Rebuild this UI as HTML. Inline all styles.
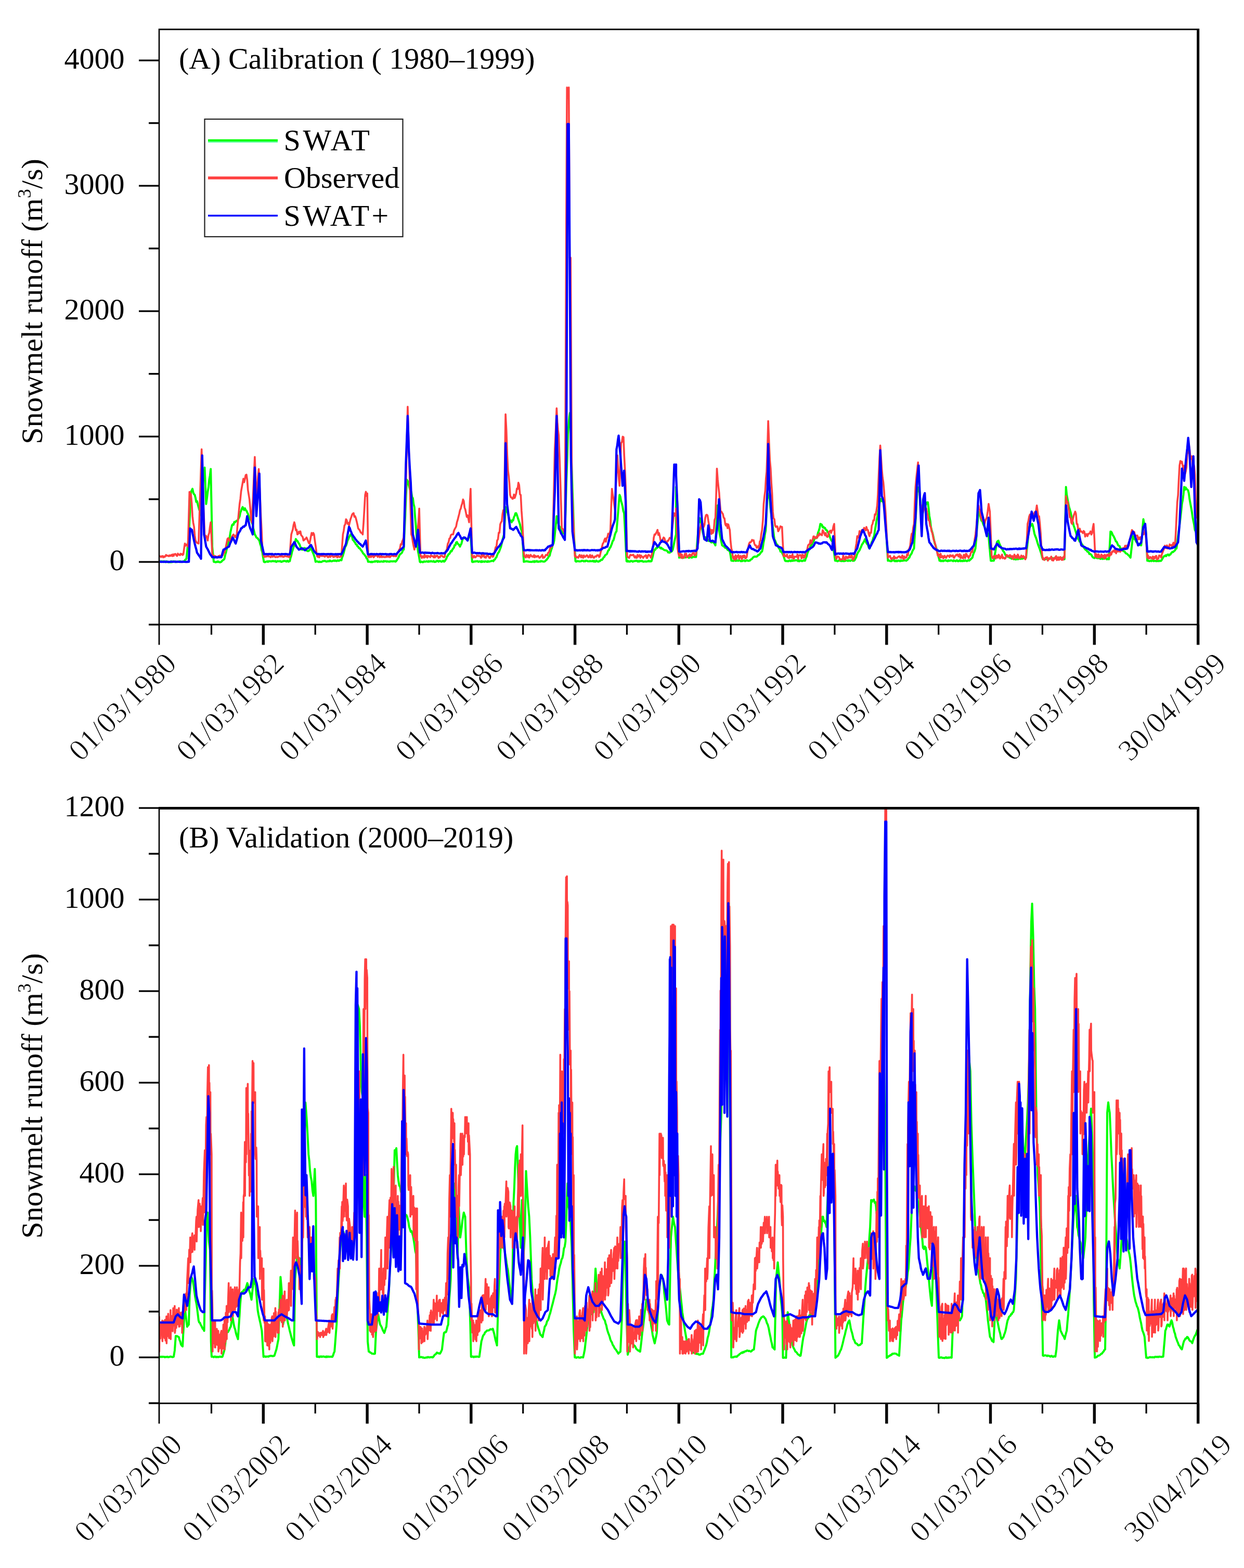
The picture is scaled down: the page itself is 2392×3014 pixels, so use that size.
<!DOCTYPE html><html><head><meta charset="utf-8"><style>html,body{margin:0;padding:0;background:#fff;overflow:hidden;}svg{display:block;}</style></head><body><svg width="2392" height="3014" viewBox="0 0 2392 3014">
<rect width="2392" height="3014" fill="#fff"/>
<clipPath id="clipA"><rect x="306.0" y="56.5" width="1997.5" height="1144.0"/></clipPath>
<g clip-path="url(#clipA)">
<polyline points="300.0,1079.9 301.3,1079.5 302.6,1079.2 303.9,1080.2 305.3,1079.0 306.6,1080.0 307.9,1079.6 309.2,1079.0 310.5,1079.9 311.8,1079.0 313.2,1079.8 314.5,1079.0 315.8,1079.1 317.1,1079.7 318.4,1080.5 319.7,1079.1 321.0,1079.3 322.4,1080.1 323.7,1080.8 325.0,1080.0 326.3,1079.7 327.6,1080.8 328.9,1079.0 330.2,1080.6 331.6,1079.5 332.9,1079.2 334.2,1079.1 335.5,1079.5 336.8,1080.5 338.1,1079.3 339.5,1080.1 340.8,1080.2 342.1,1079.6 343.4,1080.0 344.7,1079.0 346.0,1079.0 347.3,1079.3 348.7,1080.3 350.0,1079.7 351.3,1079.5 352.6,1079.9 354.1,1078.6 355.5,1076.9 357.0,1075.1 358.4,1074.1 360.0,1059.3 361.6,1043.6 363.1,1027.3 364.5,998.7 365.8,973.2 367.2,945.5 368.7,942.7 370.1,939.6 371.6,946.8 373.1,950.1 374.5,951.3 376.0,957.2 377.4,964.8 378.9,963.4 380.4,969.8 381.8,974.7 383.3,980.6 384.7,981.4 386.2,987.8 387.7,992.2 389.1,954.0 390.6,922.1 392.1,911.9 393.5,898.7 395.0,935.9 396.4,968.8 397.9,957.7 399.4,945.5 400.8,937.4 402.3,922.0 403.7,914.3 405.2,901.6 406.7,976.7 408.1,1050.7 409.6,1065.5 411.0,1079.9 412.4,1079.8 413.7,1080.6 415.0,1080.8 416.4,1079.8 417.7,1080.2 419.0,1079.0 420.3,1080.3 421.7,1080.2 423.0,1080.9 424.3,1080.5 425.7,1079.9 427.1,1078.0 428.6,1076.7 430.0,1075.9 431.5,1074.1 433.0,1067.0 434.4,1062.3 435.9,1055.5 437.3,1049.5 438.8,1043.3 440.3,1039.0 441.7,1032.7 443.2,1022.8 444.7,1015.9 446.1,1009.8 447.6,1007.8 449.0,1008.7 450.5,1003.3 452.0,1003.9 453.4,1002.2 454.9,1001.2 456.3,1001.5 457.8,998.1 459.3,995.9 460.7,992.3 462.2,985.1 463.6,982.0 465.1,977.7 466.6,974.7 468.0,978.5 469.5,980.4 471.0,977.0 472.4,980.5 473.9,981.6 475.3,984.8 476.8,987.8 478.3,992.2 479.7,995.1 481.2,998.5 482.6,999.8 484.1,1003.9 485.6,1007.4 487.0,1015.2 488.5,1020.9 489.9,1027.3 491.4,1029.5 492.9,1033.0 494.3,1033.9 495.8,1035.1 497.3,1037.5 498.7,1039.0 500.2,1045.4 501.6,1049.3 503.1,1057.7 504.6,1062.4 506.0,1071.8 507.5,1079.9 508.8,1080.6 510.1,1080.4 511.4,1079.6 512.7,1079.6 514.0,1078.9 515.3,1080.0 516.6,1078.8 517.9,1078.8 519.2,1079.0 520.6,1078.9 521.9,1079.2 523.2,1078.6 524.5,1078.5 525.8,1078.8 527.1,1078.6 528.4,1079.1 529.7,1078.4 531.0,1080.1 532.3,1079.5 533.6,1078.6 534.9,1078.8 536.2,1078.9 537.5,1078.9 538.9,1078.4 540.2,1079.8 541.5,1080.1 542.8,1079.0 544.1,1079.0 545.4,1078.2 546.7,1078.2 548.0,1078.6 549.3,1078.4 550.6,1079.5 551.9,1078.2 553.2,1077.9 554.5,1079.7 555.9,1078.8 557.2,1078.7 558.6,1072.4 560.1,1067.7 561.5,1060.8 563.0,1056.5 564.5,1051.5 565.9,1047.9 567.4,1042.5 568.8,1036.1 570.3,1039.0 571.8,1039.6 573.2,1042.2 574.7,1044.8 576.2,1046.7 577.6,1051.5 579.1,1053.7 580.5,1056.5 582.0,1056.6 583.5,1054.5 584.9,1053.5 586.4,1053.6 587.8,1056.0 589.3,1057.9 590.8,1059.0 592.2,1059.4 593.7,1058.9 595.1,1057.4 596.6,1055.8 598.1,1053.6 599.5,1056.5 601.0,1060.9 602.5,1064.2 603.9,1068.2 605.4,1073.0 606.8,1079.9 608.1,1078.9 609.5,1079.3 610.8,1079.2 612.1,1080.0 613.4,1080.4 614.7,1079.3 616.0,1080.2 617.3,1080.3 618.6,1080.1 619.9,1078.9 621.2,1078.5 622.5,1078.4 623.8,1078.3 625.1,1078.2 626.4,1079.0 627.8,1079.5 629.1,1079.3 630.4,1078.5 631.7,1078.7 633.0,1079.0 634.3,1077.4 635.6,1078.5 636.9,1079.0 638.2,1078.6 639.5,1078.5 640.8,1077.9 642.1,1077.2 643.4,1078.3 644.8,1077.3 646.1,1078.2 647.4,1078.5 648.7,1077.2 650.0,1077.2 651.3,1078.2 652.6,1077.7 653.9,1076.4 655.2,1076.3 656.5,1077.0 658.0,1071.1 659.4,1067.8 660.9,1062.5 662.4,1056.5 663.8,1051.0 665.3,1048.8 666.7,1045.0 668.2,1039.0 669.7,1036.6 671.1,1032.6 672.6,1030.4 674.1,1027.3 675.5,1028.8 677.0,1031.3 678.4,1037.8 679.9,1039.0 681.4,1041.5 682.8,1043.0 684.3,1046.3 685.7,1046.6 687.2,1049.9 688.7,1050.7 690.1,1053.6 691.6,1053.7 693.0,1055.8 694.5,1057.9 696.0,1059.7 697.4,1062.4 698.9,1064.5 700.4,1065.6 701.8,1068.0 703.3,1069.3 704.7,1073.0 706.2,1074.1 707.9,1079.9 709.3,1079.6 710.6,1079.8 711.9,1080.0 713.2,1080.6 714.5,1079.6 715.8,1080.6 717.1,1079.7 718.4,1079.7 719.8,1079.7 721.1,1078.6 722.4,1079.5 723.7,1078.9 725.0,1078.5 726.3,1080.1 727.6,1078.8 728.9,1079.4 730.2,1079.9 731.6,1079.5 732.9,1079.0 734.2,1079.4 735.5,1079.4 736.8,1079.8 738.1,1078.4 739.4,1079.3 740.7,1078.7 742.0,1078.7 743.4,1079.7 744.7,1079.1 746.0,1079.2 747.3,1079.6 748.6,1079.8 749.9,1078.9 751.2,1079.2 752.5,1078.9 753.8,1078.9 755.2,1079.3 756.5,1078.7 757.8,1078.9 759.1,1078.7 760.4,1079.7 761.7,1078.7 763.2,1076.5 764.6,1074.3 766.1,1071.9 767.6,1068.2 769.0,1065.6 770.5,1064.5 771.9,1063.6 773.4,1061.4 774.9,1057.4 776.3,1056.5 777.8,1021.3 779.3,989.0 780.7,952.7 782.2,922.1 783.5,923.9 784.9,926.5 786.3,933.8 787.8,939.0 789.4,943.7 790.9,945.5 792.4,955.6 793.9,957.7 795.3,968.8 796.8,974.7 798.2,994.6 799.7,1011.0 801.2,1033.2 802.6,1050.7 804.2,1061.7 805.7,1069.5 807.3,1079.9 808.6,1080.8 810.0,1079.6 811.3,1079.8 812.6,1080.7 814.0,1080.4 815.3,1079.0 816.6,1079.5 818.0,1079.7 819.3,1079.3 820.6,1079.0 821.9,1079.2 823.3,1079.9 824.6,1078.5 825.9,1079.5 827.3,1079.3 828.6,1078.4 829.9,1079.0 831.3,1079.6 832.6,1079.3 833.9,1078.4 835.3,1080.2 836.6,1079.8 837.9,1080.1 839.3,1078.3 840.6,1078.6 841.9,1078.1 843.2,1079.6 844.6,1078.5 845.9,1078.2 847.2,1078.8 848.6,1079.7 849.9,1079.5 851.2,1078.3 852.6,1078.1 853.9,1079.6 855.2,1078.7 856.7,1076.2 858.2,1073.9 859.6,1069.9 861.1,1068.2 862.5,1065.1 864.0,1064.8 865.5,1062.2 866.9,1059.2 868.4,1059.7 869.8,1056.5 871.3,1054.5 872.8,1052.6 874.2,1047.9 875.7,1048.0 877.1,1042.9 878.6,1041.9 880.1,1045.3 881.5,1046.1 883.0,1048.0 884.5,1050.7 885.9,1047.3 887.3,1045.1 888.7,1039.3 890.1,1035.3 891.5,1033.1 893.0,1034.4 894.5,1034.5 896.0,1035.2 897.5,1036.6 899.1,1039.0 900.5,1034.4 902.0,1032.0 903.4,1029.5 904.9,1027.3 906.4,1053.0 907.8,1079.9 909.2,1080.4 910.5,1079.4 911.8,1079.8 913.1,1079.1 914.4,1079.4 915.8,1078.7 917.1,1079.1 918.4,1078.6 919.7,1080.0 921.0,1079.6 922.3,1078.9 923.7,1079.4 925.0,1080.3 926.3,1078.6 927.6,1080.0 928.9,1079.2 930.3,1079.2 931.6,1079.9 932.9,1079.0 934.2,1079.2 935.5,1079.5 936.9,1080.0 938.2,1078.7 939.5,1079.7 940.8,1079.4 942.1,1079.2 943.5,1078.7 944.8,1078.5 946.1,1077.9 947.4,1078.0 948.7,1078.7 950.2,1075.9 951.7,1075.5 953.1,1072.5 954.6,1071.1 956.0,1066.9 957.5,1063.2 959.0,1061.8 960.4,1058.6 961.9,1054.6 963.4,1050.7 964.8,1044.1 966.3,1038.0 967.7,1032.3 969.2,1027.3 970.7,1000.8 972.1,974.7 973.6,977.0 975.0,983.1 976.5,986.5 978.0,992.2 979.4,997.6 980.9,1000.6 982.3,1001.2 983.8,1003.9 985.3,999.7 986.7,1000.5 988.2,994.1 989.7,991.4 991.1,986.5 992.6,986.4 994.0,990.1 995.5,995.0 997.0,999.5 998.4,1003.9 999.9,1008.3 1001.3,1015.6 1002.8,1019.3 1004.3,1027.3 1005.7,1052.9 1007.2,1079.9 1008.5,1079.0 1009.8,1079.6 1011.1,1078.9 1012.5,1078.8 1013.8,1079.3 1015.1,1079.1 1016.4,1079.8 1017.7,1079.7 1019.1,1080.1 1020.4,1079.8 1021.7,1079.9 1023.0,1080.2 1024.3,1079.2 1025.7,1079.0 1027.0,1080.3 1028.3,1078.6 1029.6,1079.7 1030.9,1079.5 1032.3,1078.3 1033.6,1079.8 1034.9,1079.9 1036.2,1079.3 1037.5,1079.5 1038.9,1079.6 1040.2,1078.2 1041.5,1079.0 1042.8,1078.9 1044.1,1079.5 1045.5,1079.4 1046.8,1079.4 1048.1,1078.7 1049.6,1077.1 1051.0,1076.1 1052.5,1073.9 1053.9,1072.2 1055.4,1069.3 1056.9,1068.2 1058.3,1062.1 1059.8,1057.4 1061.3,1053.2 1062.7,1047.4 1064.2,1045.0 1065.6,1039.0 1067.2,1023.6 1068.8,1008.4 1070.3,992.2 1071.7,998.7 1073.0,1004.8 1074.4,1009.8 1075.9,1012.6 1077.3,1013.3 1078.8,1019.8 1080.2,1021.4 1081.7,1024.0 1083.2,1024.4 1084.6,1026.0 1086.1,1027.3 1087.6,980.0 1089.0,927.4 1090.5,885.0 1091.9,834.4 1093.3,817.7 1094.7,801.7 1096.0,793.5 1097.8,846.4 1099.5,904.6 1100.9,947.2 1102.3,984.7 1103.6,1027.3 1105.1,1053.7 1106.5,1078.7 1107.9,1079.7 1109.2,1078.7 1110.6,1078.5 1111.9,1078.7 1113.2,1079.1 1114.6,1079.3 1115.9,1079.0 1117.2,1079.0 1118.6,1077.9 1119.9,1078.0 1121.2,1078.2 1122.6,1079.2 1123.9,1078.3 1125.2,1078.9 1126.6,1077.7 1127.9,1077.8 1129.3,1078.3 1130.6,1079.1 1131.9,1079.1 1133.3,1079.1 1134.6,1078.3 1135.9,1078.8 1137.3,1078.7 1138.6,1078.7 1139.9,1078.0 1141.3,1079.5 1142.6,1078.1 1144.0,1079.7 1145.3,1079.6 1146.6,1077.7 1148.0,1078.6 1149.3,1079.4 1150.6,1079.7 1152.0,1078.6 1153.3,1078.7 1154.8,1077.1 1156.2,1075.8 1157.7,1076.2 1159.1,1074.1 1160.6,1071.4 1162.1,1070.3 1163.5,1067.3 1165.0,1066.3 1166.5,1065.5 1167.9,1062.4 1169.4,1058.4 1170.8,1057.5 1172.3,1053.6 1173.8,1051.9 1175.2,1048.4 1176.7,1044.8 1178.1,1040.0 1179.6,1038.5 1181.1,1033.1 1182.5,1027.3 1184.0,1023.3 1185.4,1021.4 1186.9,1003.9 1188.4,986.1 1189.8,967.6 1191.3,951.3 1192.8,954.7 1194.2,963.0 1195.7,967.8 1197.1,973.6 1198.6,982.6 1200.1,986.4 1201.6,1014.9 1203.2,1048.8 1204.7,1078.7 1206.1,1079.4 1207.4,1078.0 1208.7,1079.6 1210.1,1079.2 1211.4,1079.5 1212.7,1078.3 1214.1,1078.5 1215.4,1078.5 1216.7,1079.7 1218.0,1078.9 1219.4,1078.4 1220.7,1078.6 1222.0,1078.3 1223.4,1077.8 1224.7,1077.9 1226.0,1079.4 1227.4,1078.3 1228.7,1079.6 1230.0,1078.2 1231.4,1078.3 1232.7,1078.7 1234.0,1078.1 1235.4,1078.5 1236.7,1079.7 1238.0,1079.5 1239.3,1079.4 1240.7,1079.0 1242.0,1079.6 1243.3,1079.6 1244.7,1078.8 1246.0,1079.2 1247.3,1077.8 1248.7,1079.2 1250.0,1078.6 1251.3,1079.2 1252.7,1078.7 1254.1,1073.5 1255.6,1067.1 1257.0,1060.9 1258.5,1056.5 1260.0,1056.8 1261.4,1053.5 1262.9,1053.5 1264.3,1052.1 1265.8,1051.0 1267.3,1050.7 1268.7,1052.4 1270.2,1054.1 1271.7,1052.9 1273.1,1055.0 1274.6,1055.0 1276.0,1056.5 1277.5,1057.4 1279.0,1057.7 1280.4,1057.8 1281.9,1058.5 1283.3,1059.4 1284.8,1062.0 1286.3,1061.6 1287.7,1062.4 1289.2,1060.1 1290.6,1060.6 1292.1,1059.4 1293.6,1056.5 1295.2,1049.1 1296.8,1040.6 1298.4,1033.4 1300.0,1027.3 1300.0,936.1 1301.5,954.0 1303.0,977.4 1304.4,1024.0 1305.9,1071.9 1307.3,1070.9 1308.6,1071.2 1310.0,1071.2 1311.3,1071.9 1312.7,1072.6 1314.0,1072.2 1315.4,1071.4 1316.7,1071.3 1318.1,1071.5 1319.4,1071.1 1320.8,1071.0 1322.1,1070.3 1323.5,1070.7 1324.8,1072.3 1326.2,1070.3 1327.5,1071.1 1328.9,1071.4 1330.3,1071.9 1331.6,1070.3 1333.0,1070.4 1334.3,1070.3 1335.7,1070.6 1337.0,1070.6 1338.4,1070.7 1339.8,1053.2 1341.3,1034.3 1342.8,1015.8 1344.3,995.2 1345.7,996.6 1347.0,1000.7 1348.4,1007.0 1350.0,1015.8 1351.6,1024.4 1353.1,1030.6 1354.6,1032.0 1356.1,1033.9 1357.6,1033.1 1359.0,1036.5 1360.5,1036.8 1362.0,1039.5 1363.5,1039.9 1364.9,1039.4 1366.4,1041.4 1367.9,1042.6 1369.4,1040.8 1370.8,1042.4 1372.4,1043.0 1374.0,1045.2 1375.6,1048.3 1376.9,1022.8 1378.3,998.1 1379.7,971.5 1381.2,997.5 1382.6,1018.8 1384.1,1027.1 1385.6,1034.1 1387.1,1041.8 1388.5,1048.3 1390.0,1049.1 1391.5,1050.4 1393.0,1049.8 1394.5,1053.1 1395.9,1052.4 1397.4,1054.2 1398.9,1056.9 1400.4,1057.6 1401.8,1058.1 1403.3,1060.1 1404.8,1068.0 1406.3,1077.8 1407.6,1077.3 1408.9,1078.1 1410.2,1078.2 1411.5,1077.0 1412.8,1076.9 1414.1,1077.9 1415.4,1078.0 1416.8,1077.6 1418.1,1077.2 1419.4,1078.0 1420.7,1076.8 1422.0,1077.4 1423.3,1077.7 1424.6,1078.8 1425.9,1078.1 1427.2,1078.6 1428.6,1077.8 1429.9,1077.3 1431.2,1077.3 1432.5,1078.8 1433.8,1078.2 1435.1,1077.4 1436.4,1076.8 1437.7,1077.8 1439.1,1078.2 1440.4,1077.6 1441.7,1077.8 1443.2,1075.8 1444.6,1075.2 1446.1,1074.3 1447.6,1071.9 1449.1,1070.8 1450.5,1069.8 1452.0,1070.0 1453.5,1069.7 1455.0,1069.9 1456.4,1068.9 1457.9,1066.7 1459.4,1066.8 1460.9,1065.1 1462.3,1063.1 1463.8,1060.8 1465.3,1060.1 1466.7,1053.3 1468.1,1042.9 1469.5,1036.5 1471.0,1025.9 1472.4,1018.8 1474.1,981.7 1475.9,947.9 1477.3,953.7 1478.7,954.4 1480.0,959.7 1481.4,976.3 1482.8,987.3 1484.2,1001.1 1485.8,1011.4 1487.3,1023.5 1488.9,1036.5 1490.4,1039.1 1491.9,1043.0 1493.3,1046.8 1494.8,1047.1 1496.3,1050.9 1497.8,1054.2 1499.3,1055.7 1500.8,1060.3 1502.4,1060.3 1503.9,1062.5 1505.4,1066.0 1506.8,1068.9 1508.2,1073.6 1509.6,1077.8 1510.9,1078.6 1512.2,1078.6 1513.5,1078.3 1514.9,1078.8 1516.2,1078.7 1517.5,1077.5 1518.8,1077.2 1520.1,1078.7 1521.5,1078.3 1522.8,1076.8 1524.1,1078.1 1525.4,1077.6 1526.8,1077.5 1528.1,1077.5 1529.4,1077.1 1530.7,1076.8 1532.1,1077.3 1533.4,1077.5 1534.7,1078.7 1536.0,1077.0 1537.3,1078.8 1538.7,1077.2 1540.0,1077.5 1541.3,1078.5 1542.6,1078.5 1544.0,1077.7 1545.3,1076.9 1546.6,1077.7 1547.9,1077.8 1549.4,1073.1 1550.9,1070.0 1552.4,1063.7 1553.8,1060.1 1555.3,1056.7 1556.8,1055.4 1558.3,1049.8 1559.7,1048.0 1561.2,1046.4 1562.7,1042.4 1564.2,1041.4 1565.6,1036.8 1567.1,1034.8 1568.6,1032.9 1570.1,1034.2 1571.5,1030.6 1573.0,1023.7 1574.5,1019.9 1576.0,1014.7 1577.4,1007.0 1578.9,1007.7 1580.4,1008.8 1581.9,1013.6 1583.4,1012.9 1584.8,1014.9 1586.3,1014.7 1587.8,1018.3 1589.3,1018.8 1590.7,1020.9 1592.2,1023.7 1593.7,1025.6 1595.2,1030.6 1596.6,1034.5 1598.1,1038.0 1599.6,1039.9 1601.1,1042.4 1602.6,1055.5 1604.2,1064.8 1605.8,1077.8 1607.1,1077.3 1608.4,1077.8 1609.7,1078.7 1611.0,1078.7 1612.3,1077.6 1613.6,1077.3 1614.9,1077.7 1616.2,1077.8 1617.5,1078.7 1618.9,1077.1 1620.2,1078.4 1621.5,1078.3 1622.8,1078.5 1624.1,1078.4 1625.4,1078.0 1626.7,1077.4 1628.0,1077.4 1629.3,1077.5 1630.6,1078.4 1631.9,1076.9 1633.2,1077.2 1634.5,1078.3 1635.8,1077.3 1637.2,1076.9 1638.5,1076.8 1639.8,1077.9 1641.1,1077.4 1642.4,1077.8 1643.7,1076.2 1645.0,1073.4 1646.3,1071.1 1647.6,1066.7 1648.9,1063.6 1650.3,1061.0 1651.6,1059.4 1652.9,1057.4 1654.2,1054.2 1655.7,1051.1 1657.1,1047.4 1658.6,1045.1 1660.1,1042.8 1661.6,1040.1 1663.0,1036.5 1664.5,1040.3 1666.0,1043.6 1667.5,1045.9 1668.9,1047.1 1670.4,1052.3 1671.9,1054.2 1673.4,1049.6 1674.9,1046.5 1676.3,1041.9 1677.8,1039.3 1679.3,1033.4 1680.8,1030.6 1682.2,1020.6 1683.7,1011.7 1685.2,1002.3 1686.7,995.2 1688.1,988.5 1689.6,977.9 1691.1,967.5 1692.6,959.7 1693.9,959.0 1695.3,963.1 1696.7,959.7 1698.3,965.7 1699.8,969.8 1701.4,977.4 1702.9,1004.1 1704.4,1028.3 1705.8,1054.2 1707.3,1077.8 1708.6,1077.0 1709.9,1077.8 1711.3,1078.5 1712.6,1078.5 1713.9,1078.7 1715.2,1076.9 1716.5,1077.4 1717.8,1077.0 1719.1,1077.2 1720.4,1078.8 1721.7,1078.0 1723.1,1078.7 1724.4,1077.5 1725.7,1078.6 1727.0,1077.7 1728.3,1077.3 1729.6,1078.4 1730.9,1078.7 1732.2,1077.0 1733.6,1078.0 1734.9,1078.1 1736.2,1077.2 1737.5,1077.5 1738.8,1077.1 1740.1,1077.2 1741.4,1077.3 1742.7,1077.8 1744.2,1076.5 1745.7,1075.2 1747.2,1072.7 1748.6,1071.9 1750.1,1067.8 1751.6,1065.6 1753.1,1063.5 1754.5,1059.2 1756.0,1056.6 1757.5,1054.2 1759.0,1026.4 1760.4,1002.6 1761.9,974.8 1763.4,947.9 1764.8,940.8 1766.2,937.0 1767.5,936.1 1769.1,955.1 1770.7,975.8 1772.3,995.2 1773.7,990.0 1775.2,981.0 1776.7,975.4 1778.2,971.5 1779.6,971.3 1781.1,968.0 1782.6,965.7 1784.1,965.6 1785.5,976.3 1787.0,991.8 1788.5,1000.1 1790.0,1012.9 1791.4,1019.1 1792.9,1024.1 1794.4,1030.2 1795.9,1037.8 1797.3,1044.1 1798.8,1048.3 1800.4,1053.8 1801.9,1059.3 1803.4,1066.6 1805.0,1071.2 1806.5,1077.8 1807.8,1076.8 1809.1,1078.6 1810.4,1077.6 1811.7,1078.5 1813.0,1077.6 1814.3,1078.6 1815.6,1077.7 1816.9,1077.1 1818.2,1076.8 1819.5,1077.9 1820.8,1078.1 1822.1,1078.7 1823.4,1077.0 1824.7,1078.1 1826.0,1077.5 1827.3,1077.8 1828.6,1077.1 1829.9,1077.4 1831.2,1077.8 1832.5,1078.7 1833.8,1077.0 1835.1,1077.8 1836.4,1078.4 1837.7,1078.8 1839.0,1077.2 1840.3,1077.0 1841.6,1078.7 1842.9,1078.8 1844.2,1077.8 1845.5,1076.9 1846.8,1078.7 1848.1,1077.6 1849.4,1078.6 1850.7,1078.1 1852.0,1078.5 1853.3,1077.1 1854.6,1078.4 1855.9,1077.2 1857.2,1077.6 1858.5,1078.5 1859.9,1078.5 1861.2,1077.1 1862.5,1077.2 1863.8,1077.8 1865.2,1076.1 1866.7,1074.9 1868.2,1073.1 1869.7,1071.9 1871.1,1066.5 1872.6,1062.4 1874.1,1059.3 1875.6,1054.2 1877.0,1038.0 1878.5,1016.7 1880.0,1001.4 1881.5,983.4 1882.8,988.8 1884.2,988.7 1885.6,995.2 1887.2,1000.9 1888.7,1001.1 1890.3,1007.0 1891.8,1010.4 1893.3,1013.1 1894.7,1016.4 1896.2,1018.8 1897.8,1021.9 1899.4,1026.3 1900.9,1030.6 1902.3,1046.6 1903.7,1061.9 1905.1,1077.8 1906.6,1078.1 1908.0,1077.7 1909.5,1077.7 1911.0,1077.8 1912.5,1067.8 1913.9,1060.4 1915.4,1051.2 1916.9,1042.4 1918.4,1040.0 1919.8,1039.4 1921.3,1044.0 1922.8,1047.7 1924.3,1050.4 1925.7,1054.2 1927.2,1055.7 1928.7,1059.0 1930.2,1060.5 1931.6,1063.1 1933.1,1066.3 1934.6,1068.9 1935.9,1068.5 1937.3,1069.9 1938.6,1070.6 1940.0,1070.0 1941.3,1071.9 1942.6,1071.2 1944.0,1073.2 1945.3,1073.9 1946.7,1073.8 1948.0,1073.3 1949.4,1074.9 1950.7,1074.7 1952.0,1074.3 1953.3,1075.4 1954.6,1073.4 1955.9,1074.8 1957.2,1075.0 1958.5,1074.2 1959.8,1074.2 1961.2,1072.7 1962.5,1074.3 1963.8,1073.0 1965.1,1073.9 1966.4,1073.7 1967.7,1071.8 1969.0,1073.1 1970.3,1073.2 1971.7,1071.1 1973.0,1071.9 1974.4,1056.7 1975.9,1043.3 1977.4,1026.2 1978.9,1012.9 1980.3,1013.3 1981.8,1008.8 1983.3,1010.0 1984.8,1007.0 1986.2,1011.2 1987.7,1018.8 1989.2,1026.4 1990.7,1030.6 1992.1,1033.9 1993.6,1038.6 1995.1,1043.9 1996.6,1048.3 1998.1,1052.2 1999.5,1055.8 2001.0,1060.7 2002.5,1065.1 2004.0,1071.5 2005.4,1074.9 2006.8,1075.1 2008.1,1075.5 2009.5,1073.8 2010.8,1075.0 2012.2,1073.4 2013.5,1074.2 2014.9,1074.3 2016.3,1073.6 2017.6,1074.6 2019.0,1073.7 2020.3,1073.7 2021.7,1074.2 2023.0,1072.4 2024.4,1074.2 2025.7,1073.3 2027.1,1072.6 2028.4,1073.4 2029.8,1072.1 2031.1,1073.6 2032.5,1072.6 2033.8,1071.9 2035.2,1072.8 2036.5,1071.9 2037.9,1071.9 2039.4,1071.7 2040.9,1073.4 2042.3,1072.4 2043.8,1074.6 2045.3,1073.8 2046.8,1074.9 2048.2,1006.2 2049.7,936.1 2051.2,951.4 2052.7,959.7 2054.1,967.2 2055.6,974.5 2057.1,979.3 2058.6,984.5 2060.0,991.7 2061.5,1001.1 2063.0,1003.8 2064.5,1010.5 2065.9,1014.0 2067.4,1018.8 2068.9,1023.3 2070.4,1029.2 2071.8,1030.6 2073.3,1036.5 2074.6,1037.5 2075.9,1041.0 2077.3,1040.7 2078.6,1042.7 2079.9,1045.8 2081.2,1047.0 2082.5,1049.8 2083.8,1051.4 2085.1,1054.2 2086.5,1055.8 2087.8,1057.2 2089.2,1057.4 2090.6,1060.0 2091.9,1060.9 2093.3,1061.4 2094.7,1064.9 2096.0,1064.4 2097.4,1065.6 2098.7,1066.8 2100.1,1069.5 2101.5,1071.4 2102.8,1071.9 2104.2,1072.7 2105.5,1071.9 2106.9,1071.8 2108.2,1071.3 2109.5,1072.9 2110.9,1072.8 2112.2,1072.5 2113.6,1073.3 2114.9,1073.0 2116.2,1074.2 2117.6,1073.9 2118.9,1072.9 2120.3,1074.5 2121.6,1072.8 2123.0,1074.0 2124.3,1073.8 2125.6,1073.6 2127.0,1073.3 2128.3,1075.1 2129.7,1073.5 2131.0,1074.8 2132.3,1074.9 2133.8,1049.7 2135.3,1021.7 2136.8,1022.4 2138.3,1024.9 2139.7,1028.8 2141.2,1030.6 2142.7,1033.6 2144.2,1037.0 2145.6,1040.6 2147.1,1041.3 2148.6,1044.7 2150.1,1048.3 2151.4,1049.0 2152.7,1049.5 2154.0,1053.4 2155.3,1054.4 2156.6,1055.5 2157.9,1054.7 2159.2,1058.5 2160.6,1059.5 2161.9,1060.1 2163.2,1061.3 2164.5,1063.4 2165.8,1063.9 2167.1,1064.6 2168.4,1065.7 2169.7,1067.3 2171.0,1068.2 2172.4,1070.2 2173.7,1071.9 2175.2,1058.8 2176.8,1045.0 2178.4,1030.6 2179.8,1034.3 2181.2,1036.1 2182.6,1036.8 2184.1,1040.2 2185.5,1042.4 2187.0,1043.1 2188.4,1045.3 2189.9,1045.4 2191.4,1045.5 2192.9,1047.8 2194.3,1048.3 2195.7,1033.4 2197.1,1013.5 2198.5,998.1 2200.0,1006.9 2201.6,1009.6 2203.2,1018.8 2204.7,1047.5 2206.1,1077.8 2207.5,1077.3 2208.8,1078.3 2210.1,1078.7 2211.5,1078.3 2212.8,1077.4 2214.1,1078.6 2215.4,1077.4 2216.8,1077.3 2218.1,1078.6 2219.4,1078.1 2220.7,1078.2 2222.1,1078.1 2223.4,1078.8 2224.7,1077.7 2226.1,1078.5 2227.4,1078.2 2228.7,1078.5 2230.0,1077.7 2231.4,1078.3 2232.7,1077.8 2234.2,1075.7 2235.7,1072.9 2237.1,1070.5 2238.6,1068.9 2239.9,1068.9 2241.2,1067.3 2242.5,1069.0 2243.9,1066.8 2245.2,1066.1 2246.5,1066.0 2247.8,1067.7 2249.1,1065.9 2250.4,1066.0 2251.7,1063.8 2253.0,1062.1 2254.3,1060.8 2255.7,1061.3 2257.0,1059.8 2258.3,1058.7 2259.6,1057.5 2260.9,1054.2 2262.2,1054.2 2263.7,1042.7 2265.2,1030.0 2266.6,1020.2 2268.1,1008.5 2269.6,997.3 2271.1,983.4 2272.6,968.8 2274.0,962.2 2275.5,950.9 2277.0,936.1 2278.5,941.5 2279.9,937.1 2281.4,939.8 2282.9,941.1 2284.4,942.5 2285.8,947.9 2287.3,959.2 2288.8,967.7 2290.3,975.3 2291.7,983.4 2293.2,994.0 2294.7,1001.7 2296.2,1008.9 2297.6,1018.8 2299.1,1021.5 2300.6,1026.0 2302.1,1033.1 2303.5,1036.5" fill="none" stroke="#00ff00" stroke-width="4.0" stroke-linejoin="round"/>
<polyline points="300.0,1071.1 301.4,1069.7 302.8,1070.0 304.1,1070.3 305.5,1068.5 306.9,1069.3 308.3,1069.2 309.6,1070.8 311.0,1069.2 312.4,1068.8 313.8,1071.4 315.1,1069.3 316.5,1070.6 317.9,1069.4 319.3,1066.7 320.6,1068.2 322.0,1068.1 323.4,1068.2 324.7,1069.2 326.0,1067.3 327.4,1068.7 328.7,1067.8 330.0,1066.3 331.3,1069.0 332.7,1065.5 334.0,1068.5 335.3,1065.6 336.7,1064.7 338.0,1065.4 339.3,1067.8 340.6,1068.6 342.0,1064.2 343.3,1066.2 344.6,1066.0 346.0,1067.3 347.3,1064.4 348.6,1065.7 349.9,1064.9 351.3,1066.9 352.6,1065.3 354.1,1053.8 355.5,1044.8 357.0,1048.8 358.4,1046.6 359.9,1047.7 361.4,1050.7 362.8,999.8 364.3,945.5 365.8,948.4 367.2,951.3 368.7,967.8 370.1,992.2 371.6,1005.0 373.1,1012.5 374.5,1029.2 376.0,1039.0 377.4,1041.6 378.9,1043.6 380.4,1044.1 381.8,1044.8 383.3,998.3 384.7,953.1 386.2,907.5 387.7,863.6 389.1,918.6 390.6,963.0 392.1,991.6 393.5,1027.3 395.0,1032.8 396.4,1030.1 397.9,1034.2 399.4,1039.0 400.8,1028.7 402.3,1024.3 403.7,1012.7 405.2,1003.9 406.7,1033.8 408.1,1065.3 409.6,1069.0 411.0,1069.4 412.4,1068.3 413.7,1069.2 415.0,1069.5 416.4,1070.4 417.7,1070.4 419.0,1070.0 420.3,1068.7 421.7,1068.6 423.0,1067.9 424.3,1070.8 425.7,1069.4 427.1,1068.3 428.6,1066.9 430.0,1062.6 431.5,1062.4 433.0,1055.5 434.4,1050.7 435.9,1043.1 437.3,1036.1 438.8,1034.5 440.3,1037.3 441.7,1040.6 443.2,1039.0 444.7,1034.4 446.1,1031.2 447.6,1028.9 449.0,1027.3 450.5,1030.1 452.0,1032.5 453.4,1029.4 454.9,1033.1 456.3,1014.5 457.8,998.9 459.3,983.3 460.7,968.8 462.2,958.9 463.6,944.5 465.1,936.1 466.6,927.9 468.0,920.3 469.5,926.9 471.0,920.0 472.4,913.3 473.9,912.4 475.3,922.1 476.8,942.3 478.3,951.3 479.7,960.3 481.2,976.5 482.6,995.1 484.1,1003.9 485.6,975.5 487.0,943.9 488.5,908.8 489.9,878.3 491.4,916.6 492.9,963.0 494.4,944.2 496.0,917.0 497.5,901.6 498.9,928.2 500.3,960.8 501.6,992.2 503.1,1021.2 504.6,1056.5 506.0,1062.5 507.5,1069.4 508.8,1070.6 510.1,1070.2 511.4,1069.4 512.7,1069.9 514.0,1069.2 515.3,1067.9 516.6,1069.8 517.9,1069.0 519.2,1070.4 520.6,1071.1 521.9,1069.1 523.2,1069.7 524.5,1070.4 525.8,1069.0 527.1,1068.2 528.4,1070.3 529.7,1071.0 531.0,1070.5 532.3,1070.2 533.6,1070.9 534.9,1070.1 536.2,1070.0 537.5,1069.2 538.9,1068.6 540.2,1069.9 541.5,1067.7 542.8,1069.0 544.1,1070.6 545.4,1070.3 546.7,1069.9 548.0,1068.3 549.3,1069.1 550.6,1069.2 551.9,1069.9 553.2,1069.0 554.5,1070.1 555.9,1071.2 557.2,1069.4 558.6,1046.6 560.1,1027.3 561.5,1022.5 563.0,1017.7 564.5,1008.9 565.9,1003.9 567.4,1009.7 568.8,1019.1 570.3,1018.2 571.8,1027.3 573.2,1026.1 574.7,1022.0 576.2,1024.9 577.6,1021.4 579.1,1028.8 580.5,1030.3 582.0,1032.1 583.5,1039.0 584.9,1038.0 586.4,1036.3 587.8,1036.0 589.3,1033.1 590.8,1036.1 592.2,1039.8 593.7,1043.8 595.1,1044.8 596.5,1038.1 597.9,1030.6 599.2,1024.4 600.8,1028.4 602.4,1024.4 603.9,1027.3 605.5,1040.1 607.0,1050.1 608.6,1062.4 609.8,1069.4 611.1,1070.5 612.4,1067.8 613.8,1071.4 615.1,1068.8 616.4,1067.5 617.8,1068.4 619.1,1069.0 620.4,1067.3 621.8,1069.0 623.1,1069.0 624.5,1070.2 625.8,1068.8 627.1,1068.4 628.5,1068.2 629.8,1070.4 631.1,1071.2 632.5,1069.5 633.8,1068.2 635.1,1070.6 636.5,1068.9 637.8,1068.2 639.2,1067.8 640.5,1070.5 641.8,1070.7 643.2,1069.9 644.5,1069.2 645.8,1069.6 647.2,1068.2 648.5,1071.3 649.8,1068.8 651.2,1070.0 652.5,1070.7 653.8,1070.7 655.2,1069.2 656.5,1069.4 658.0,1047.2 659.4,1027.3 660.9,1020.3 662.4,1009.8 663.8,1008.1 665.3,998.1 666.7,999.8 668.2,1006.8 669.7,1005.0 671.1,1009.8 672.6,1003.6 674.1,997.5 675.5,993.8 677.0,989.3 678.4,987.2 679.9,986.3 681.4,993.5 682.8,992.2 684.3,996.2 685.7,1001.8 687.2,1008.2 688.7,1015.6 690.1,1017.4 691.6,1019.0 693.0,1022.4 694.5,1024.5 696.0,1024.4 697.4,1027.3 699.0,1005.5 700.5,980.1 702.1,951.3 703.5,945.3 704.8,953.1 706.2,948.4 707.9,1069.4 709.3,1071.1 710.6,1070.6 711.9,1067.9 713.2,1070.8 714.5,1069.9 715.8,1067.3 717.1,1067.3 718.4,1071.3 719.8,1070.0 721.1,1068.3 722.4,1067.7 723.7,1067.9 725.0,1068.3 726.3,1070.5 727.6,1068.7 728.9,1067.9 730.2,1071.1 731.6,1070.6 732.9,1068.0 734.2,1071.0 735.5,1069.8 736.8,1070.6 738.1,1070.1 739.4,1071.0 740.7,1070.6 742.0,1070.8 743.4,1068.1 744.7,1070.2 746.0,1069.5 747.3,1070.4 748.6,1069.1 749.9,1071.0 751.2,1069.6 752.5,1068.4 753.8,1068.3 755.2,1067.9 756.5,1069.3 757.8,1067.5 759.1,1069.2 760.4,1067.9 761.7,1069.4 763.2,1066.1 764.6,1062.9 766.1,1059.9 767.6,1056.5 769.0,1054.5 770.5,1046.0 771.9,1046.8 773.4,1040.7 774.9,1037.4 776.3,1033.1 777.7,1001.4 779.1,970.4 780.4,933.8 782.2,855.7 783.9,781.8 786.3,869.5 787.8,921.0 789.4,979.2 790.9,1027.3 792.4,1031.9 793.9,1042.7 795.3,1049.9 796.8,1056.5 798.3,1048.2 799.9,1045.5 801.5,1039.0 803.0,1020.3 804.6,1002.8 806.1,977.6 808.5,1069.4 809.8,1068.3 811.1,1072.6 812.5,1069.4 813.8,1069.3 815.2,1072.0 816.5,1066.3 817.8,1070.8 819.2,1070.2 820.5,1068.3 821.8,1071.8 823.2,1068.5 824.5,1069.2 825.8,1069.5 827.2,1071.2 828.5,1067.5 829.8,1068.9 831.2,1068.9 832.5,1069.7 833.9,1071.5 835.2,1068.0 836.5,1071.5 837.9,1068.7 839.2,1069.4 840.5,1067.9 841.9,1069.4 843.2,1072.5 844.5,1070.4 845.9,1071.3 847.2,1068.3 848.6,1068.2 849.9,1068.0 851.2,1069.9 852.6,1070.3 853.9,1071.3 855.2,1069.4 856.7,1060.0 858.2,1058.7 859.6,1053.9 861.1,1044.8 862.5,1042.3 864.0,1035.2 865.5,1034.3 866.9,1028.8 868.4,1027.4 869.8,1027.3 871.3,1027.3 872.8,1020.5 874.2,1017.2 875.7,1014.6 877.1,1012.0 878.6,1003.9 880.1,999.3 881.5,993.5 883.0,987.9 884.5,980.5 885.9,977.8 887.4,971.5 888.8,967.5 890.3,960.1 891.8,963.0 893.2,975.3 894.7,979.3 896.1,986.4 897.6,993.7 899.1,990.7 900.5,996.1 902.0,1003.9 903.4,966.0 904.9,939.6 906.4,1007.4 907.8,1069.4 909.2,1072.1 910.5,1070.4 911.8,1068.5 913.1,1071.5 914.4,1071.3 915.8,1069.8 917.1,1067.8 918.4,1068.1 919.7,1068.9 921.0,1068.2 922.3,1068.9 923.7,1070.3 925.0,1072.2 926.3,1066.4 927.6,1069.8 928.9,1066.3 930.3,1066.9 931.6,1071.4 932.9,1069.9 934.2,1072.1 935.5,1069.0 936.9,1066.2 938.2,1068.6 939.5,1070.0 940.8,1072.3 942.1,1072.6 943.5,1069.2 944.8,1068.8 946.1,1066.7 947.4,1070.3 948.7,1069.4 950.2,1062.7 951.7,1057.5 953.1,1051.7 954.6,1050.7 956.0,1038.8 957.5,1036.7 959.0,1023.8 960.4,1024.0 961.9,1007.6 963.4,1003.9 964.8,1002.1 966.3,988.1 967.7,980.8 969.2,980.5 970.7,892.3 972.1,796.4 973.7,827.1 975.2,872.9 976.8,904.6 978.2,915.3 979.5,929.1 980.9,951.3 982.3,956.0 983.8,956.2 985.3,959.0 986.7,958.3 988.2,950.6 989.7,957.2 991.1,953.1 992.5,948.4 993.9,939.1 995.3,940.2 996.7,927.9 998.2,932.1 999.8,950.1 1001.3,951.3 1002.8,981.7 1004.3,1001.8 1005.7,1030.4 1007.2,1062.4 1008.4,1069.4 1009.7,1070.4 1011.0,1071.5 1012.3,1066.6 1013.7,1068.1 1015.0,1070.9 1016.3,1067.2 1017.6,1071.8 1019.0,1069.3 1020.3,1066.5 1021.6,1068.5 1022.9,1069.9 1024.3,1069.0 1025.6,1070.5 1026.9,1067.0 1028.2,1071.3 1029.6,1068.5 1030.9,1070.3 1032.2,1070.2 1033.5,1068.8 1034.9,1068.6 1036.2,1071.3 1037.5,1072.3 1038.8,1071.3 1040.2,1069.8 1041.5,1068.0 1042.8,1066.5 1044.1,1072.5 1045.5,1070.7 1046.8,1071.5 1048.1,1069.4 1049.6,1066.5 1051.0,1066.6 1052.5,1067.4 1053.9,1062.4 1055.4,1061.8 1056.9,1057.3 1058.3,1052.1 1059.8,1050.1 1061.3,1050.8 1062.7,1044.8 1064.1,983.0 1065.4,926.9 1066.8,863.6 1068.6,826.4 1070.3,784.7 1071.7,811.2 1073.0,826.4 1074.4,837.3 1075.9,878.0 1077.3,918.9 1078.8,968.1 1080.2,1015.6 1081.7,1016.3 1083.2,1019.4 1084.6,1023.0 1086.1,1021.4 1087.5,747.3 1088.8,432.6 1090.2,168.1 1091.9,188.4 1093.7,168.1 1095.4,495.4 1097.2,495.4 1099.5,933.8 1101.0,971.6 1102.5,1005.5 1103.9,1036.1 1105.4,1069.4 1106.7,1067.9 1108.0,1071.7 1109.4,1071.4 1110.7,1070.6 1112.0,1072.1 1113.4,1068.4 1114.7,1066.6 1116.0,1069.7 1117.4,1071.3 1118.7,1067.4 1120.0,1071.0 1121.4,1072.2 1122.7,1067.6 1124.0,1070.1 1125.3,1070.5 1126.7,1069.1 1128.0,1067.4 1129.3,1067.8 1130.7,1071.0 1132.0,1071.3 1133.3,1069.1 1134.7,1066.7 1136.0,1071.4 1137.3,1071.2 1138.7,1067.6 1140.0,1069.9 1141.3,1072.0 1142.7,1071.9 1144.0,1069.5 1145.3,1069.2 1146.6,1070.0 1148.0,1067.3 1149.3,1067.3 1150.6,1067.3 1152.0,1070.7 1153.3,1069.4 1154.8,1062.3 1156.2,1057.6 1157.7,1050.2 1159.1,1044.8 1160.6,1043.0 1162.1,1038.0 1163.5,1035.1 1165.0,1041.3 1166.5,1034.0 1167.9,1033.1 1169.4,1025.9 1170.8,1027.1 1172.3,1024.9 1173.8,1018.5 1175.2,974.9 1176.7,939.6 1178.1,951.2 1179.6,958.0 1181.1,970.6 1182.5,980.5 1184.1,938.7 1185.6,902.9 1187.2,875.3 1188.6,903.2 1189.9,920.1 1191.3,933.8 1192.8,892.6 1194.2,852.0 1195.8,849.4 1197.3,839.4 1198.9,840.3 1200.3,876.6 1201.6,901.4 1203.0,933.8 1204.4,1006.3 1205.9,1069.4 1207.2,1071.1 1208.6,1071.5 1209.9,1072.4 1211.2,1067.7 1212.6,1066.3 1213.9,1067.4 1215.3,1067.3 1216.6,1066.6 1217.9,1066.4 1219.3,1069.8 1220.6,1071.8 1221.9,1069.1 1223.3,1072.3 1224.6,1072.1 1225.9,1066.5 1227.3,1070.0 1228.6,1068.7 1229.9,1066.9 1231.3,1072.4 1232.6,1067.8 1234.0,1069.8 1235.3,1070.3 1236.6,1072.4 1238.0,1070.5 1239.3,1068.7 1240.6,1069.0 1242.0,1067.1 1243.3,1072.5 1244.6,1072.6 1246.0,1067.5 1247.3,1066.3 1248.7,1067.8 1250.0,1068.4 1251.3,1072.0 1252.7,1069.4 1254.1,1061.8 1255.6,1051.0 1257.0,1034.0 1258.5,1027.3 1260.0,1027.8 1261.4,1024.9 1262.9,1022.1 1264.3,1018.5 1265.8,1028.2 1267.3,1024.7 1268.7,1030.8 1270.2,1039.0 1271.7,1039.7 1273.1,1039.8 1274.6,1036.1 1276.0,1033.1 1277.5,1034.3 1279.0,1039.8 1280.4,1044.0 1281.9,1044.8 1283.3,1039.6 1284.8,1039.5 1286.3,1036.9 1287.7,1033.8 1289.2,1034.9 1290.6,1033.1 1292.1,1018.3 1293.6,1007.1 1295.0,994.2 1296.5,986.4 1298.2,991.3 1300.0,992.2 1300.0,977.4 1301.5,1009.9 1303.0,1054.2 1304.4,1063.6 1305.9,1068.9 1307.3,1066.1 1308.6,1064.5 1310.0,1072.5 1311.3,1065.9 1312.7,1072.3 1314.0,1071.5 1315.4,1071.6 1316.7,1064.7 1318.1,1067.4 1319.4,1064.0 1320.8,1071.5 1322.1,1070.6 1323.5,1068.5 1324.8,1066.8 1326.2,1065.6 1327.5,1069.9 1328.9,1066.7 1330.3,1067.9 1331.6,1063.3 1333.0,1063.9 1334.3,1062.3 1335.7,1068.2 1337.0,1066.6 1338.4,1066.0 1339.8,1053.7 1341.3,1048.3 1342.8,1043.4 1344.3,1030.6 1345.7,1019.9 1347.0,1013.8 1348.4,1007.0 1350.0,1004.6 1351.6,1008.0 1353.1,1012.9 1354.6,1008.4 1356.1,995.2 1357.6,990.0 1359.0,989.3 1360.5,990.7 1362.0,1001.1 1363.5,1009.8 1364.9,1018.8 1366.4,1018.1 1367.9,1026.5 1369.4,1018.7 1370.8,1024.7 1372.4,1020.7 1374.0,999.3 1375.6,995.2 1377.0,954.4 1378.5,900.7 1380.0,921.5 1381.5,936.1 1382.8,947.2 1384.2,967.3 1385.6,983.4 1387.1,983.3 1388.5,985.9 1390.0,988.1 1391.5,995.2 1393.0,996.3 1394.5,1007.5 1395.9,1010.5 1397.4,1007.0 1398.9,1015.3 1400.4,1007.9 1401.8,1013.2 1403.3,1018.8 1404.8,1040.8 1406.3,1054.2 1407.7,1058.9 1409.2,1071.9 1410.5,1073.8 1411.9,1070.0 1413.2,1076.0 1414.5,1067.4 1415.9,1074.3 1417.2,1070.1 1418.5,1068.3 1419.8,1067.0 1421.2,1074.3 1422.5,1071.5 1423.8,1068.5 1425.1,1070.6 1426.5,1074.8 1427.8,1068.6 1429.1,1071.7 1430.5,1067.7 1431.8,1068.0 1433.1,1073.3 1434.4,1072.7 1435.8,1070.7 1437.2,1060.8 1438.7,1052.4 1440.2,1045.3 1441.7,1042.4 1443.2,1042.8 1444.6,1040.9 1446.1,1037.7 1447.6,1039.4 1449.1,1038.5 1450.5,1045.0 1452.0,1048.2 1453.5,1048.3 1455.0,1052.9 1456.4,1052.1 1457.9,1049.7 1459.4,1054.2 1460.9,1040.8 1462.3,1039.0 1463.8,1026.6 1465.3,1018.8 1466.9,1000.1 1468.4,969.0 1470.0,953.8 1471.4,943.3 1472.8,919.4 1474.1,906.6 1475.6,865.3 1477.1,809.2 1478.9,853.5 1480.3,884.6 1481.8,900.7 1483.2,928.1 1484.6,948.1 1486.0,983.4 1487.4,996.4 1488.9,997.8 1490.4,1010.3 1491.9,1012.9 1493.3,1011.5 1494.8,1012.0 1496.3,1021.3 1497.8,1018.8 1499.2,1015.7 1500.7,1011.7 1502.2,1012.8 1503.7,1012.9 1505.1,1041.9 1506.6,1068.9 1507.9,1064.5 1509.3,1069.2 1510.6,1068.6 1511.9,1069.3 1513.3,1065.8 1514.6,1071.2 1515.9,1072.2 1517.3,1072.7 1518.6,1067.9 1519.9,1071.4 1521.3,1068.5 1522.6,1071.9 1523.9,1065.7 1525.3,1073.1 1526.6,1073.9 1527.9,1069.8 1529.3,1070.0 1530.6,1070.3 1531.9,1070.4 1533.3,1065.8 1534.6,1074.3 1535.9,1067.7 1537.3,1067.4 1538.6,1066.8 1539.9,1068.1 1541.3,1073.3 1542.6,1066.3 1543.9,1066.9 1545.3,1072.4 1546.6,1067.9 1547.9,1070.7 1549.4,1060.6 1550.9,1060.5 1552.4,1054.7 1553.8,1048.3 1555.3,1046.6 1556.8,1046.5 1558.3,1038.2 1559.7,1044.4 1561.2,1040.8 1562.7,1036.5 1564.2,1031.0 1565.6,1031.3 1567.1,1034.9 1568.6,1034.5 1570.1,1031.6 1571.5,1033.5 1573.0,1027.8 1574.5,1029.5 1576.0,1025.0 1577.4,1027.6 1578.9,1027.2 1580.4,1028.9 1581.9,1019.0 1583.4,1021.7 1584.8,1024.8 1586.3,1029.0 1587.8,1024.5 1589.3,1030.6 1590.7,1032.1 1592.2,1031.2 1593.7,1022.6 1595.2,1021.7 1596.6,1020.0 1598.1,1024.3 1599.6,1019.8 1601.1,1018.8 1602.5,1011.6 1604.0,1007.0 1605.5,1044.2 1607.0,1071.9 1608.3,1074.4 1609.6,1070.5 1610.9,1069.6 1612.2,1070.4 1613.5,1071.3 1614.8,1076.2 1616.1,1074.6 1617.5,1075.6 1618.8,1074.7 1620.1,1075.0 1621.4,1067.9 1622.7,1072.1 1624.0,1076.0 1625.3,1075.7 1626.6,1069.7 1628.0,1071.2 1629.3,1073.1 1630.6,1070.7 1631.9,1072.2 1633.2,1068.1 1634.5,1071.3 1635.8,1071.9 1637.1,1067.7 1638.4,1068.7 1639.8,1076.1 1641.1,1074.4 1642.4,1071.9 1643.9,1065.7 1645.3,1052.6 1646.8,1044.2 1648.3,1030.6 1649.8,1033.5 1651.2,1032.1 1652.7,1020.7 1654.2,1024.7 1655.7,1024.9 1657.1,1018.9 1658.6,1022.4 1660.1,1018.8 1661.6,1014.5 1663.0,1016.3 1664.5,1019.6 1666.0,1012.9 1667.5,1018.8 1668.9,1018.8 1670.4,1026.4 1671.9,1030.6 1673.4,1023.9 1674.9,1024.2 1676.3,1010.2 1677.8,1007.0 1679.3,1000.0 1680.8,1000.1 1682.2,988.5 1683.7,989.3 1685.2,981.8 1686.7,971.5 1688.1,950.3 1689.6,914.2 1691.1,880.6 1692.6,856.4 1694.0,877.9 1695.5,900.7 1697.0,917.6 1698.5,927.1 1699.9,943.3 1701.4,965.6 1702.9,987.2 1704.4,1016.3 1705.8,1044.4 1707.3,1071.9 1708.6,1070.0 1709.9,1069.6 1711.3,1068.3 1712.6,1072.3 1713.9,1074.9 1715.2,1072.9 1716.5,1072.5 1717.8,1073.2 1719.1,1069.3 1720.4,1073.8 1721.7,1071.6 1723.1,1072.3 1724.4,1072.9 1725.7,1071.6 1727.0,1070.2 1728.3,1069.6 1729.6,1069.4 1730.9,1072.0 1732.2,1070.9 1733.6,1072.7 1734.9,1067.6 1736.2,1070.6 1737.5,1075.1 1738.8,1069.6 1740.1,1072.4 1741.4,1071.8 1742.7,1071.9 1744.2,1065.5 1745.7,1067.6 1747.2,1056.6 1748.6,1054.2 1750.1,1049.1 1751.6,1034.7 1753.1,1025.7 1754.5,1027.1 1756.0,1014.1 1757.5,1007.0 1759.0,965.0 1760.4,936.1 1762.0,918.4 1763.6,903.5 1765.2,888.9 1766.5,920.7 1767.9,937.5 1769.3,971.5 1770.8,970.5 1772.3,984.1 1773.7,983.8 1775.2,983.4 1776.7,977.0 1778.2,978.1 1779.6,976.8 1781.1,977.4 1782.6,985.8 1784.1,990.9 1785.5,999.9 1787.0,1001.1 1788.5,1011.1 1790.0,1013.1 1791.4,1021.6 1792.9,1024.7 1794.4,1033.3 1795.9,1039.3 1797.3,1042.1 1798.8,1048.3 1800.3,1056.3 1801.8,1060.6 1803.2,1067.7 1804.7,1068.9 1806.0,1065.6 1807.3,1072.3 1808.7,1064.5 1810.0,1071.3 1811.3,1069.7 1812.6,1068.9 1813.9,1073.1 1815.2,1069.6 1816.5,1068.2 1817.8,1071.5 1819.2,1072.3 1820.5,1069.9 1821.8,1067.9 1823.1,1068.5 1824.4,1068.6 1825.7,1071.0 1827.0,1067.1 1828.3,1068.0 1829.6,1069.4 1831.0,1067.9 1832.3,1067.3 1833.6,1071.5 1834.9,1072.1 1836.2,1068.9 1837.5,1068.4 1838.8,1066.1 1840.1,1067.2 1841.5,1065.7 1842.8,1069.6 1844.1,1069.7 1845.4,1065.2 1846.7,1072.7 1848.0,1067.4 1849.3,1072.1 1850.6,1072.0 1851.9,1073.1 1853.3,1066.3 1854.6,1068.3 1855.9,1072.7 1857.2,1064.5 1858.5,1064.9 1859.8,1069.5 1861.1,1068.9 1862.4,1072.7 1863.8,1068.9 1865.1,1068.5 1866.5,1063.4 1867.9,1060.1 1869.5,1061.0 1871.0,1052.4 1872.6,1048.3 1874.2,1036.7 1875.8,1026.8 1877.3,1012.9 1878.7,997.6 1880.1,983.3 1881.5,971.5 1882.9,978.8 1884.4,981.2 1885.9,995.4 1887.4,995.2 1888.8,1000.5 1890.3,1001.4 1891.8,998.8 1893.3,1007.0 1894.6,1001.4 1896.0,997.8 1897.4,995.2 1899.2,982.8 1900.9,968.6 1903.3,983.4 1905.1,1027.0 1906.8,1068.9 1908.2,1072.4 1909.5,1073.2 1910.8,1068.9 1912.1,1068.6 1913.5,1070.3 1914.8,1073.6 1916.1,1067.8 1917.4,1069.5 1918.7,1072.1 1920.1,1066.3 1921.4,1067.7 1922.7,1073.7 1924.0,1072.3 1925.4,1069.6 1926.7,1066.0 1928.0,1073.1 1929.3,1071.3 1930.6,1072.5 1932.0,1074.0 1933.3,1073.1 1934.6,1069.0 1935.9,1066.6 1937.3,1067.9 1938.6,1069.9 1939.9,1069.9 1941.2,1067.1 1942.6,1067.1 1943.9,1071.1 1945.2,1070.9 1946.5,1068.7 1947.8,1074.5 1949.2,1071.3 1950.5,1066.0 1951.8,1069.4 1953.1,1072.8 1954.5,1068.5 1955.8,1072.0 1957.1,1065.9 1958.4,1068.6 1959.7,1073.4 1961.1,1071.2 1962.4,1071.9 1963.7,1067.8 1965.0,1070.5 1966.4,1071.0 1967.7,1068.5 1969.0,1071.9 1970.3,1070.9 1971.6,1075.1 1973.0,1070.7 1974.4,1039.7 1975.9,1007.0 1977.4,1001.4 1978.9,993.1 1980.3,989.0 1981.8,989.3 1983.3,994.3 1984.8,986.8 1986.2,988.3 1987.7,995.2 1989.2,984.7 1990.7,983.7 1992.1,982.1 1993.6,971.5 1995.1,982.0 1996.6,993.5 1998.1,992.3 1999.5,1007.0 2001.0,1025.1 2002.5,1054.2 2004.0,1067.0 2005.4,1074.9 2006.8,1073.2 2008.1,1076.5 2009.4,1073.3 2010.8,1071.6 2012.1,1072.3 2013.4,1070.8 2014.8,1077.7 2016.1,1074.8 2017.4,1072.7 2018.8,1073.5 2020.1,1072.8 2021.4,1069.8 2022.8,1077.0 2024.1,1074.2 2025.4,1077.5 2026.8,1072.8 2028.1,1074.3 2029.4,1070.9 2030.8,1069.0 2032.1,1076.7 2033.4,1076.0 2034.8,1071.1 2036.1,1076.2 2037.4,1075.4 2038.8,1070.7 2040.1,1073.3 2041.4,1076.3 2042.8,1072.1 2044.1,1076.1 2045.4,1069.7 2046.8,1071.9 2048.2,1011.5 2049.7,953.8 2051.2,964.6 2052.7,964.4 2054.1,973.2 2055.6,983.4 2057.1,994.4 2058.6,994.9 2060.0,1004.9 2061.5,1007.0 2063.0,997.7 2064.5,990.8 2065.9,987.3 2067.4,983.4 2068.9,987.9 2070.4,1007.2 2071.8,1007.3 2073.3,1018.8 2074.8,1020.5 2076.3,1016.1 2077.7,1022.1 2079.2,1021.4 2080.7,1022.6 2082.2,1024.7 2083.6,1020.6 2085.1,1022.3 2086.6,1031.4 2088.1,1026.9 2089.6,1026.7 2091.0,1030.6 2092.5,1026.1 2094.0,1026.1 2095.5,1024.6 2096.9,1021.3 2098.4,1027.6 2099.9,1024.7 2101.4,1013.9 2102.8,1007.0 2104.3,1034.2 2105.8,1068.9 2107.1,1070.8 2108.4,1065.3 2109.8,1066.9 2111.1,1072.0 2112.4,1065.6 2113.8,1068.4 2115.1,1072.0 2116.4,1071.7 2117.7,1065.9 2119.1,1067.6 2120.4,1071.0 2121.7,1067.8 2123.1,1073.1 2124.4,1066.3 2125.7,1073.0 2127.0,1069.0 2128.4,1066.5 2129.7,1068.5 2131.0,1065.6 2132.3,1068.9 2133.8,1068.6 2135.3,1062.3 2136.8,1066.1 2138.3,1060.1 2139.6,1060.9 2140.9,1058.8 2142.2,1057.7 2143.5,1061.1 2144.8,1057.3 2146.1,1063.7 2147.4,1056.5 2148.7,1060.2 2150.1,1060.1 2151.4,1059.8 2152.7,1056.6 2154.0,1060.8 2155.3,1056.4 2156.6,1058.4 2157.9,1056.8 2159.2,1053.6 2160.6,1053.8 2161.9,1054.2 2163.3,1049.1 2164.8,1049.0 2166.3,1054.8 2167.8,1048.4 2169.2,1050.9 2170.7,1048.3 2172.2,1036.7 2173.7,1034.2 2175.1,1024.5 2176.6,1018.8 2178.1,1021.7 2179.6,1022.3 2181.1,1022.6 2182.5,1030.6 2184.0,1029.4 2185.5,1029.5 2187.0,1029.4 2188.4,1036.9 2189.9,1033.1 2191.4,1036.5 2192.9,1032.5 2194.3,1035.2 2195.8,1030.8 2197.3,1024.7 2198.9,1027.2 2200.4,1025.0 2202.0,1018.8 2203.4,1032.4 2204.8,1052.0 2206.1,1071.9 2207.5,1067.7 2208.8,1073.5 2210.1,1073.3 2211.5,1070.6 2212.8,1071.1 2214.1,1073.3 2215.4,1073.7 2216.8,1069.7 2218.1,1075.0 2219.4,1070.6 2220.7,1073.0 2222.1,1069.1 2223.4,1068.5 2224.7,1075.6 2226.1,1074.0 2227.4,1073.8 2228.7,1067.8 2230.0,1067.8 2231.4,1068.9 2232.7,1071.9 2234.2,1064.7 2235.7,1061.2 2237.1,1057.5 2238.6,1054.2 2239.9,1048.9 2241.2,1051.0 2242.5,1053.6 2243.9,1048.3 2245.2,1054.3 2246.5,1051.0 2247.8,1051.8 2249.1,1046.4 2250.4,1048.3 2251.9,1047.6 2253.4,1050.2 2254.8,1046.7 2256.3,1043.2 2257.8,1051.7 2259.3,1048.3 2260.7,1026.0 2262.2,994.3 2263.7,964.7 2265.2,951.8 2266.6,922.3 2268.1,894.8 2269.6,886.0 2271.1,889.8 2272.6,887.2 2274.0,894.8 2275.5,903.4 2277.0,895.2 2278.5,911.5 2279.9,906.6 2281.4,898.2 2282.9,871.6 2284.4,870.9 2285.8,853.5 2287.3,863.0 2288.8,877.1 2290.3,882.2 2291.7,877.1 2293.2,892.5 2294.7,890.5 2296.2,895.9 2297.6,912.5 2299.1,961.0 2300.6,995.2 2302.1,979.3 2303.5,965.6" fill="none" stroke="#ff4040" stroke-width="3.6" stroke-linejoin="round"/>
<polyline points="300.0,1079.9 301.3,1080.2 302.6,1080.0 304.0,1080.1 305.3,1080.2 306.6,1080.0 307.9,1079.9 309.3,1079.5 310.6,1080.1 311.9,1079.8 313.2,1079.9 314.5,1080.2 315.9,1079.6 317.2,1080.1 318.5,1079.5 319.8,1080.1 321.2,1080.1 322.5,1079.7 323.8,1079.9 325.1,1080.3 326.4,1080.0 327.8,1079.9 329.1,1079.7 330.4,1079.5 331.7,1079.8 333.0,1079.8 334.4,1079.7 335.7,1079.7 337.0,1079.6 338.3,1080.1 339.7,1080.0 341.0,1079.7 342.3,1079.7 343.6,1079.9 344.9,1079.9 346.3,1080.2 347.6,1079.8 348.9,1079.7 350.2,1080.2 351.6,1079.6 352.9,1079.9 354.2,1079.8 355.5,1079.9 357.0,1080.1 358.6,1079.9 360.1,1080.1 361.6,1079.6 363.1,1079.9 365.5,1015.6 367.2,1017.4 369.0,1018.5 370.3,1025.5 371.7,1032.1 373.1,1039.0 374.5,1045.2 376.0,1051.1 377.4,1056.0 378.9,1062.4 380.4,1064.5 381.9,1066.9 383.5,1069.1 385.0,1071.3 386.5,1074.1 388.8,875.3 390.6,950.6 392.3,1027.3 393.7,1034.6 395.1,1043.2 396.4,1050.7 398.0,1053.5 399.5,1056.0 401.0,1059.2 402.5,1062.3 404.0,1065.3 405.4,1067.1 406.8,1068.8 408.1,1071.1 409.5,1070.7 410.8,1070.7 412.2,1071.6 413.5,1071.4 414.9,1070.7 416.2,1071.3 417.6,1071.6 418.9,1071.2 420.3,1070.7 421.6,1071.1 423.0,1071.1 424.3,1070.8 425.7,1071.1 427.0,1066.3 428.4,1060.8 429.7,1056.5 431.1,1056.3 432.4,1055.2 433.7,1054.5 435.0,1054.2 436.3,1053.1 437.6,1051.8 439.0,1051.1 440.3,1050.7 441.7,1046.6 443.1,1042.9 444.5,1040.6 445.9,1037.2 447.3,1033.1 448.7,1035.7 450.2,1038.5 451.7,1042.1 453.1,1044.8 454.7,1039.5 456.2,1033.9 457.8,1027.3 459.3,1023.7 460.7,1022.0 462.2,1019.2 463.6,1015.6 465.1,1015.1 466.6,1013.3 468.0,1012.0 469.5,1012.4 471.0,1010.3 472.4,1009.8 473.9,1000.7 475.3,992.2 476.8,998.2 478.3,1003.6 479.7,1010.5 481.2,1015.6 482.7,1019.0 484.3,1022.5 485.9,1027.3 487.2,984.6 488.6,942.0 489.9,898.7 491.4,946.6 492.9,992.2 494.3,972.4 495.8,952.7 497.3,932.5 498.7,910.4 500.2,974.7 501.6,1039.0 503.1,1045.6 504.6,1051.7 506.0,1058.5 507.5,1065.3 508.8,1065.4 510.1,1064.8 511.4,1065.5 512.7,1064.9 514.0,1065.2 515.3,1065.8 516.6,1064.8 517.9,1064.8 519.2,1065.2 520.6,1064.9 521.9,1065.5 523.2,1064.7 524.5,1065.7 525.8,1065.7 527.1,1065.6 528.4,1065.2 529.7,1065.0 531.0,1065.5 532.3,1065.3 533.6,1065.2 534.9,1065.1 536.2,1065.2 537.5,1065.5 538.9,1065.6 540.2,1065.7 541.5,1064.9 542.8,1065.1 544.1,1065.2 545.4,1065.4 546.7,1065.1 548.0,1065.0 549.3,1064.8 550.6,1065.1 551.9,1065.2 553.2,1065.8 554.5,1065.7 555.9,1065.7 557.2,1065.3 558.6,1058.6 560.1,1050.7 561.5,1049.1 563.0,1046.5 564.5,1044.6 565.9,1041.9 567.3,1044.2 568.7,1048.0 570.0,1050.7 571.6,1052.8 573.1,1054.3 574.7,1056.5 576.2,1055.9 577.6,1055.6 579.1,1054.3 580.5,1053.6 582.0,1054.8 583.5,1055.4 584.9,1056.5 586.4,1057.7 587.8,1057.1 589.3,1055.0 590.8,1054.2 592.2,1053.6 593.7,1052.4 595.1,1050.6 596.6,1048.6 598.1,1047.7 599.5,1050.9 601.0,1053.4 602.5,1056.6 603.9,1059.4 605.4,1060.8 606.8,1062.4 608.3,1063.9 609.8,1065.3 611.1,1065.2 612.4,1064.9 613.8,1064.9 615.1,1065.7 616.4,1065.3 617.8,1064.9 619.1,1065.7 620.4,1065.0 621.8,1064.8 623.1,1065.3 624.5,1065.0 625.8,1065.3 627.1,1065.3 628.5,1065.0 629.8,1065.4 631.1,1064.9 632.5,1065.3 633.8,1065.4 635.1,1064.8 636.5,1065.2 637.8,1064.8 639.2,1065.2 640.5,1065.7 641.8,1065.3 643.2,1065.5 644.5,1065.6 645.8,1064.9 647.2,1065.8 648.5,1065.5 649.8,1064.9 651.2,1065.6 652.5,1065.2 653.8,1064.9 655.2,1065.8 656.5,1065.3 658.0,1062.4 659.4,1059.4 660.9,1056.1 662.4,1051.6 663.8,1048.9 665.3,1044.8 666.7,1036.1 668.2,1028.3 669.7,1020.5 671.1,1012.7 672.6,1015.3 674.1,1020.2 675.5,1023.1 677.0,1027.3 678.4,1028.9 679.9,1031.6 681.4,1033.0 682.8,1035.7 684.3,1037.2 685.7,1039.0 687.2,1041.0 688.7,1042.0 690.1,1044.0 691.6,1045.4 693.0,1045.8 694.5,1048.1 696.0,1049.0 697.4,1050.7 698.9,1048.1 700.4,1045.1 701.8,1042.4 703.3,1039.0 704.6,1047.2 706.0,1056.4 707.4,1065.3 708.7,1065.5 710.0,1065.8 711.3,1065.5 712.7,1064.8 714.0,1065.4 715.3,1064.8 716.6,1065.3 718.0,1065.6 719.3,1064.9 720.6,1065.7 721.9,1065.5 723.3,1065.0 724.6,1065.0 725.9,1065.2 727.2,1065.7 728.6,1065.4 729.9,1064.9 731.2,1064.8 732.6,1064.9 733.9,1065.6 735.2,1064.9 736.5,1065.3 737.9,1065.1 739.2,1065.5 740.5,1065.2 741.8,1064.9 743.2,1065.7 744.5,1065.3 745.8,1065.5 747.1,1065.6 748.5,1065.8 749.8,1064.8 751.1,1065.1 752.4,1064.9 753.8,1065.3 755.1,1065.7 756.4,1065.6 757.7,1064.8 759.1,1064.9 760.4,1065.6 761.7,1065.3 763.2,1064.0 764.6,1062.2 766.1,1060.9 767.6,1059.4 769.0,1057.6 770.5,1057.0 771.9,1054.9 773.4,1054.1 774.9,1052.3 776.3,1050.7 777.7,997.0 779.1,944.9 780.4,892.9 782.2,844.6 783.9,799.4 786.3,869.5 788.0,900.5 789.8,927.9 791.1,961.3 792.5,993.0 793.9,1027.3 795.3,1032.6 796.8,1038.8 798.2,1044.8 799.7,1050.7 801.1,1040.1 802.4,1029.0 803.8,1018.5 805.6,1040.2 807.3,1062.4 808.6,1061.8 810.0,1062.5 811.3,1062.3 812.6,1061.9 814.0,1062.5 815.3,1063.1 816.6,1062.1 818.0,1062.2 819.3,1062.8 820.6,1062.4 821.9,1062.5 823.3,1062.8 824.6,1062.5 825.9,1062.9 827.3,1062.9 828.6,1063.4 829.9,1063.5 831.3,1062.4 832.6,1063.0 833.9,1063.3 835.3,1063.5 836.6,1063.4 837.9,1063.3 839.3,1063.3 840.6,1063.0 841.9,1063.0 843.2,1063.6 844.6,1063.7 845.9,1063.8 847.2,1063.5 848.6,1063.1 849.9,1063.7 851.2,1063.7 852.6,1063.5 853.9,1063.6 855.2,1063.5 856.7,1061.6 858.2,1060.1 859.6,1058.2 861.1,1056.5 862.5,1053.0 864.0,1050.4 865.5,1047.5 866.9,1044.8 868.4,1043.6 869.8,1040.9 871.3,1038.8 872.8,1036.6 874.2,1034.6 875.7,1033.1 877.1,1030.7 878.6,1028.1 880.1,1025.6 881.5,1024.4 883.0,1028.0 884.5,1030.1 885.9,1033.0 887.4,1036.1 888.8,1035.4 890.3,1034.3 891.8,1033.3 893.2,1033.1 894.7,1033.9 896.1,1035.7 897.6,1037.2 899.1,1039.0 900.5,1033.5 902.0,1027.4 903.4,1022.3 904.9,1015.6 906.4,1038.7 907.8,1062.4 909.2,1062.9 910.5,1062.6 911.8,1062.2 913.1,1062.4 914.4,1062.9 915.8,1063.5 917.1,1062.9 918.4,1063.4 919.7,1063.1 921.0,1063.7 922.3,1062.9 923.7,1063.5 925.0,1064.0 926.3,1063.4 927.6,1063.5 928.9,1063.3 930.3,1063.6 931.6,1063.8 932.9,1064.4 934.2,1063.9 935.5,1064.2 936.9,1064.1 938.2,1064.6 939.5,1065.0 940.8,1064.9 942.1,1064.5 943.5,1065.2 944.8,1065.5 946.1,1065.2 947.4,1064.7 948.7,1065.3 950.2,1063.4 951.7,1061.3 953.1,1058.5 954.6,1056.5 956.0,1054.1 957.5,1052.2 959.0,1050.7 960.4,1049.3 961.9,1047.0 963.4,1044.8 964.8,1042.6 966.3,1038.5 967.7,1035.8 969.2,1033.1 970.7,943.4 972.1,852.0 973.6,911.0 975.0,968.8 976.5,980.3 978.0,992.7 979.4,1003.5 980.9,1015.6 982.3,1015.4 983.8,1016.9 985.3,1016.9 986.7,1018.5 988.2,1017.3 989.7,1015.3 991.1,1014.1 992.6,1012.7 994.0,1015.8 995.5,1018.0 997.0,1021.4 998.4,1024.4 999.9,1025.7 1001.3,1029.5 1002.8,1031.1 1004.3,1033.1 1005.7,1046.1 1007.2,1057.7 1008.5,1057.1 1009.8,1057.8 1011.1,1058.0 1012.5,1057.5 1013.8,1057.2 1015.1,1057.3 1016.4,1057.2 1017.7,1058.0 1019.1,1057.2 1020.4,1058.1 1021.7,1057.6 1023.0,1057.7 1024.3,1057.8 1025.7,1057.8 1027.0,1057.9 1028.3,1057.8 1029.6,1057.5 1030.9,1058.0 1032.3,1057.4 1033.6,1057.9 1034.9,1058.0 1036.2,1058.0 1037.5,1057.4 1038.9,1058.0 1040.2,1058.3 1041.5,1057.6 1042.8,1057.4 1044.1,1057.7 1045.5,1058.2 1046.8,1057.2 1048.1,1057.7 1049.6,1055.3 1051.0,1054.1 1052.5,1052.6 1053.9,1050.7 1055.4,1050.6 1056.9,1049.5 1058.3,1049.9 1059.8,1048.3 1061.3,1048.6 1062.7,1047.7 1064.1,1012.8 1065.4,978.2 1066.8,945.5 1068.6,870.6 1070.3,799.4 1071.7,869.3 1073.0,943.5 1074.4,1015.6 1075.9,1018.6 1077.3,1020.8 1078.8,1025.2 1080.2,1027.3 1081.7,1030.0 1083.2,1033.1 1084.6,1034.9 1086.1,1037.8 1087.6,955.5 1089.0,875.3 1091.4,238.3 1093.7,238.3 1096.0,583.1 1097.8,875.3 1099.2,949.2 1100.7,1021.4 1102.3,1034.3 1103.8,1045.1 1105.4,1057.7 1106.7,1057.1 1108.0,1058.0 1109.4,1057.4 1110.7,1058.3 1112.0,1057.7 1113.4,1057.9 1114.7,1057.5 1116.0,1058.1 1117.4,1057.6 1118.7,1057.5 1120.0,1058.2 1121.4,1057.2 1122.7,1058.0 1124.0,1057.1 1125.3,1057.9 1126.7,1057.6 1128.0,1058.1 1129.3,1057.1 1130.7,1057.8 1132.0,1057.6 1133.3,1058.2 1134.7,1058.2 1136.0,1057.8 1137.3,1057.3 1138.7,1057.4 1140.0,1057.4 1141.3,1057.6 1142.7,1057.4 1144.0,1057.3 1145.3,1058.0 1146.6,1057.9 1148.0,1057.4 1149.3,1058.3 1150.6,1057.3 1152.0,1057.8 1153.3,1057.7 1154.8,1056.2 1156.2,1056.1 1157.7,1055.1 1159.1,1053.6 1160.6,1052.8 1162.1,1053.0 1163.5,1052.6 1165.0,1051.4 1166.5,1050.9 1167.9,1050.7 1169.4,1044.8 1170.8,1039.6 1172.3,1032.6 1173.8,1027.6 1175.2,1021.6 1176.7,1015.6 1178.1,1011.1 1179.6,1007.0 1181.1,1003.4 1182.5,998.1 1184.0,929.8 1185.4,863.6 1186.8,856.9 1188.2,845.3 1189.5,837.3 1191.3,857.8 1193.0,875.3 1194.4,896.5 1195.8,913.0 1197.1,933.8 1198.6,920.6 1200.1,904.6 1201.5,935.6 1203.0,963.0 1204.7,1059.4 1206.1,1059.2 1207.4,1058.9 1208.7,1059.1 1210.1,1060.1 1211.4,1059.0 1212.7,1060.1 1214.1,1059.2 1215.4,1060.0 1216.7,1059.3 1218.0,1059.4 1219.4,1060.0 1220.7,1059.3 1222.0,1059.7 1223.4,1060.4 1224.7,1060.2 1226.0,1060.4 1227.4,1060.6 1228.7,1059.5 1230.0,1059.7 1231.4,1060.4 1232.7,1060.3 1234.0,1059.6 1235.4,1060.2 1236.7,1059.9 1238.0,1060.2 1239.3,1059.8 1240.7,1059.7 1242.0,1060.9 1243.3,1060.2 1244.7,1060.9 1246.0,1060.0 1247.3,1060.5 1248.7,1060.1 1250.0,1060.5 1251.3,1060.2 1252.7,1060.6 1254.1,1056.2 1255.6,1050.8 1257.0,1046.9 1258.5,1041.9 1260.0,1044.1 1261.4,1045.7 1262.9,1048.3 1264.3,1050.7 1265.8,1048.7 1267.3,1047.4 1268.7,1044.6 1270.2,1042.4 1271.7,1041.7 1273.1,1039.0 1274.6,1040.6 1276.0,1041.3 1277.5,1041.6 1279.0,1042.4 1280.4,1043.5 1281.9,1044.8 1283.3,1046.6 1284.8,1049.1 1286.3,1052.1 1287.7,1054.4 1289.2,1057.1 1290.6,1059.4 1292.1,1017.5 1293.6,974.8 1295.0,935.2 1296.5,892.9 1298.2,893.6 1300.0,892.9 1300.0,912.5 1301.5,948.1 1303.0,983.4 1304.4,1021.8 1305.9,1060.1 1307.3,1060.3 1308.6,1060.6 1310.0,1060.4 1311.3,1060.2 1312.7,1059.7 1314.0,1059.6 1315.4,1059.7 1316.7,1060.3 1318.1,1059.5 1319.4,1059.5 1320.8,1059.4 1322.1,1059.1 1323.5,1060.1 1324.8,1058.8 1326.2,1059.5 1327.5,1059.8 1328.9,1059.0 1330.3,1059.3 1331.6,1059.0 1333.0,1058.8 1334.3,1058.7 1335.7,1058.5 1337.0,1059.4 1338.4,1058.9 1339.8,1056.9 1341.3,1054.2 1342.8,1007.9 1344.3,959.7 1345.7,961.3 1347.2,965.6 1348.7,986.8 1350.2,1007.0 1351.6,1016.4 1352.9,1026.9 1354.3,1036.5 1355.9,1037.5 1357.5,1038.2 1359.0,1039.4 1360.5,1025.6 1362.0,1009.9 1363.5,1023.7 1364.9,1039.4 1366.4,1039.8 1367.9,1040.0 1369.4,1039.4 1370.8,1039.4 1372.4,1040.6 1374.0,1042.2 1375.6,1042.4 1376.9,1030.1 1378.3,1019.0 1379.7,1007.0 1381.2,984.0 1382.6,959.7 1384.1,983.0 1385.6,1007.0 1387.1,1022.1 1388.5,1036.5 1390.0,1039.3 1391.5,1042.4 1393.0,1045.5 1394.5,1048.3 1395.9,1050.0 1397.4,1051.0 1398.9,1052.9 1400.4,1054.2 1401.8,1056.0 1403.3,1057.4 1404.8,1059.6 1406.3,1061.3 1407.6,1061.0 1408.9,1061.8 1410.3,1061.2 1411.6,1061.5 1413.0,1061.3 1414.3,1061.2 1415.6,1061.0 1417.0,1060.9 1418.3,1061.8 1419.7,1061.3 1421.0,1061.3 1422.4,1061.3 1423.7,1061.6 1425.0,1061.0 1426.4,1060.9 1427.7,1061.6 1429.1,1061.2 1430.4,1061.4 1431.7,1061.7 1433.1,1061.7 1434.4,1061.7 1435.8,1061.3 1437.2,1057.2 1438.7,1054.2 1440.2,1051.1 1441.7,1048.3 1443.2,1051.7 1444.6,1054.2 1446.1,1055.3 1447.6,1055.2 1449.1,1056.0 1450.5,1057.1 1452.0,1057.6 1453.5,1058.1 1455.0,1059.2 1456.4,1060.1 1457.9,1059.0 1459.4,1057.2 1460.9,1055.6 1462.3,1054.2 1463.8,1047.7 1465.3,1042.2 1466.8,1037.3 1468.2,1030.6 1469.6,1023.1 1471.0,1014.7 1472.4,1007.0 1474.1,971.5 1475.9,936.1 1477.1,853.5 1478.9,924.3 1480.3,946.0 1481.8,965.6 1483.2,988.0 1484.6,1008.2 1486.0,1030.6 1487.4,1035.3 1488.9,1039.2 1490.4,1043.9 1491.9,1048.3 1493.3,1048.7 1494.8,1049.6 1496.3,1050.3 1497.8,1051.2 1499.2,1051.8 1500.7,1052.1 1502.2,1053.1 1503.7,1054.2 1505.1,1057.8 1506.6,1061.3 1507.9,1060.8 1509.3,1060.9 1510.6,1061.5 1511.9,1061.0 1513.3,1061.1 1514.6,1061.0 1515.9,1061.7 1517.3,1060.8 1518.6,1061.4 1519.9,1061.7 1521.3,1060.9 1522.6,1061.2 1523.9,1061.6 1525.3,1061.4 1526.6,1061.1 1527.9,1060.7 1529.3,1061.2 1530.6,1061.1 1531.9,1061.5 1533.3,1061.0 1534.6,1061.2 1535.9,1061.4 1537.3,1061.6 1538.6,1061.1 1539.9,1061.1 1541.3,1061.4 1542.6,1061.8 1543.9,1060.9 1545.3,1061.8 1546.6,1061.5 1547.9,1061.3 1549.4,1060.1 1550.9,1059.4 1552.4,1058.0 1553.8,1057.1 1555.3,1055.6 1556.8,1055.5 1558.3,1054.0 1559.7,1053.2 1561.2,1052.2 1562.7,1051.2 1564.2,1049.6 1565.6,1047.2 1567.1,1043.9 1568.6,1042.4 1570.1,1043.0 1571.5,1043.3 1573.0,1043.8 1574.5,1044.9 1576.0,1044.7 1577.4,1045.3 1578.9,1044.6 1580.4,1044.5 1581.9,1043.0 1583.4,1042.4 1584.8,1042.4 1586.3,1042.4 1587.8,1042.9 1589.3,1042.4 1590.7,1044.1 1592.2,1045.7 1593.7,1046.7 1595.2,1048.3 1596.7,1050.6 1598.3,1054.4 1599.9,1057.1 1602.2,1030.6 1604.0,1048.4 1605.8,1066.0 1607.0,1064.2 1608.3,1064.5 1609.6,1064.5 1610.9,1063.8 1612.2,1063.9 1613.5,1063.8 1614.8,1064.6 1616.1,1063.8 1617.5,1063.8 1618.8,1064.5 1620.1,1064.3 1621.4,1063.7 1622.7,1064.4 1624.0,1064.5 1625.3,1064.2 1626.6,1063.7 1628.0,1064.4 1629.3,1064.1 1630.6,1064.3 1631.9,1064.8 1633.2,1064.6 1634.5,1064.6 1635.8,1063.8 1637.1,1064.0 1638.4,1064.2 1639.8,1063.7 1641.1,1064.8 1642.4,1064.2 1643.9,1061.5 1645.3,1058.9 1646.8,1056.5 1648.3,1054.2 1649.8,1047.9 1651.2,1042.9 1652.7,1036.6 1654.2,1030.6 1655.8,1026.7 1657.3,1022.6 1658.9,1018.8 1660.4,1020.8 1661.9,1024.3 1663.3,1028.3 1664.8,1030.6 1666.2,1035.8 1667.7,1040.6 1669.1,1044.4 1670.5,1049.1 1671.9,1054.2 1673.4,1050.6 1674.9,1048.3 1676.3,1045.1 1677.8,1042.4 1679.3,1039.4 1680.8,1036.5 1682.2,1033.7 1683.7,1030.6 1685.2,1027.4 1686.7,1025.2 1688.1,1021.1 1689.6,1018.8 1691.1,943.5 1692.6,865.3 1694.0,909.8 1695.5,953.8 1697.3,958.3 1699.1,965.6 1700.4,981.4 1701.7,998.2 1703.0,1014.2 1704.4,1030.6 1705.8,1046.0 1707.3,1061.3 1708.6,1061.1 1709.9,1061.0 1711.3,1061.6 1712.6,1061.0 1713.9,1061.5 1715.2,1061.6 1716.5,1061.4 1717.8,1061.2 1719.1,1061.8 1720.4,1061.2 1721.7,1061.7 1723.1,1060.8 1724.4,1061.2 1725.7,1061.4 1727.0,1060.7 1728.3,1061.7 1729.6,1060.8 1730.9,1061.4 1732.2,1060.9 1733.6,1061.8 1734.9,1061.3 1736.2,1061.6 1737.5,1061.3 1738.8,1061.5 1740.1,1061.5 1741.4,1061.0 1742.7,1061.3 1744.2,1059.9 1745.7,1059.6 1747.2,1057.7 1748.6,1057.1 1750.1,1054.0 1751.6,1049.4 1753.1,1045.5 1754.5,1042.4 1756.0,1029.9 1757.5,1019.3 1759.0,1008.0 1760.4,995.2 1761.9,959.5 1763.4,924.3 1764.9,910.2 1766.4,894.8 1767.8,929.3 1769.3,965.6 1770.8,999.1 1772.3,1030.6 1773.7,995.6 1775.2,959.7 1776.7,952.7 1778.2,947.9 1779.6,976.2 1781.1,1007.0 1782.6,1016.2 1784.1,1023.8 1785.5,1034.1 1787.0,1042.4 1788.5,1044.0 1790.0,1045.9 1791.4,1048.4 1792.9,1050.0 1794.4,1052.3 1795.9,1054.2 1797.3,1054.5 1798.8,1056.3 1800.3,1056.3 1801.8,1057.8 1803.2,1057.7 1804.7,1058.9 1806.0,1059.3 1807.3,1059.5 1808.7,1058.8 1810.0,1058.3 1811.3,1058.8 1812.6,1059.1 1813.9,1058.6 1815.2,1059.0 1816.5,1058.4 1817.8,1058.9 1819.2,1059.2 1820.5,1058.8 1821.8,1059.1 1823.1,1058.4 1824.4,1059.3 1825.7,1058.5 1827.0,1059.4 1828.3,1059.5 1829.6,1059.4 1831.0,1058.9 1832.3,1058.7 1833.6,1058.7 1834.9,1059.2 1836.2,1058.9 1837.5,1059.4 1838.8,1058.4 1840.1,1058.9 1841.5,1059.4 1842.8,1059.0 1844.1,1059.0 1845.4,1058.4 1846.7,1058.5 1848.0,1058.6 1849.3,1059.4 1850.6,1059.3 1851.9,1058.6 1853.3,1059.4 1854.6,1058.3 1855.9,1059.0 1857.2,1059.5 1858.5,1058.7 1859.8,1059.5 1861.1,1059.1 1862.4,1058.4 1863.8,1058.9 1865.1,1057.1 1866.5,1055.7 1867.9,1054.2 1869.5,1051.9 1871.0,1050.6 1872.6,1048.3 1874.2,1041.9 1875.8,1037.0 1877.3,1030.6 1878.7,1002.6 1880.1,974.2 1881.5,947.9 1882.9,945.2 1884.4,942.0 1885.9,961.4 1887.4,983.4 1888.8,989.4 1890.3,995.2 1891.8,1004.7 1893.3,1012.9 1894.6,1019.0 1896.0,1024.6 1897.4,1030.6 1899.2,1011.9 1900.9,995.2 1902.3,1014.9 1903.7,1033.8 1905.1,1054.2 1906.6,1054.8 1908.0,1054.6 1909.5,1055.6 1911.0,1056.0 1912.5,1053.1 1913.9,1050.5 1915.4,1048.2 1916.9,1045.3 1918.4,1046.3 1919.8,1047.8 1921.3,1050.4 1922.8,1051.2 1924.3,1051.8 1925.7,1053.2 1927.2,1053.9 1928.7,1054.2 1930.2,1054.6 1931.6,1054.6 1933.1,1055.0 1934.6,1056.0 1935.9,1056.4 1937.2,1055.4 1938.6,1055.8 1939.9,1055.8 1941.2,1055.2 1942.5,1055.6 1943.9,1055.1 1945.2,1055.5 1946.5,1055.4 1947.8,1055.2 1949.1,1054.9 1950.5,1055.1 1951.8,1054.8 1953.1,1054.6 1954.4,1054.7 1955.8,1055.5 1957.1,1054.9 1958.4,1055.4 1959.7,1054.2 1961.1,1055.3 1962.4,1054.7 1963.7,1055.0 1965.0,1054.6 1966.3,1054.7 1967.7,1054.1 1969.0,1054.7 1970.3,1053.9 1971.6,1053.9 1973.0,1054.2 1974.4,1044.6 1975.9,1036.3 1977.4,1027.7 1978.9,1018.8 1980.4,1006.5 1982.0,996.1 1983.6,983.4 1985.0,988.2 1986.3,995.4 1987.7,1001.1 1989.1,994.5 1990.5,989.5 1991.9,983.4 1993.4,992.0 1995.0,999.6 1996.6,1007.0 1998.2,1019.9 1999.7,1034.1 2001.3,1048.3 2002.7,1051.4 2004.1,1054.8 2005.4,1057.1 2006.8,1056.5 2008.1,1057.2 2009.4,1057.3 2010.8,1057.4 2012.1,1056.8 2013.4,1057.3 2014.8,1056.8 2016.1,1057.4 2017.4,1056.2 2018.8,1057.3 2020.1,1056.6 2021.4,1056.6 2022.8,1056.1 2024.1,1056.3 2025.4,1056.9 2026.8,1056.8 2028.1,1056.1 2029.4,1056.3 2030.8,1056.0 2032.1,1056.0 2033.4,1056.0 2034.8,1056.1 2036.1,1056.9 2037.4,1056.9 2038.8,1056.6 2040.1,1056.1 2041.4,1056.1 2042.8,1056.4 2044.1,1056.6 2045.4,1056.3 2046.8,1056.0 2048.2,1014.0 2049.7,971.5 2051.2,985.5 2052.7,1001.1 2054.1,1008.7 2055.6,1016.5 2057.1,1023.8 2058.6,1030.6 2060.0,1031.3 2061.5,1033.9 2063.0,1034.8 2064.5,1035.9 2065.9,1038.7 2067.4,1039.4 2068.9,1034.6 2070.4,1029.5 2071.8,1023.2 2073.3,1018.8 2074.8,1026.8 2076.3,1034.3 2077.7,1041.5 2079.2,1048.3 2080.5,1049.3 2081.8,1050.1 2083.2,1050.7 2084.5,1051.0 2085.8,1051.5 2087.1,1052.7 2088.4,1053.3 2089.7,1054.0 2091.0,1054.2 2092.3,1054.6 2093.7,1056.1 2095.0,1056.2 2096.3,1057.4 2097.6,1057.0 2098.9,1058.7 2100.2,1059.1 2101.5,1059.1 2102.8,1060.1 2104.2,1060.5 2105.5,1059.8 2106.9,1059.7 2108.2,1060.0 2109.5,1059.8 2110.9,1060.1 2112.2,1060.6 2113.6,1060.3 2114.9,1060.3 2116.2,1060.0 2117.6,1060.4 2118.9,1060.4 2120.3,1060.3 2121.6,1060.6 2123.0,1060.5 2124.3,1060.0 2125.6,1059.6 2127.0,1060.3 2128.3,1060.5 2129.7,1059.9 2131.0,1060.2 2132.3,1060.1 2133.8,1057.6 2135.3,1054.6 2136.8,1050.6 2138.3,1048.3 2139.7,1049.7 2141.2,1050.6 2142.7,1052.2 2144.2,1054.2 2145.6,1055.1 2147.1,1055.1 2148.6,1055.8 2150.1,1056.1 2151.5,1056.4 2153.0,1057.1 2154.4,1056.5 2155.7,1056.4 2157.0,1056.8 2158.4,1056.2 2159.7,1055.5 2161.1,1055.0 2162.4,1055.0 2163.7,1055.3 2165.1,1054.7 2166.4,1054.7 2167.8,1054.2 2169.2,1049.5 2170.7,1043.3 2172.2,1039.0 2173.7,1033.5 2175.2,1028.8 2176.8,1026.3 2178.4,1021.7 2179.8,1024.1 2181.1,1027.2 2182.5,1030.6 2184.0,1035.8 2185.5,1039.2 2187.0,1043.4 2188.4,1048.3 2189.9,1047.4 2191.4,1045.5 2192.9,1044.5 2194.3,1042.4 2195.7,1032.4 2197.1,1022.7 2198.5,1012.9 2200.2,1010.9 2202.0,1007.0 2203.4,1024.7 2204.8,1043.1 2206.1,1060.1 2207.5,1059.7 2208.8,1060.5 2210.1,1059.7 2211.5,1060.1 2212.8,1059.5 2214.1,1059.7 2215.4,1060.6 2216.8,1060.0 2218.1,1060.5 2219.4,1059.8 2220.7,1059.9 2222.1,1059.6 2223.4,1060.2 2224.7,1060.5 2226.1,1060.1 2227.4,1059.9 2228.7,1060.6 2230.0,1060.6 2231.4,1060.3 2232.7,1060.1 2234.2,1057.4 2235.7,1055.8 2237.1,1053.4 2238.6,1051.2 2239.9,1052.2 2241.2,1051.7 2242.5,1052.4 2243.9,1052.7 2245.2,1052.7 2246.5,1053.2 2247.8,1053.8 2249.1,1054.4 2250.4,1054.2 2251.9,1053.7 2253.4,1053.0 2254.8,1053.4 2256.3,1051.6 2257.8,1052.2 2259.3,1051.2 2260.7,1049.3 2262.2,1046.9 2263.7,1044.5 2265.2,1042.4 2266.6,1025.2 2268.1,1007.0 2269.7,972.7 2271.3,937.0 2272.8,900.7 2274.2,909.6 2275.6,914.6 2277.0,924.3 2278.4,907.8 2279.7,891.2 2281.1,877.1 2282.9,861.7 2284.7,841.7 2287.0,865.3 2288.8,902.4 2290.6,936.1 2291.9,915.0 2293.3,897.2 2294.7,877.1 2296.2,930.5 2297.6,983.4 2299.1,1011.9 2300.6,1042.4 2302.1,1045.2 2303.5,1048.3" fill="none" stroke="#0000ff" stroke-width="4.3" stroke-linejoin="round"/>
</g>
<line x1="306.0" y1="55.0" x2="306.0" y2="1202.0" stroke="#000" stroke-width="2.6"/>
<line x1="305.0" y1="56.5" x2="2306.0" y2="56.5" stroke="#000" stroke-width="3"/>
<line x1="2303.7" y1="55.0" x2="2303.7" y2="1200.5" stroke="#000" stroke-width="5"/>
<line x1="286.0" y1="1200.5" x2="2306.0" y2="1200.5" stroke="#000" stroke-width="2.8"/>
<line x1="267.0" y1="1080.1" x2="306.0" y2="1080.1" stroke="#000" stroke-width="3.4"/>
<text x="239.4" y="1096.0" text-anchor="end" font-family="'Liberation Serif','Times New Roman',serif" font-size="58">0</text>
<line x1="267.0" y1="839.1" x2="306.0" y2="839.1" stroke="#000" stroke-width="3.4"/>
<text x="239.4" y="855.0" text-anchor="end" font-family="'Liberation Serif','Times New Roman',serif" font-size="58">1000</text>
<line x1="267.0" y1="598.1" x2="306.0" y2="598.1" stroke="#000" stroke-width="3.4"/>
<text x="239.4" y="614.0" text-anchor="end" font-family="'Liberation Serif','Times New Roman',serif" font-size="58">2000</text>
<line x1="267.0" y1="357.1" x2="306.0" y2="357.1" stroke="#000" stroke-width="3.4"/>
<text x="239.4" y="373.0" text-anchor="end" font-family="'Liberation Serif','Times New Roman',serif" font-size="58">3000</text>
<line x1="267.0" y1="116.1" x2="306.0" y2="116.1" stroke="#000" stroke-width="3.4"/>
<text x="239.4" y="132.0" text-anchor="end" font-family="'Liberation Serif','Times New Roman',serif" font-size="58">4000</text>
<line x1="286.0" y1="1200.6" x2="306.0" y2="1200.6" stroke="#000" stroke-width="3.4"/>
<line x1="286.0" y1="959.6" x2="306.0" y2="959.6" stroke="#000" stroke-width="3.4"/>
<line x1="286.0" y1="718.6" x2="306.0" y2="718.6" stroke="#000" stroke-width="3.4"/>
<line x1="286.0" y1="477.6" x2="306.0" y2="477.6" stroke="#000" stroke-width="3.4"/>
<line x1="286.0" y1="236.6" x2="306.0" y2="236.6" stroke="#000" stroke-width="3.4"/>
<line x1="306.0" y1="1200.5" x2="306.0" y2="1239.5" stroke="#000" stroke-width="2.8"/>
<line x1="406.5" y1="1200.5" x2="406.5" y2="1220.0" stroke="#000" stroke-width="3.2"/>
<line x1="506.3" y1="1200.5" x2="506.3" y2="1239.5" stroke="#000" stroke-width="5.4"/>
<line x1="606.2" y1="1200.5" x2="606.2" y2="1220.0" stroke="#000" stroke-width="3.2"/>
<line x1="706.1" y1="1200.5" x2="706.1" y2="1239.5" stroke="#000" stroke-width="5.4"/>
<line x1="806.0" y1="1200.5" x2="806.0" y2="1220.0" stroke="#000" stroke-width="3.2"/>
<line x1="905.8" y1="1200.5" x2="905.8" y2="1239.5" stroke="#000" stroke-width="5.4"/>
<line x1="1005.7" y1="1200.5" x2="1005.7" y2="1220.0" stroke="#000" stroke-width="3.2"/>
<line x1="1105.6" y1="1200.5" x2="1105.6" y2="1239.5" stroke="#000" stroke-width="5.4"/>
<line x1="1205.4" y1="1200.5" x2="1205.4" y2="1220.0" stroke="#000" stroke-width="3.2"/>
<line x1="1305.3" y1="1200.5" x2="1305.3" y2="1239.5" stroke="#000" stroke-width="5.4"/>
<line x1="1405.2" y1="1200.5" x2="1405.2" y2="1220.0" stroke="#000" stroke-width="3.2"/>
<line x1="1505.0" y1="1200.5" x2="1505.0" y2="1239.5" stroke="#000" stroke-width="5.4"/>
<line x1="1604.9" y1="1200.5" x2="1604.9" y2="1220.0" stroke="#000" stroke-width="3.2"/>
<line x1="1704.8" y1="1200.5" x2="1704.8" y2="1239.5" stroke="#000" stroke-width="5.4"/>
<line x1="1804.7" y1="1200.5" x2="1804.7" y2="1220.0" stroke="#000" stroke-width="3.2"/>
<line x1="1904.5" y1="1200.5" x2="1904.5" y2="1239.5" stroke="#000" stroke-width="5.4"/>
<line x1="2004.4" y1="1200.5" x2="2004.4" y2="1220.0" stroke="#000" stroke-width="3.2"/>
<line x1="2104.3" y1="1200.5" x2="2104.3" y2="1239.5" stroke="#000" stroke-width="5.4"/>
<line x1="2204.1" y1="1200.5" x2="2204.1" y2="1220.0" stroke="#000" stroke-width="3.2"/>
<line x1="2303.7" y1="1200.5" x2="2303.7" y2="1239.5" stroke="#000" stroke-width="5.4"/>
<text transform="translate(155.4,1465.5) rotate(-45)" font-family="'Liberation Serif','Times New Roman',serif" font-size="58" stroke="#fff" stroke-width="1.1">01/03/1980</text>
<text transform="translate(362.6,1465.5) rotate(-45)" font-family="'Liberation Serif','Times New Roman',serif" font-size="58" stroke="#fff" stroke-width="1.1">01/03/1982</text>
<text transform="translate(560.0,1465.5) rotate(-45)" font-family="'Liberation Serif','Times New Roman',serif" font-size="58" stroke="#fff" stroke-width="1.1">01/03/1984</text>
<text transform="translate(783.8,1465.5) rotate(-45)" font-family="'Liberation Serif','Times New Roman',serif" font-size="58" stroke="#fff" stroke-width="1.1">01/03/1986</text>
<text transform="translate(976.9,1465.5) rotate(-45)" font-family="'Liberation Serif','Times New Roman',serif" font-size="58" stroke="#fff" stroke-width="1.1">01/03/1988</text>
<text transform="translate(1164.6,1465.5) rotate(-45)" font-family="'Liberation Serif','Times New Roman',serif" font-size="58" stroke="#fff" stroke-width="1.1">01/03/1990</text>
<text transform="translate(1366.1,1465.5) rotate(-45)" font-family="'Liberation Serif','Times New Roman',serif" font-size="58" stroke="#fff" stroke-width="1.1">01/03/1992</text>
<text transform="translate(1576.0,1465.5) rotate(-45)" font-family="'Liberation Serif','Times New Roman',serif" font-size="58" stroke="#fff" stroke-width="1.1">01/03/1994</text>
<text transform="translate(1762.0,1465.5) rotate(-45)" font-family="'Liberation Serif','Times New Roman',serif" font-size="58" stroke="#fff" stroke-width="1.1">01/03/1996</text>
<text transform="translate(1948.0,1465.5) rotate(-45)" font-family="'Liberation Serif','Times New Roman',serif" font-size="58" stroke="#fff" stroke-width="1.1">01/03/1998</text>
<text transform="translate(2173.6,1465.5) rotate(-45)" font-family="'Liberation Serif','Times New Roman',serif" font-size="58" stroke="#fff" stroke-width="1.1">30/04/1999</text>
<text x="344" y="131.5" font-family="'Liberation Serif','Times New Roman',serif" font-size="58">(A) Calibration ( 1980–1999)</text>
<text transform="translate(81,579.4) rotate(-90)" text-anchor="middle" font-family="'Liberation Serif','Times New Roman',serif" font-size="58">Snowmelt runoff (m<tspan font-size="36" dy="-22">3</tspan><tspan dy="22">/s)</tspan></text>
<clipPath id="clipB"><rect x="306.0" y="1553.5" width="1997.5" height="1144.0"/></clipPath>
<g clip-path="url(#clipB)">
<polyline points="306.0,2608.0 307.3,2608.4 308.6,2608.2 310.0,2607.7 311.3,2608.4 312.6,2607.7 314.0,2608.1 315.3,2607.9 316.6,2608.8 318.0,2608.3 319.3,2608.5 320.6,2608.3 321.9,2607.8 323.3,2608.8 324.6,2608.4 325.9,2608.3 327.3,2607.7 328.6,2607.5 329.9,2608.1 331.3,2608.5 332.6,2608.5 333.9,2608.0 335.9,2596.0 337.9,2568.1 339.4,2568.2 340.9,2568.2 342.4,2569.6 343.9,2570.1 345.2,2575.6 346.6,2578.7 347.9,2584.1 349.5,2586.6 351.1,2588.1 352.5,2560.3 353.9,2534.2 355.9,2518.2 357.9,2534.2 359.9,2550.2 361.5,2547.6 363.0,2546.2 364.6,2490.3 366.2,2470.4 367.8,2454.4 369.4,2457.4 371.0,2462.4 372.4,2471.8 373.8,2482.3 375.2,2492.1 376.5,2500.0 377.8,2506.3 379.1,2515.8 380.5,2526.9 381.8,2538.2 383.1,2542.2 384.5,2542.6 385.8,2546.2 387.1,2548.3 388.5,2551.3 389.8,2554.1 391.2,2555.1 392.6,2558.1 393.8,2490.3 395.8,2418.5 397.0,2350.6 399.0,2330.7 400.4,2357.0 401.8,2386.5 403.8,2402.5 405.7,2578.1 406.9,2608.0 408.3,2607.8 409.7,2607.8 411.1,2608.8 412.5,2607.6 413.9,2607.5 415.2,2608.7 416.6,2607.9 418.0,2608.6 419.4,2608.2 420.8,2608.5 422.2,2607.7 423.5,2607.5 424.9,2608.4 426.3,2608.0 427.7,2608.0 429.0,2603.5 430.4,2599.0 431.7,2594.0 433.0,2583.9 434.3,2572.2 435.7,2562.1 437.0,2560.4 438.3,2560.5 439.7,2558.1 441.0,2555.6 442.3,2552.2 443.7,2550.2 445.3,2540.6 446.8,2530.2 448.2,2537.5 449.6,2546.2 451.0,2552.2 452.3,2555.6 453.6,2562.1 455.0,2566.9 456.3,2570.3 457.6,2574.1 459.0,2552.4 460.3,2532.9 461.6,2510.2 463.6,2486.3 464.9,2484.0 466.3,2482.6 467.6,2482.3 468.9,2479.2 470.3,2479.9 471.6,2478.3 472.9,2475.4 474.2,2471.1 475.6,2466.4 476.9,2471.3 478.2,2478.3 479.6,2482.3 480.9,2486.1 482.2,2492.2 483.6,2498.3 484.9,2485.6 486.2,2473.7 487.5,2458.4 488.9,2463.0 490.2,2467.2 491.5,2470.3 492.9,2487.4 494.2,2501.9 495.5,2518.2 496.9,2526.3 498.2,2532.3 499.5,2538.2 500.9,2544.4 502.2,2551.2 503.5,2558.1 505.1,2583.7 506.7,2608.0 508.1,2607.6 509.5,2607.2 510.9,2608.2 512.2,2607.5 513.6,2607.4 515.0,2607.5 516.4,2607.7 517.8,2606.4 519.2,2606.6 520.5,2606.0 521.9,2606.4 523.3,2606.4 524.7,2606.9 526.1,2606.4 527.5,2606.0 528.8,2602.2 530.1,2597.9 531.4,2594.0 532.8,2587.5 534.1,2580.3 535.4,2574.1 536.8,2535.3 538.1,2495.4 539.4,2454.4 541.4,2478.3 542.8,2513.4 544.2,2546.2 545.9,2537.1 547.7,2530.7 549.4,2522.2 550.9,2530.0 552.4,2536.2 553.9,2544.3 555.4,2550.2 556.9,2557.2 558.4,2562.7 559.9,2568.9 561.4,2574.1 562.7,2578.4 564.0,2582.9 565.4,2586.1 567.4,2458.4 568.7,2441.9 570.0,2430.2 571.3,2414.5 572.9,2416.9 574.5,2417.7 576.1,2418.5 577.7,2433.3 579.3,2450.4 580.7,2400.0 582.0,2355.3 583.3,2306.7 584.7,2247.1 586.0,2179.4 587.3,2119.2 588.6,2136.0 590.0,2156.2 591.3,2179.0 593.3,2218.9 594.7,2231.2 596.1,2250.9 597.7,2262.4 599.3,2270.8 600.9,2288.6 602.5,2298.8 603.9,2275.3 605.3,2246.9 607.3,2306.7 609.3,2608.0 610.6,2607.8 611.9,2608.3 613.2,2607.3 614.5,2608.6 615.8,2607.7 617.1,2607.2 618.4,2608.2 619.7,2607.4 621.0,2607.7 622.3,2607.3 623.6,2607.9 624.9,2608.1 626.2,2608.5 627.5,2607.3 628.8,2608.5 630.1,2607.4 631.4,2607.6 632.7,2608.2 634.0,2607.8 635.3,2607.7 636.6,2608.1 637.9,2607.6 639.2,2608.0 640.5,2605.2 641.8,2600.9 643.2,2598.0 644.5,2581.5 645.8,2564.2 647.2,2546.2 648.5,2517.0 649.8,2485.7 651.2,2458.4 652.5,2437.2 653.8,2410.5 655.1,2390.5 656.5,2382.6 657.8,2374.1 659.1,2366.6 660.5,2367.8 661.8,2375.4 663.1,2378.6 664.5,2386.6 665.8,2392.4 667.1,2398.5 668.4,2401.9 669.8,2406.6 671.1,2410.5 672.4,2397.7 673.8,2382.2 675.1,2370.6 676.4,2383.5 677.8,2394.8 679.1,2402.5 680.7,2388.4 682.3,2370.6 683.7,2278.6 685.1,2179.0 686.5,2053.2 687.9,1931.6 690.3,1939.6 691.9,1971.5 694.3,2079.3 695.7,2099.0 697.0,2107.2 699.0,2298.8 701.0,2338.7 703.0,2258.9 705.0,2378.6 707.0,2578.1 709.0,2598.0 710.5,2598.3 712.0,2600.0 713.5,2600.4 715.0,2602.0 716.5,2601.9 718.0,2602.3 719.5,2602.4 721.0,2602.0 723.0,2558.1 724.3,2547.4 725.6,2536.4 727.0,2526.2 728.3,2531.9 729.6,2539.2 731.0,2546.2 732.3,2548.2 733.6,2550.6 735.0,2554.1 736.3,2557.4 737.6,2559.5 738.9,2562.1 740.3,2558.0 741.6,2553.3 742.9,2550.2 744.3,2533.5 745.6,2514.5 746.9,2498.3 748.3,2470.7 749.6,2445.4 750.9,2418.5 752.2,2399.7 753.6,2381.5 754.9,2358.6 756.2,2311.3 757.6,2264.0 758.9,2211.0 760.5,2213.0 762.1,2207.0 763.5,2234.9 764.9,2258.9 766.3,2270.7 767.7,2278.8 769.3,2281.3 770.9,2290.8 772.2,2293.8 773.5,2297.6 774.9,2306.7 776.2,2318.8 777.5,2327.0 778.9,2334.7 780.2,2336.9 781.5,2335.7 782.8,2338.7 784.2,2344.3 785.5,2349.7 786.8,2358.6 788.3,2362.5 789.8,2367.8 791.3,2366.3 792.8,2370.6 794.2,2375.7 795.7,2384.6 797.1,2393.7 798.5,2404.8 800.0,2410.5 802.0,2482.3 803.6,2531.2 805.2,2578.1 806.0,2609.2 807.3,2609.1 808.7,2608.6 810.1,2608.6 811.4,2608.7 812.8,2609.7 814.2,2609.2 815.5,2610.0 816.9,2609.9 818.2,2609.7 819.6,2609.2 821.0,2609.7 822.3,2608.6 823.7,2608.6 825.1,2609.3 826.4,2609.2 827.8,2608.7 829.2,2608.8 830.5,2608.4 831.9,2609.2 833.2,2608.1 834.6,2606.1 835.9,2604.0 837.2,2603.5 838.6,2602.2 839.9,2600.0 841.4,2600.4 842.9,2601.4 844.4,2601.3 845.9,2602.0 847.2,2599.9 848.5,2597.3 849.9,2594.0 851.2,2582.6 852.5,2571.6 853.8,2562.1 855.2,2560.7 856.5,2561.0 857.8,2560.1 859.2,2555.2 860.5,2549.5 861.8,2546.2 863.8,2498.3 865.2,2479.7 866.6,2458.4 868.2,2400.2 869.8,2338.7 871.8,2298.8 873.2,2286.5 874.6,2274.8 877.0,2338.7 878.4,2375.7 879.8,2418.5 881.8,2314.7 883.4,2349.3 885.0,2378.6 886.4,2368.8 887.8,2358.6 889.1,2346.4 890.4,2338.8 891.8,2330.7 893.2,2335.6 894.5,2338.7 896.9,2418.5 898.3,2440.3 899.7,2458.4 901.1,2468.3 902.5,2478.3 904.5,2554.1 905.7,2608.0 907.1,2608.2 908.4,2607.5 909.7,2607.6 911.0,2608.7 912.4,2607.8 913.7,2607.4 915.0,2608.2 916.4,2607.4 917.7,2607.5 919.0,2607.9 920.4,2608.2 921.7,2608.0 923.0,2598.3 924.3,2588.5 925.7,2578.1 927.0,2574.0 928.3,2569.1 929.7,2566.1 931.2,2564.7 932.7,2561.0 934.2,2560.1 935.7,2558.1 937.1,2557.4 938.6,2557.6 940.1,2557.2 941.6,2556.1 943.1,2554.9 944.6,2555.5 946.1,2555.2 947.6,2554.1 949.0,2559.4 950.3,2563.9 951.6,2570.1 952.9,2576.3 954.3,2581.0 955.6,2586.1 957.6,2518.2 959.2,2476.5 960.8,2438.4 962.2,2407.0 963.6,2378.6 965.6,2370.6 967.2,2387.5 968.8,2398.5 970.1,2403.6 971.4,2411.2 972.8,2418.5 974.1,2428.0 975.4,2436.1 976.8,2442.4 978.1,2455.0 979.4,2467.4 980.7,2478.3 982.1,2485.8 983.4,2495.4 984.7,2506.3 986.1,2411.2 987.5,2310.7 988.9,2282.6 990.2,2245.5 991.5,2218.9 992.9,2206.7 994.3,2203.0 995.9,2248.6 997.5,2298.8 998.8,2335.1 1000.2,2363.4 1001.5,2398.5 1003.5,2306.7 1004.9,2363.7 1006.3,2418.5 1008.7,2378.6 1010.1,2317.9 1011.5,2250.9 1012.9,2276.0 1014.3,2298.8 1015.9,2321.8 1017.5,2338.7 1019.4,2378.6 1020.8,2417.2 1022.2,2458.4 1023.6,2476.9 1024.9,2496.4 1026.2,2518.2 1028.0,2525.7 1029.7,2530.3 1031.4,2538.2 1032.8,2544.9 1034.1,2549.4 1035.4,2554.1 1036.7,2557.3 1038.1,2562.9 1039.4,2566.1 1040.7,2566.6 1042.1,2568.8 1043.4,2570.1 1044.7,2562.5 1046.1,2557.6 1047.4,2550.2 1048.9,2548.3 1050.4,2545.4 1051.9,2539.7 1053.4,2538.2 1054.9,2534.3 1056.4,2528.4 1057.9,2524.3 1059.4,2518.2 1061.1,2511.6 1062.8,2505.4 1064.5,2498.3 1066.1,2492.0 1067.7,2486.2 1069.3,2478.3 1070.8,2466.5 1072.3,2456.3 1073.8,2448.6 1075.3,2438.4 1076.8,2432.4 1078.3,2427.9 1079.8,2420.8 1081.3,2418.5 1082.8,2411.8 1084.3,2399.8 1085.8,2396.5 1087.3,2386.5 1088.6,2351.4 1089.9,2311.7 1091.3,2274.8 1093.3,2318.7 1094.9,2326.0 1096.5,2338.7 1097.9,2369.5 1099.3,2398.5 1100.6,2450.3 1101.9,2504.7 1103.2,2558.1 1105.2,2609.2 1106.6,2608.6 1107.9,2610.0 1109.2,2609.3 1110.6,2609.0 1111.9,2608.6 1113.2,2609.6 1114.6,2609.8 1115.9,2609.8 1117.2,2608.6 1118.5,2609.0 1119.9,2608.9 1121.2,2609.2 1122.8,2602.1 1124.4,2594.0 1125.8,2581.3 1127.2,2570.1 1128.5,2557.1 1129.9,2544.9 1131.2,2530.2 1132.7,2530.1 1134.2,2526.6 1135.7,2525.8 1137.2,2526.2 1138.5,2523.6 1139.8,2524.2 1141.2,2522.2 1142.5,2494.7 1143.8,2466.4 1145.1,2438.4 1146.5,2458.2 1147.8,2477.9 1149.1,2498.3 1150.6,2503.7 1152.1,2508.8 1153.6,2514.7 1155.1,2518.2 1156.5,2523.0 1157.8,2527.2 1159.1,2530.2 1160.4,2534.1 1161.8,2536.6 1163.1,2538.2 1164.4,2544.1 1165.8,2547.5 1167.1,2554.1 1168.4,2558.6 1169.8,2563.0 1171.1,2566.1 1172.4,2569.9 1173.7,2575.0 1175.1,2578.1 1176.6,2580.4 1178.1,2585.0 1179.6,2586.9 1181.1,2590.1 1182.4,2592.4 1183.7,2593.6 1185.1,2595.7 1186.4,2597.8 1187.7,2599.7 1189.0,2602.0 1190.4,2600.0 1191.7,2599.3 1193.0,2598.0 1194.6,2561.4 1196.2,2522.2 1197.6,2463.1 1199.0,2402.5 1200.4,2397.1 1201.8,2386.5 1203.4,2463.5 1205.0,2538.2 1207.0,2604.0 1208.5,2598.2 1210.0,2592.0 1211.5,2585.1 1213.0,2578.1 1214.5,2579.6 1216.0,2581.5 1217.5,2583.9 1219.0,2586.1 1220.5,2587.1 1222.0,2589.5 1223.5,2592.8 1225.0,2594.0 1226.5,2595.8 1227.9,2595.7 1229.4,2597.5 1230.9,2598.0 1232.3,2586.6 1233.6,2575.0 1234.9,2562.1 1236.3,2552.3 1237.6,2540.9 1238.9,2530.2 1240.3,2518.2 1241.6,2510.1 1242.9,2498.3 1244.2,2504.2 1245.6,2512.0 1246.9,2518.2 1248.2,2524.4 1249.6,2531.6 1250.9,2538.2 1252.2,2548.8 1253.6,2555.9 1254.9,2566.1 1256.2,2571.5 1257.5,2577.1 1258.9,2582.1 1260.2,2575.5 1261.5,2569.8 1262.9,2562.1 1264.2,2535.2 1265.5,2510.4 1266.9,2482.3 1268.2,2472.5 1269.5,2463.2 1270.8,2450.4 1272.2,2451.1 1273.5,2454.4 1274.8,2458.4 1276.2,2470.8 1277.5,2486.6 1278.8,2498.3 1280.2,2509.9 1281.5,2524.1 1282.8,2538.2 1284.1,2541.5 1285.5,2544.9 1286.8,2546.2 1288.4,2460.9 1290.0,2378.6 1291.3,2364.9 1292.6,2353.2 1294.0,2338.7 1295.3,2346.6 1296.6,2353.6 1298.0,2358.6 1299.3,2380.1 1300.6,2397.1 1301.9,2418.5 1303.3,2437.2 1304.7,2458.4 1306.3,2468.3 1307.9,2482.3 1309.3,2496.4 1310.6,2507.9 1311.9,2522.2 1313.3,2530.8 1314.6,2542.2 1315.9,2550.2 1317.2,2558.5 1318.6,2566.3 1319.9,2574.1 1321.2,2579.8 1322.6,2584.9 1323.9,2590.1 1325.2,2592.1 1326.6,2593.0 1327.9,2594.2 1329.2,2595.9 1330.5,2597.5 1331.9,2600.0 1333.2,2600.1 1334.5,2600.1 1335.9,2600.4 1337.2,2601.4 1338.5,2602.5 1339.9,2602.0 1341.4,2602.8 1342.8,2602.6 1344.3,2604.0 1345.8,2604.0 1347.3,2603.0 1348.8,2602.3 1350.3,2602.2 1351.8,2602.0 1353.3,2597.9 1354.8,2594.4 1356.3,2589.9 1357.8,2586.1 1359.3,2579.6 1360.8,2571.2 1362.3,2566.2 1363.8,2558.1 1365.1,2548.4 1366.5,2540.5 1367.8,2530.2 1369.1,2518.0 1370.4,2510.1 1371.8,2498.3 1373.1,2470.5 1374.4,2446.8 1375.8,2418.5 1377.1,2393.7 1378.4,2366.4 1379.8,2338.7 1381.4,2297.0 1383.0,2258.9 1384.5,2211.0 1386.9,2139.1 1388.3,2073.3 1389.7,2019.4 1391.1,1961.7 1392.4,1919.3 1393.7,1859.8 1395.1,1826.0 1396.5,1803.9 1398.9,1979.5 1400.9,1859.8 1402.9,2059.3 1404.5,2258.9 1406.1,2609.2 1407.5,2609.3 1408.8,2609.0 1410.2,2609.0 1411.6,2608.0 1412.9,2607.8 1414.3,2607.5 1415.7,2608.0 1417.0,2607.8 1418.3,2605.8 1419.7,2605.3 1421.0,2604.1 1422.3,2602.6 1423.7,2602.0 1425.0,2600.6 1426.3,2599.8 1427.6,2600.7 1429.0,2598.7 1430.3,2599.5 1431.6,2598.0 1433.1,2597.3 1434.6,2597.4 1436.1,2595.9 1437.6,2596.0 1439.1,2597.1 1440.6,2596.6 1442.1,2597.3 1443.6,2598.0 1445.1,2597.1 1446.6,2595.3 1448.1,2594.6 1449.6,2594.0 1450.9,2582.7 1452.3,2569.6 1453.6,2558.1 1454.9,2553.8 1456.2,2550.9 1457.6,2546.2 1459.3,2541.4 1461.0,2537.3 1462.8,2534.2 1464.4,2532.0 1466.0,2531.2 1467.5,2530.2 1468.9,2531.1 1470.2,2533.3 1471.5,2534.2 1473.1,2538.1 1474.7,2543.3 1476.3,2546.2 1478.1,2552.9 1479.8,2562.5 1481.5,2570.1 1482.8,2577.5 1484.2,2582.8 1485.5,2590.1 1486.8,2590.5 1488.2,2592.6 1489.5,2594.0 1490.9,2525.0 1492.3,2458.4 1493.9,2442.2 1495.5,2426.4 1497.1,2443.5 1498.7,2458.4 1500.1,2476.6 1501.5,2498.3 1502.9,2510.9 1504.3,2526.2 1505.5,2610.0 1507.0,2610.0 1508.5,2609.5 1509.9,2609.6 1511.4,2610.0 1513.0,2566.0 1514.6,2522.2 1516.2,2533.0 1517.8,2544.9 1519.4,2558.1 1521.0,2567.1 1522.6,2576.7 1524.2,2586.1 1525.9,2590.9 1527.7,2594.1 1529.4,2598.0 1530.9,2598.8 1532.4,2600.5 1533.9,2602.9 1535.4,2604.0 1536.7,2604.8 1538.0,2606.0 1539.4,2606.0 1540.7,2597.6 1542.0,2588.1 1543.4,2578.1 1544.7,2570.5 1546.0,2565.9 1547.4,2558.1 1548.7,2551.5 1550.0,2544.1 1551.3,2538.2 1552.7,2534.5 1554.0,2534.0 1555.3,2530.2 1556.7,2528.0 1558.0,2526.2 1559.3,2526.2 1560.9,2524.1 1562.5,2524.9 1564.1,2522.2 1565.8,2514.1 1567.6,2507.1 1569.3,2498.3 1570.8,2476.5 1572.3,2458.2 1573.8,2437.5 1575.3,2418.5 1576.8,2396.8 1578.3,2379.6 1579.8,2357.7 1581.3,2338.7 1582.6,2338.7 1583.9,2347.3 1585.3,2346.6 1586.6,2350.5 1587.9,2352.5 1589.3,2358.6 1590.6,2321.8 1591.9,2293.3 1593.2,2258.9 1594.6,2245.7 1595.9,2227.9 1597.2,2218.9 1598.6,2218.7 1599.9,2221.2 1601.2,2218.9 1602.6,2269.1 1604.0,2318.7 1606.4,2610.0 1608.0,2608.3 1609.6,2607.3 1611.2,2606.0 1612.7,2603.2 1614.2,2600.3 1615.7,2596.4 1617.2,2594.0 1618.7,2588.7 1620.2,2583.0 1621.7,2576.6 1623.2,2570.1 1624.7,2565.0 1626.2,2557.8 1627.7,2553.2 1629.2,2546.2 1630.5,2542.6 1631.8,2540.0 1633.2,2538.2 1634.5,2545.1 1635.8,2552.6 1637.1,2558.1 1638.5,2562.4 1639.8,2568.1 1641.1,2574.1 1642.5,2575.7 1643.8,2579.3 1645.1,2582.1 1646.6,2582.3 1648.1,2583.4 1649.6,2585.6 1651.1,2586.1 1652.6,2585.2 1654.1,2585.0 1655.6,2582.9 1657.1,2582.1 1658.4,2561.3 1659.8,2538.1 1661.1,2518.2 1662.4,2500.0 1663.7,2477.2 1665.1,2458.4 1666.4,2445.0 1667.7,2431.8 1669.1,2418.5 1670.4,2401.1 1671.7,2378.5 1673.1,2358.6 1675.1,2306.7 1676.4,2310.5 1677.7,2307.7 1679.0,2306.7 1680.4,2305.9 1681.7,2311.9 1683.0,2310.7 1684.4,2317.8 1685.7,2332.9 1687.0,2338.7 1688.6,2318.4 1690.2,2298.8 1691.6,2256.5 1693.0,2218.9 1694.3,2196.9 1695.7,2163.9 1697.0,2139.1 1698.4,2084.1 1699.8,2031.4 1702.2,2218.9 1703.6,2413.6 1705.0,2610.0 1706.5,2609.3 1708.0,2607.2 1709.5,2606.8 1711.0,2606.0 1712.5,2604.5 1714.0,2604.6 1715.5,2602.2 1717.0,2602.0 1718.4,2602.2 1719.9,2601.6 1721.4,2601.9 1722.9,2602.0 1724.4,2603.1 1725.9,2604.4 1727.4,2604.4 1728.9,2606.0 1730.3,2582.9 1731.6,2559.8 1732.9,2538.2 1734.2,2526.4 1735.6,2510.3 1736.9,2498.3 1738.4,2488.9 1739.9,2482.4 1741.4,2474.7 1742.9,2466.4 1744.2,2458.8 1745.5,2445.6 1746.9,2438.4 1748.2,2417.0 1749.5,2396.6 1750.9,2378.6 1752.5,2339.3 1754.1,2298.8 1755.5,2288.4 1756.9,2278.8 1758.4,2281.1 1759.8,2287.9 1761.3,2289.1 1762.8,2290.8 1764.2,2302.9 1765.5,2312.9 1766.8,2318.7 1768.2,2330.4 1769.5,2348.3 1770.8,2358.6 1772.2,2371.3 1773.5,2382.5 1774.8,2398.5 1776.5,2400.8 1778.3,2396.1 1780.0,2398.3 1781.5,2410.6 1783.0,2427.1 1784.5,2442.1 1786.0,2458.1 1787.3,2473.4 1788.6,2486.2 1789.9,2498.0 1791.9,2510.0 1793.9,2438.2 1795.5,2427.8 1797.1,2418.2 1798.5,2438.3 1799.9,2458.1 1801.2,2499.3 1802.6,2538.8 1803.9,2577.8 1805.1,2609.7 1806.4,2609.9 1807.7,2609.7 1809.0,2609.1 1810.3,2609.3 1811.6,2609.9 1812.9,2609.8 1814.2,2610.2 1815.5,2610.3 1816.8,2610.4 1818.1,2609.2 1819.4,2609.0 1820.7,2610.3 1822.0,2609.8 1823.3,2609.2 1824.6,2610.0 1825.9,2609.3 1827.2,2609.3 1828.5,2609.5 1829.8,2609.7 1831.8,2557.8 1833.8,2537.9 1835.2,2534.0 1836.5,2530.5 1837.8,2525.9 1839.1,2525.9 1840.5,2529.3 1841.8,2529.9 1843.1,2532.9 1844.5,2535.1 1845.8,2537.9 1847.1,2535.7 1848.4,2533.5 1849.8,2529.9 1851.8,2458.1 1853.2,2375.3 1854.6,2298.5 1857.0,2178.9 1858.4,2118.8 1859.7,2059.2 1861.1,2041.6 1862.5,2019.3 1864.1,2042.0 1865.7,2059.2 1867.7,2158.9 1869.1,2200.3 1870.5,2238.7 1872.9,2298.5 1874.3,2336.2 1875.7,2378.3 1877.0,2400.9 1878.4,2419.8 1879.7,2438.2 1881.0,2443.5 1882.4,2451.1 1883.7,2458.1 1885.0,2466.8 1886.3,2470.1 1887.7,2478.0 1889.0,2480.3 1890.3,2485.3 1891.7,2486.0 1893.0,2491.6 1894.3,2493.0 1895.6,2498.0 1897.0,2512.1 1898.3,2524.1 1899.6,2537.9 1901.0,2549.0 1902.3,2559.8 1903.6,2569.8 1905.0,2571.6 1906.3,2574.5 1907.6,2577.8 1909.0,2578.1 1910.4,2579.8 1912.0,2548.2 1913.6,2517.9 1914.9,2523.1 1916.3,2530.1 1917.6,2537.9 1918.9,2544.3 1920.2,2551.0 1921.6,2557.8 1922.9,2562.1 1924.2,2568.7 1925.6,2573.8 1926.9,2573.5 1928.2,2571.3 1929.6,2569.8 1930.9,2565.4 1932.2,2562.3 1933.5,2557.8 1934.9,2551.0 1936.2,2543.6 1937.5,2537.9 1938.9,2535.2 1940.2,2531.1 1941.5,2529.9 1942.8,2529.1 1944.2,2526.1 1945.5,2525.9 1946.8,2522.8 1948.2,2522.1 1949.5,2517.9 1950.8,2499.0 1952.2,2479.5 1953.5,2458.1 1954.8,2405.7 1956.1,2352.6 1957.5,2298.5 1958.8,2267.0 1960.1,2236.3 1961.5,2198.8 1962.8,2186.5 1964.1,2182.9 1965.5,2170.9 1966.8,2191.5 1968.1,2213.8 1969.4,2238.7 1970.8,2221.8 1972.1,2199.8 1973.4,2178.9 1975.0,2152.7 1976.6,2119.1 1978.0,2073.8 1979.4,2019.3 1981.4,1859.8 1983.0,1772.0 1984.6,1736.9 1986.6,1799.9 1988.6,1899.7 1990.2,1939.6 1992.6,2139.0 1994.0,2199.7 1995.4,2258.7 1996.7,2276.1 1998.0,2294.8 1999.4,2318.5 2000.8,2388.5 2002.1,2458.1 2004.5,2557.8 2005.3,2605.7 2006.7,2606.2 2008.0,2605.5 2009.3,2605.3 2010.7,2605.3 2012.0,2605.7 2013.3,2606.7 2014.6,2605.6 2016.0,2606.1 2017.3,2606.3 2018.6,2607.1 2020.0,2607.7 2021.3,2606.2 2022.6,2606.5 2024.0,2607.9 2025.3,2608.1 2026.6,2606.9 2027.9,2607.3 2029.3,2607.7 2031.3,2593.7 2032.7,2575.8 2034.1,2557.8 2036.5,2537.9 2037.9,2547.3 2039.2,2557.8 2040.6,2560.3 2041.9,2563.1 2043.2,2565.8 2044.6,2567.9 2045.9,2570.1 2047.2,2573.8 2048.6,2567.5 2049.9,2562.3 2051.2,2557.8 2052.6,2540.7 2054.0,2525.9 2055.6,2502.4 2057.2,2478.0 2058.8,2449.1 2060.4,2418.2 2061.7,2390.2 2063.0,2366.9 2064.4,2338.4 2065.7,2326.8 2067.0,2310.7 2068.4,2298.5 2069.8,2328.4 2071.2,2358.4 2072.5,2363.0 2073.8,2374.4 2075.1,2378.3 2076.5,2385.3 2077.8,2389.0 2079.1,2398.3 2080.5,2403.0 2081.8,2412.6 2083.1,2418.2 2084.5,2404.3 2085.8,2392.9 2087.1,2378.3 2088.4,2336.5 2089.8,2300.9 2091.1,2258.7 2092.4,2234.8 2093.8,2201.6 2095.1,2178.9 2096.5,2155.9 2097.9,2131.0 2099.5,2171.7 2101.1,2218.8 2103.1,2498.0 2105.1,2609.7 2106.4,2609.3 2107.7,2608.8 2109.1,2608.2 2110.4,2606.6 2111.7,2605.7 2113.0,2605.7 2114.5,2605.0 2116.0,2603.8 2117.5,2602.1 2119.0,2601.7 2120.5,2599.2 2122.0,2597.9 2123.5,2595.0 2125.0,2593.7 2127.0,2458.1 2129.0,2139.0 2131.0,2119.1 2132.4,2130.5 2133.8,2139.0 2135.4,2176.2 2137.0,2218.8 2138.3,2243.2 2139.6,2271.3 2141.0,2298.5 2142.3,2318.7 2143.6,2340.0 2145.0,2358.4 2146.3,2375.4 2147.6,2399.6 2148.9,2418.2 2150.3,2423.4 2151.6,2430.4 2152.9,2438.2 2154.3,2419.0 2155.6,2399.4 2156.9,2378.3 2158.5,2359.1 2160.1,2338.4 2161.5,2351.1 2162.9,2358.4 2164.3,2366.5 2165.7,2378.3 2167.3,2387.2 2168.9,2398.3 2170.2,2405.8 2171.5,2410.2 2172.9,2418.2 2174.2,2429.7 2175.5,2443.5 2176.9,2458.1 2178.2,2469.9 2179.5,2480.7 2180.8,2490.0 2182.2,2496.2 2183.5,2502.4 2184.8,2506.0 2186.2,2511.0 2187.5,2513.3 2188.8,2517.9 2190.2,2524.0 2191.5,2531.9 2192.8,2537.9 2194.1,2543.2 2195.5,2551.5 2196.8,2557.8 2198.1,2560.8 2199.5,2564.7 2200.8,2569.8 2202.4,2589.8 2204.0,2609.7 2205.3,2609.0 2206.6,2610.2 2207.9,2610.0 2209.2,2609.3 2210.5,2608.8 2211.8,2608.6 2213.1,2609.1 2214.5,2609.1 2215.8,2608.7 2217.1,2609.2 2218.4,2608.8 2219.7,2609.2 2221.0,2608.0 2222.3,2607.9 2223.6,2608.3 2224.9,2608.4 2226.2,2607.9 2227.5,2608.5 2228.8,2607.7 2230.2,2607.8 2231.5,2608.0 2232.8,2608.3 2234.1,2608.3 2235.4,2607.6 2236.7,2607.7 2238.0,2591.0 2239.4,2575.4 2240.7,2557.8 2242.0,2555.0 2243.3,2550.2 2244.7,2545.9 2246.0,2546.1 2247.3,2548.4 2248.7,2549.8 2250.0,2546.2 2251.3,2541.2 2252.6,2537.9 2254.0,2541.9 2255.3,2549.9 2256.6,2553.8 2258.0,2560.2 2259.3,2563.5 2260.6,2569.8 2262.1,2573.7 2263.6,2578.0 2265.1,2581.3 2266.6,2585.7 2268.1,2586.9 2269.6,2590.2 2271.1,2592.3 2272.6,2593.7 2273.9,2588.3 2275.3,2582.2 2276.6,2577.8 2278.1,2575.5 2279.6,2572.8 2281.1,2572.9 2282.6,2569.8 2284.1,2570.7 2285.6,2573.3 2287.1,2576.4 2288.5,2577.8 2289.9,2578.3 2291.2,2579.6 2292.5,2581.8 2293.9,2576.8 2295.2,2573.0 2296.5,2569.8 2297.9,2567.2 2299.2,2565.3 2300.5,2561.8 2302.1,2557.0 2303.7,2553.8" fill="none" stroke="#00ff00" stroke-width="4.0" stroke-linejoin="round"/>
<polyline points="306.0,2530.2 306.3,2598.0 306.9,2556.1 308.3,2572.9 309.7,2545.1 311.0,2562.2 312.0,2538.2 312.3,2578.1 312.9,2539.2 313.9,2569.2 314.8,2539.8 316.3,2572.1 317.1,2537.0 318.3,2577.0 320.0,2530.2 320.3,2582.1 320.9,2541.5 321.9,2568.1 323.4,2525.4 325.0,2572.2 325.7,2540.5 326.9,2561.7 327.9,2518.2 328.2,2574.1 328.8,2536.8 329.8,2553.3 330.7,2529.5 332.0,2559.0 333.1,2514.6 334.4,2548.0 335.2,2523.9 335.9,2510.2 336.2,2562.1 336.8,2558.5 338.3,2529.9 339.0,2552.4 339.8,2517.2 340.5,2545.8 341.5,2518.5 342.6,2545.7 343.9,2514.2 344.2,2550.2 344.8,2527.3 345.6,2549.8 346.3,2523.0 347.1,2544.6 348.5,2537.8 349.9,2522.2 350.2,2562.1 350.8,2552.5 352.2,2512.3 353.9,2494.3 354.2,2522.2 354.8,2516.2 355.7,2491.5 357.9,2486.3 358.2,2518.2 358.8,2498.3 359.9,2460.2 361.9,2418.5 362.2,2466.4 362.8,2439.4 363.9,2402.0 364.9,2416.2 365.8,2378.6 366.1,2426.4 366.7,2390.2 367.9,2407.3 369.2,2376.1 369.8,2370.6 370.1,2406.5 370.7,2392.3 371.5,2377.7 373.0,2390.3 373.8,2374.6 374.1,2402.5 374.7,2375.6 376.0,2379.1 377.1,2347.5 377.8,2338.7 378.1,2386.5 378.7,2364.6 380.1,2325.2 381.8,2306.7 382.1,2358.6 382.7,2345.3 384.0,2313.8 385.1,2358.1 385.8,2318.7 386.1,2366.6 386.7,2322.5 387.5,2346.5 388.5,2326.0 389.8,2302.7 390.1,2354.6 390.7,2332.7 392.1,2253.8 393.8,2211.0 394.1,2330.7 394.7,2306.8 396.2,2163.2 397.0,2147.1 397.3,2258.9 397.9,2203.0 398.7,2104.1 399.8,2051.3 400.1,2139.1 400.7,2107.8 401.8,2047.4 402.1,2099.2 402.7,2081.4 403.6,2136.9 404.5,2099.2 404.8,2218.9 405.4,2179.4 406.9,2218.9 407.2,2498.3 407.8,2480.8 408.5,2514.2 408.8,2598.0 409.4,2541.2 410.9,2582.2 412.3,2539.1 413.1,2590.0 413.7,2538.2 414.0,2590.1 414.6,2560.9 415.5,2582.8 416.9,2554.4 417.7,2585.1 418.8,2572.7 419.7,2558.1 420.0,2598.0 420.6,2594.3 421.8,2565.9 422.5,2591.6 424.1,2564.0 425.7,2558.1 426.0,2602.0 426.6,2586.2 427.3,2572.3 428.1,2592.2 429.5,2546.0 430.5,2592.5 431.7,2538.2 432.0,2594.0 432.6,2532.3 433.4,2579.5 434.2,2523.2 435.0,2562.7 435.7,2510.2 436.0,2574.1 436.6,2523.3 437.6,2541.6 438.6,2500.5 439.7,2466.4 440.0,2522.2 440.6,2506.6 441.3,2494.9 442.4,2516.7 443.7,2474.3 444.0,2538.2 444.6,2478.0 445.3,2516.5 446.5,2495.1 447.6,2478.3 447.9,2530.2 448.5,2516.3 449.4,2486.1 450.4,2509.8 451.6,2474.3 451.9,2518.2 452.5,2479.5 453.8,2512.3 455.6,2474.3 455.9,2510.2 456.5,2482.4 457.4,2503.4 458.6,2482.8 459.6,2478.3 459.9,2498.3 460.5,2474.3 461.6,2426.9 462.5,2409.4 463.6,2330.7 463.9,2418.5 464.5,2363.3 466.1,2385.2 467.6,2310.7 467.9,2378.6 468.5,2299.6 469.4,2294.7 470.8,2195.0 471.1,2298.8 471.7,2202.2 472.9,2234.3 473.6,2091.3 473.9,2218.9 474.5,2098.0 475.4,2163.2 476.4,2083.3 476.7,2179.0 477.3,2140.5 478.6,2259.6 479.6,2218.9 479.9,2298.8 480.5,2211.9 481.6,2264.4 482.8,2179.0 483.1,2290.8 483.7,2136.1 484.5,2149.9 485.6,2039.4 485.9,2139.1 486.5,2058.2 487.5,2043.4 487.8,2119.2 488.4,2119.7 489.8,2114.4 490.7,2099.2 491.0,2218.9 491.6,2227.8 492.8,2205.9 493.5,2230.9 493.8,2338.7 494.4,2318.7 496.3,2318.7 496.6,2418.5 497.2,2374.5 498.3,2406.0 499.5,2358.6 499.8,2458.4 500.4,2403.9 501.8,2443.5 503.5,2418.5 503.8,2498.3 504.4,2457.9 505.3,2488.9 506.7,2438.4 507.0,2538.2 507.6,2479.7 508.6,2542.8 509.5,2530.2 509.8,2578.1 510.4,2550.2 511.7,2578.8 512.5,2548.5 513.5,2538.2 513.8,2586.1 514.4,2580.6 515.2,2544.9 516.5,2587.3 517.5,2546.2 517.8,2594.0 518.4,2550.9 519.8,2581.2 520.8,2545.9 521.5,2574.0 522.5,2533.0 523.5,2530.2 523.8,2578.1 524.4,2568.6 525.1,2547.6 526.0,2568.9 526.7,2524.0 528.0,2557.9 529.4,2514.2 529.7,2570.1 530.3,2521.4 531.3,2545.4 532.3,2539.5 533.8,2561.8 535.4,2522.2 535.7,2562.1 536.3,2517.2 537.7,2534.1 539.4,2498.3 539.7,2538.2 540.3,2507.5 541.8,2541.6 543.4,2490.3 543.7,2550.2 544.3,2495.5 545.4,2539.3 546.7,2498.3 547.4,2482.3 547.7,2538.2 548.3,2522.1 549.5,2508.7 551.4,2498.3 551.7,2530.2 552.3,2518.2 553.3,2500.4 554.3,2519.3 555.4,2466.4 555.7,2518.2 556.3,2478.6 557.8,2495.4 559.4,2442.4 559.7,2510.2 560.3,2459.7 561.7,2474.5 563.4,2378.6 563.7,2478.3 564.3,2400.4 565.3,2445.3 566.5,2371.7 567.4,2326.7 567.7,2418.5 568.3,2390.5 569.8,2334.2 570.6,2398.8 571.3,2330.7 571.6,2418.5 572.2,2385.3 573.9,2442.0 575.3,2418.5 575.6,2478.3 576.2,2440.0 577.1,2460.9 577.9,2433.5 579.3,2438.4 579.6,2498.3 580.2,2464.0 581.4,2363.0 582.5,2298.8 582.8,2378.6 583.4,2338.7 585.3,2230.9 585.6,2298.8 586.2,2265.1 587.4,2320.9 588.1,2258.9 588.4,2338.7 589.0,2292.1 590.1,2343.4 591.3,2318.7 591.6,2378.6 592.2,2336.4 593.4,2373.2 594.3,2358.0 595.3,2358.6 595.6,2418.5 596.2,2420.4 596.9,2378.2 598.4,2415.2 599.3,2378.6 599.6,2438.4 600.2,2408.4 601.4,2436.2 602.1,2414.8 603.3,2418.5 603.6,2458.4 604.2,2458.5 604.9,2448.8 606.5,2458.4 606.8,2498.3 607.4,2515.6 608.4,2529.5 609.3,2558.1 609.6,2574.1 610.2,2568.2 611.4,2560.2 612.6,2567.4 614.2,2564.6 615.2,2562.1 615.5,2570.1 616.1,2566.7 617.4,2561.8 619.0,2566.2 620.5,2559.9 621.2,2558.1 621.5,2570.1 622.1,2567.5 623.1,2561.0 624.3,2566.2 625.5,2560.3 627.2,2554.1 627.5,2566.1 628.1,2559.9 629.3,2555.7 630.0,2560.6 631.2,2550.0 633.2,2538.2 633.5,2562.1 634.1,2554.0 635.2,2541.3 636.4,2549.6 638.0,2528.8 639.2,2526.2 639.5,2554.1 640.1,2540.0 640.8,2529.6 641.5,2538.3 643.0,2512.3 644.0,2537.4 645.2,2498.3 645.5,2538.2 646.1,2494.3 647.3,2500.1 648.5,2464.8 649.2,2438.4 649.5,2478.3 650.1,2450.3 651.0,2422.5 652.0,2441.3 653.2,2378.6 653.5,2438.4 654.1,2369.8 655.3,2386.0 657.1,2318.7 657.4,2378.6 658.0,2310.2 659.0,2346.9 661.1,2278.8 661.4,2338.7 662.0,2282.4 663.5,2327.5 665.1,2274.8 665.4,2338.7 666.0,2311.0 666.8,2345.9 667.6,2305.8 669.1,2318.7 669.4,2378.6 670.0,2365.6 671.2,2342.6 673.1,2358.6 673.4,2398.5 674.0,2389.4 674.8,2373.3 676.3,2394.6 677.1,2358.6 677.4,2398.5 678.0,2367.5 678.9,2389.5 680.4,2352.9 681.1,2330.7 681.4,2378.6 682.0,2354.1 683.9,2258.9 684.2,2378.6 684.8,2262.4 686.2,2253.6 687.1,2139.1 687.4,2298.8 688.0,2177.7 689.5,2206.6 691.1,2059.3 691.4,2179.0 692.0,2122.2 693.4,2229.9 694.3,2139.1 694.6,2298.8 695.2,2131.5 696.3,2229.3 697.0,2059.3 697.3,2218.9 697.9,2098.0 699.0,1939.6 699.3,2258.9 699.9,2088.5 701.3,1882.4 702.2,1843.8 702.5,1939.6 703.1,1894.8 704.2,1843.8 704.5,1899.7 705.1,1864.2 706.2,1879.8 706.5,2019.4 707.1,2129.1 708.2,2139.1 708.5,2418.5 709.1,2335.5 710.0,2499.1 711.0,2518.2 711.3,2558.1 711.9,2535.8 712.8,2560.3 714.1,2526.1 715.4,2565.5 716.4,2540.8 717.0,2530.2 717.3,2570.1 717.9,2561.1 719.0,2528.1 720.0,2560.0 721.4,2536.2 723.0,2522.2 723.3,2558.1 723.9,2542.0 725.2,2493.9 726.3,2528.4 727.2,2485.3 728.1,2513.3 729.0,2438.4 729.3,2518.2 729.9,2461.0 731.1,2479.7 732.2,2441.2 733.0,2402.5 733.3,2478.3 733.9,2468.2 735.1,2447.7 736.0,2486.1 737.0,2438.4 737.3,2498.3 737.9,2439.5 739.2,2470.3 740.3,2421.9 740.9,2378.6 741.2,2458.4 741.8,2439.4 743.3,2391.7 744.9,2338.7 745.2,2438.4 745.8,2424.0 747.1,2353.0 748.9,2306.7 749.2,2398.5 749.8,2360.9 750.8,2302.1 751.8,2349.0 752.9,2246.9 753.2,2358.6 753.8,2288.5 755.3,2296.9 756.9,2242.9 757.2,2318.7 757.8,2282.3 758.6,2298.7 759.9,2294.9 760.9,2278.8 761.2,2338.7 761.8,2319.0 762.5,2312.8 764.0,2356.6 764.9,2298.8 765.2,2378.6 765.8,2309.6 767.2,2363.6 768.2,2317.6 770.1,2318.7 770.4,2378.6 771.0,2315.7 771.7,2258.7 772.9,2155.1 773.2,2258.9 773.8,2191.6 774.8,2086.0 775.7,2027.4 776.0,2099.2 776.6,2083.7 778.1,2067.3 778.4,2139.1 779.0,2108.1 779.7,2185.4 780.8,2159.1 781.1,2218.9 781.7,2188.3 782.8,2222.5 783.9,2214.6 784.8,2218.9 785.1,2278.8 785.7,2287.3 787.3,2262.7 788.8,2258.9 789.1,2338.7 789.7,2326.9 790.6,2281.5 791.8,2334.5 793.4,2305.6 794.8,2298.8 795.1,2358.6 795.7,2377.6 796.5,2321.1 798.0,2384.3 798.9,2365.0 800.0,2322.7 800.3,2478.3 800.9,2447.5 802.0,2322.7 802.3,2498.3 802.9,2386.2 803.6,2513.7 805.2,2538.2 805.5,2594.0 806.1,2549.8 807.6,2572.6 808.6,2550.6 810.0,2554.1 810.3,2582.1 810.9,2573.3 811.7,2553.5 812.9,2579.7 814.3,2559.1 815.2,2573.0 815.9,2550.2 816.2,2578.1 816.8,2550.8 817.7,2565.8 818.8,2554.6 819.8,2563.5 821.0,2550.2 821.9,2538.2 822.2,2574.1 822.8,2562.6 823.7,2549.2 825.0,2557.3 826.3,2528.2 827.3,2556.1 827.9,2522.2 828.2,2558.1 828.8,2518.8 829.9,2538.5 831.3,2522.4 832.3,2544.7 833.9,2498.3 834.2,2546.2 834.8,2503.5 836.1,2535.6 837.5,2505.8 839.0,2518.1 839.9,2490.3 840.2,2538.2 840.8,2511.7 841.5,2518.8 842.2,2503.6 843.2,2520.2 844.2,2499.5 845.9,2498.3 846.2,2530.2 846.8,2521.8 848.2,2505.0 848.9,2517.8 849.8,2504.5 850.5,2523.8 851.9,2498.3 852.2,2526.2 852.8,2504.9 854.0,2519.5 855.4,2494.2 856.3,2516.0 857.8,2466.4 858.1,2530.2 858.7,2468.7 859.6,2488.4 860.6,2408.5 861.8,2378.6 862.1,2458.4 862.7,2398.4 863.9,2305.2 865.0,2258.9 865.3,2338.7 865.9,2295.8 867.8,2131.2 868.1,2218.9 868.7,2138.5 869.5,2188.3 870.6,2139.1 870.9,2179.0 871.5,2151.0 873.0,2194.6 873.8,2159.1 874.1,2238.9 874.7,2210.4 876.0,2284.9 877.0,2238.9 877.3,2338.7 877.9,2298.1 879.8,2298.8 880.1,2378.6 880.7,2358.8 881.7,2281.3 882.6,2258.9 882.9,2318.7 883.5,2289.2 885.0,2199.2 885.8,2179.0 886.1,2258.9 886.7,2242.9 887.4,2207.3 888.3,2236.9 889.0,2179.0 889.3,2238.9 889.9,2190.0 890.7,2223.3 891.8,2187.0 892.1,2218.9 892.7,2182.5 893.8,2186.0 894.5,2147.1 894.8,2179.0 895.4,2158.2 896.8,2174.1 897.7,2147.1 898.0,2179.0 898.6,2164.7 899.8,2194.6 900.9,2159.1 901.2,2218.9 901.8,2182.4 903.7,2218.9 904.0,2298.8 904.6,2384.9 905.7,2458.4 906.0,2538.2 906.6,2505.9 908.1,2561.4 909.7,2538.2 910.0,2578.1 910.6,2542.5 911.8,2563.1 912.8,2547.1 914.1,2574.6 915.7,2538.2 916.0,2578.1 916.6,2542.8 918.2,2566.4 919.5,2526.1 920.5,2560.0 921.7,2518.2 922.0,2558.1 922.6,2523.8 923.4,2537.2 924.2,2518.6 925.7,2542.2 926.6,2511.3 927.7,2490.3 928.0,2538.2 928.6,2514.3 929.6,2489.4 931.1,2518.1 932.7,2486.6 933.7,2458.4 934.0,2518.2 934.6,2505.5 936.1,2468.0 937.6,2506.1 939.0,2487.7 939.6,2474.3 939.9,2530.2 940.5,2507.1 941.3,2496.9 942.7,2523.4 944.0,2494.1 945.6,2490.3 945.9,2530.2 946.5,2528.2 948.1,2485.8 949.5,2513.3 950.9,2470.2 951.6,2458.4 951.9,2522.2 952.5,2523.4 953.7,2480.5 955.6,2498.3 955.9,2530.2 956.5,2492.6 957.6,2442.3 958.4,2378.6 958.7,2458.4 959.3,2408.6 960.1,2376.9 961.6,2330.7 961.9,2398.5 962.5,2380.5 963.2,2360.8 964.3,2381.8 965.6,2338.7 965.9,2398.5 966.5,2341.6 967.2,2365.6 968.1,2327.0 969.0,2354.9 969.6,2318.7 969.9,2378.6 970.5,2313.7 971.3,2335.7 972.6,2299.7 973.6,2270.8 973.9,2338.7 974.5,2330.5 976.0,2283.2 977.5,2290.8 977.8,2358.6 978.4,2361.4 980.1,2311.3 981.5,2318.7 981.8,2378.6 982.4,2359.7 983.8,2326.7 985.5,2330.7 985.8,2398.5 986.4,2379.4 987.6,2328.7 988.7,2360.3 989.5,2318.7 989.8,2378.6 990.4,2346.8 991.5,2381.3 992.4,2345.5 993.5,2338.7 993.8,2398.5 994.4,2367.4 995.9,2297.8 997.5,2238.9 997.8,2338.7 998.4,2287.3 999.3,2230.6 1000.3,2298.8 1001.5,2218.9 1001.8,2298.8 1002.4,2219.1 1003.1,2242.1 1004.7,2163.1 1005.0,2258.9 1005.6,2302.2 1007.5,2458.4 1007.8,2602.0 1008.4,2559.3 1009.8,2507.5 1011.5,2518.2 1011.8,2602.0 1012.4,2590.7 1013.6,2533.3 1015.0,2581.9 1016.0,2533.2 1017.5,2498.3 1017.8,2578.1 1018.4,2542.3 1019.2,2505.6 1019.9,2549.9 1021.3,2520.0 1022.7,2554.2 1023.4,2498.3 1023.7,2570.1 1024.3,2525.5 1025.6,2543.7 1026.9,2503.9 1028.2,2540.3 1029.4,2478.3 1029.7,2558.1 1030.3,2493.0 1031.4,2537.3 1032.6,2489.6 1033.7,2531.4 1034.7,2505.6 1035.4,2478.3 1035.7,2538.2 1036.3,2533.2 1037.7,2468.4 1038.8,2501.0 1039.4,2438.4 1039.7,2518.2 1040.3,2438.5 1041.0,2475.7 1042.6,2419.1 1043.4,2398.5 1043.7,2498.3 1044.3,2475.4 1045.0,2427.1 1046.5,2458.1 1047.4,2378.6 1047.7,2458.4 1048.3,2406.7 1049.7,2444.0 1050.8,2402.0 1051.4,2398.5 1051.7,2458.4 1052.3,2431.3 1053.8,2394.2 1055.4,2386.5 1055.7,2438.4 1056.3,2421.1 1057.6,2413.9 1058.4,2452.6 1059.4,2418.5 1059.7,2458.4 1060.3,2418.0 1061.7,2445.0 1063.3,2410.5 1063.6,2458.4 1064.2,2423.6 1065.8,2430.8 1066.6,2399.9 1067.3,2378.6 1067.6,2438.4 1068.2,2424.2 1069.8,2336.8 1070.6,2406.0 1071.3,2238.9 1071.6,2418.5 1072.2,2258.0 1073.2,2348.0 1074.1,2139.1 1074.4,2378.6 1075.0,2124.3 1076.4,2187.4 1077.3,2027.4 1077.6,2139.1 1078.2,2085.2 1079.2,2131.0 1080.5,2059.3 1080.8,2179.0 1081.4,2086.7 1082.7,2149.1 1083.3,2079.3 1083.6,2179.0 1084.2,2035.7 1085.0,2059.6 1086.1,1939.6 1086.4,2019.4 1087.0,1862.3 1088.5,1686.2 1088.8,1899.7 1089.4,1799.3 1090.1,1684.2 1090.4,1859.8 1091.0,1733.5 1091.7,1740.1 1092.0,1879.8 1092.6,1900.3 1094.1,1847.8 1094.4,1979.5 1095.0,1905.2 1095.9,2046.4 1097.3,2019.4 1097.6,2139.1 1098.2,2056.0 1099.0,2176.9 1100.5,2119.2 1100.8,2218.9 1101.4,2185.8 1102.4,2346.8 1103.2,2258.9 1103.5,2498.3 1104.1,2412.0 1105.2,2518.2 1105.5,2602.0 1106.1,2572.6 1107.7,2539.2 1109.2,2530.2 1109.5,2594.0 1110.1,2584.5 1111.7,2539.9 1113.0,2573.4 1114.0,2524.4 1115.2,2518.2 1115.5,2578.1 1116.1,2568.3 1117.5,2529.5 1118.6,2572.3 1119.5,2524.9 1121.2,2514.2 1121.5,2578.1 1122.1,2559.6 1122.8,2530.1 1123.9,2567.2 1124.8,2510.5 1126.3,2546.3 1127.2,2498.3 1127.5,2558.1 1128.1,2503.9 1129.0,2550.3 1130.1,2517.1 1131.5,2537.5 1133.2,2490.3 1133.5,2558.1 1134.1,2508.5 1134.9,2551.2 1135.7,2494.2 1136.9,2523.4 1138.1,2494.9 1139.2,2482.3 1139.5,2538.2 1140.1,2512.4 1141.4,2485.7 1142.2,2509.9 1143.1,2497.1 1143.9,2518.0 1145.1,2466.4 1145.4,2538.2 1146.0,2493.2 1147.0,2532.3 1147.9,2486.4 1149.5,2510.0 1151.1,2450.4 1151.4,2530.2 1152.0,2458.7 1153.0,2523.4 1154.6,2445.1 1155.8,2508.3 1157.1,2438.4 1157.4,2518.2 1158.0,2452.0 1159.6,2501.5 1160.4,2453.2 1161.7,2486.0 1163.1,2426.4 1163.4,2498.3 1164.0,2453.5 1164.8,2490.4 1165.7,2439.6 1166.8,2475.4 1168.2,2448.6 1169.1,2418.5 1169.4,2490.3 1170.0,2485.4 1171.4,2412.8 1172.4,2472.6 1173.7,2429.4 1175.1,2402.5 1175.4,2466.4 1176.0,2456.8 1177.4,2420.2 1178.2,2443.1 1179.7,2410.6 1181.1,2398.5 1181.4,2458.4 1182.0,2437.6 1182.9,2395.8 1183.8,2438.4 1184.6,2397.1 1185.8,2427.7 1187.0,2378.6 1187.3,2438.4 1187.9,2397.1 1188.7,2424.0 1190.3,2391.1 1191.8,2402.0 1193.0,2358.6 1193.3,2418.5 1193.9,2367.5 1195.1,2383.8 1196.1,2321.4 1197.0,2306.7 1197.3,2358.6 1197.9,2335.0 1199.0,2291.8 1200.2,2266.8 1200.5,2298.8 1201.1,2305.0 1203.0,2298.8 1203.3,2358.6 1203.9,2372.6 1205.8,2418.5 1206.1,2598.0 1206.7,2575.4 1207.5,2506.2 1208.9,2579.8 1209.9,2518.0 1211.0,2538.2 1211.3,2598.0 1211.9,2585.1 1213.3,2550.8 1214.3,2582.3 1215.7,2565.1 1217.0,2550.2 1217.3,2590.1 1217.9,2575.8 1218.9,2561.7 1220.3,2573.4 1221.3,2546.3 1223.0,2538.2 1223.3,2578.1 1223.9,2562.9 1224.8,2537.3 1225.7,2558.2 1226.4,2548.9 1227.6,2564.3 1228.9,2530.2 1229.2,2574.1 1229.8,2534.9 1231.0,2566.6 1232.6,2517.9 1233.4,2547.1 1234.9,2506.3 1235.2,2558.1 1235.8,2507.6 1237.2,2496.5 1237.9,2441.4 1238.9,2418.5 1239.2,2498.3 1239.8,2457.4 1240.9,2410.5 1241.2,2458.4 1241.8,2436.8 1243.2,2489.8 1244.9,2478.3 1245.2,2518.2 1245.8,2499.0 1247.2,2522.5 1248.9,2498.3 1249.2,2538.2 1249.8,2506.3 1251.4,2532.4 1252.7,2516.4 1254.1,2546.6 1254.9,2518.2 1255.2,2558.1 1255.8,2522.3 1257.3,2543.4 1258.4,2519.6 1259.8,2544.7 1260.9,2498.3 1261.2,2558.1 1261.8,2462.5 1263.3,2483.3 1264.9,2338.7 1265.2,2498.3 1265.8,2346.1 1266.6,2351.1 1268.1,2179.0 1268.4,2258.9 1269.0,2203.8 1270.0,2207.9 1270.8,2179.0 1271.1,2218.9 1271.7,2181.7 1272.5,2225.9 1273.8,2191.9 1274.8,2187.0 1275.1,2238.9 1275.7,2241.6 1276.5,2231.2 1278.0,2271.1 1278.8,2238.9 1279.1,2298.8 1279.7,2253.6 1281.0,2327.3 1282.8,2258.9 1283.1,2378.6 1283.7,2317.4 1285.1,2349.6 1285.8,2294.9 1286.8,2298.8 1287.1,2398.5 1287.7,2293.6 1288.8,2068.8 1290.0,1780.0 1290.3,2059.3 1290.9,1909.2 1291.8,1796.0 1292.8,1777.2 1293.1,1899.7 1293.7,1884.6 1294.4,1806.3 1295.2,1777.2 1295.5,1899.7 1296.1,1889.7 1297.3,1835.9 1298.0,1780.0 1298.3,2019.4 1298.9,1994.3 1300.0,1899.7 1300.3,2139.1 1300.9,2078.9 1301.9,2139.1 1302.2,2338.7 1302.8,2325.4 1303.8,2221.7 1304.7,2258.9 1305.0,2418.5 1305.6,2444.9 1306.5,2462.8 1307.1,2458.4 1307.4,2602.0 1308.0,2554.9 1309.5,2532.6 1310.3,2593.6 1311.9,2570.1 1312.2,2602.0 1312.8,2584.9 1313.6,2601.9 1314.6,2578.2 1315.9,2600.7 1317.9,2578.1 1318.2,2602.0 1318.8,2581.2 1320.3,2598.2 1321.3,2577.9 1322.9,2594.8 1323.9,2574.1 1324.2,2602.0 1324.8,2573.7 1326.0,2591.9 1327.6,2583.0 1328.4,2596.3 1329.9,2566.1 1330.2,2602.0 1330.8,2573.8 1332.4,2597.6 1333.1,2579.0 1334.0,2591.6 1335.0,2570.4 1335.9,2558.1 1336.2,2602.0 1336.8,2581.7 1338.3,2556.0 1339.7,2599.0 1340.8,2566.0 1341.9,2538.2 1342.2,2598.0 1342.8,2587.9 1344.0,2548.2 1345.3,2580.9 1346.1,2566.8 1346.9,2580.1 1347.8,2550.2 1348.1,2594.0 1348.7,2547.8 1349.5,2568.0 1350.9,2543.2 1351.8,2526.2 1352.1,2586.1 1352.7,2542.7 1354.3,2489.7 1355.2,2510.6 1355.8,2438.4 1356.1,2518.2 1356.7,2457.2 1358.0,2463.2 1359.1,2433.9 1359.8,2418.5 1360.1,2458.4 1360.7,2444.6 1362.2,2359.8 1363.8,2318.7 1364.1,2418.5 1364.7,2359.2 1365.5,2296.7 1367.0,2203.0 1367.3,2298.8 1367.9,2279.4 1369.0,2229.2 1369.8,2218.9 1370.1,2258.9 1370.7,2297.3 1371.5,2271.0 1372.6,2258.9 1372.9,2378.6 1373.5,2378.0 1374.9,2361.2 1375.8,2358.6 1376.1,2418.5 1376.7,2419.4 1377.4,2388.9 1379.0,2378.6 1379.3,2438.4 1379.9,2405.1 1380.6,2318.7 1381.8,2238.9 1382.1,2378.6 1382.7,2272.2 1384.5,1979.5 1384.8,2179.0 1385.4,1904.0 1386.2,1975.2 1387.0,1743.5 1387.7,1635.1 1388.0,1939.6 1388.6,1794.1 1389.6,1680.4 1390.9,1652.3 1391.2,1859.8 1391.8,1835.7 1392.9,1770.2 1393.7,1780.0 1394.0,1819.9 1394.6,1822.1 1395.5,1784.1 1396.5,1780.0 1396.8,1899.7 1397.4,1859.5 1399.0,1697.2 1399.7,1660.3 1400.0,1859.8 1400.6,1811.8 1401.7,1657.1 1402.0,1899.7 1402.6,1742.4 1403.7,1819.9 1404.0,1979.5 1404.6,2022.7 1405.3,2019.4 1405.6,2139.1 1406.2,2269.9 1406.9,2418.5 1407.2,2538.2 1407.8,2527.4 1408.9,2504.1 1409.7,2530.2 1410.0,2590.1 1410.6,2573.4 1412.1,2552.2 1413.3,2574.0 1414.2,2538.2 1415.7,2518.2 1416.0,2578.1 1416.6,2570.3 1417.9,2543.0 1418.9,2549.4 1420.0,2532.0 1421.7,2514.2 1422.0,2570.1 1422.6,2564.0 1423.6,2538.6 1424.3,2559.6 1425.4,2532.9 1426.7,2544.2 1427.6,2518.2 1427.9,2562.1 1428.5,2517.1 1429.3,2559.2 1430.4,2515.1 1431.6,2544.4 1432.4,2528.7 1433.6,2510.2 1433.9,2554.1 1434.5,2533.0 1435.6,2518.3 1436.7,2540.9 1438.1,2501.3 1439.6,2498.3 1439.9,2538.2 1440.5,2531.2 1442.0,2504.1 1442.7,2528.6 1444.0,2507.0 1444.8,2517.3 1445.6,2490.3 1445.9,2530.2 1446.5,2489.6 1447.6,2503.9 1449.2,2468.8 1450.7,2467.0 1451.6,2418.5 1451.9,2478.3 1452.5,2417.5 1453.2,2442.8 1454.5,2416.6 1455.6,2398.5 1455.9,2438.4 1456.5,2431.2 1458.0,2406.3 1458.7,2424.3 1459.6,2398.5 1459.9,2426.4 1460.5,2388.2 1462.1,2389.5 1462.8,2358.6 1463.1,2398.5 1463.7,2358.7 1464.7,2390.9 1466.1,2369.5 1466.8,2358.6 1467.1,2386.5 1467.7,2372.7 1468.5,2350.3 1469.2,2365.1 1470.7,2338.7 1471.0,2370.6 1471.6,2346.1 1472.5,2358.3 1473.3,2343.3 1474.0,2356.5 1474.7,2338.7 1475.0,2370.6 1475.6,2350.4 1477.1,2365.7 1478.7,2338.7 1479.0,2378.6 1479.6,2359.0 1481.5,2358.6 1481.8,2398.5 1482.4,2385.7 1483.2,2380.4 1484.1,2405.5 1485.5,2378.6 1485.8,2418.5 1486.4,2402.7 1487.2,2422.4 1488.3,2398.5 1488.6,2438.4 1489.2,2374.0 1490.3,2332.2 1491.5,2238.9 1491.8,2298.8 1492.4,2256.1 1493.4,2277.1 1494.7,2230.9 1495.0,2278.8 1495.6,2251.8 1497.1,2284.8 1498.7,2258.9 1499.0,2298.8 1499.6,2278.1 1500.8,2310.7 1502.0,2277.5 1502.7,2278.8 1503.0,2338.7 1503.6,2355.1 1504.4,2316.9 1505.5,2338.7 1505.8,2418.5 1506.4,2473.8 1507.5,2530.2 1507.8,2594.0 1508.4,2537.2 1509.7,2571.4 1511.0,2540.9 1512.2,2583.8 1513.4,2538.2 1513.7,2594.0 1514.3,2543.0 1515.8,2577.9 1517.4,2547.1 1518.3,2580.2 1519.4,2546.2 1519.7,2590.1 1520.3,2551.0 1521.5,2578.8 1523.0,2553.4 1524.3,2574.4 1525.4,2538.2 1525.7,2586.1 1526.3,2544.9 1527.0,2562.8 1528.4,2536.9 1529.2,2576.2 1530.5,2534.2 1531.4,2530.2 1531.7,2578.1 1532.3,2566.1 1533.0,2532.7 1534.0,2570.0 1534.7,2529.4 1535.6,2565.0 1536.7,2527.9 1537.4,2518.2 1537.7,2570.1 1538.3,2567.8 1539.7,2528.6 1540.9,2563.0 1541.8,2526.9 1543.4,2498.3 1543.7,2558.1 1544.3,2549.7 1545.7,2515.4 1546.5,2534.6 1547.7,2489.7 1548.7,2524.7 1549.4,2482.3 1549.7,2538.2 1550.3,2495.5 1551.5,2521.7 1552.3,2474.9 1553.7,2503.0 1555.3,2466.4 1555.6,2518.2 1556.2,2470.6 1557.6,2524.6 1558.6,2480.4 1560.1,2517.9 1561.3,2482.3 1561.6,2546.2 1562.2,2489.6 1563.8,2527.4 1565.0,2486.2 1565.9,2514.4 1566.7,2482.5 1567.3,2458.4 1567.6,2518.2 1568.2,2500.8 1569.2,2441.4 1570.4,2453.6 1571.3,2378.6 1571.6,2458.4 1572.2,2398.1 1573.1,2419.6 1574.5,2358.6 1574.8,2418.5 1575.4,2345.8 1576.2,2379.4 1577.3,2298.8 1577.6,2358.6 1578.2,2294.4 1580.1,2218.9 1580.4,2258.9 1581.0,2267.9 1581.9,2227.3 1583.3,2199.0 1583.6,2298.8 1584.2,2293.2 1584.9,2234.8 1586.2,2282.1 1587.3,2238.9 1587.6,2278.8 1588.2,2227.6 1589.4,2249.6 1590.5,2179.0 1590.8,2258.9 1591.4,2174.5 1592.4,2159.9 1593.2,2059.3 1593.5,2139.1 1594.1,2080.4 1595.2,2051.3 1595.5,2099.2 1596.1,2092.7 1597.3,2087.6 1598.4,2079.3 1598.7,2139.1 1599.3,2131.5 1601.2,2131.2 1601.5,2199.0 1602.1,2175.3 1603.0,2221.3 1604.0,2199.0 1604.3,2258.9 1604.9,2249.0 1606.4,2298.8 1606.7,2518.2 1607.3,2527.4 1608.0,2526.2 1608.3,2554.1 1608.9,2533.2 1610.0,2547.8 1611.4,2542.4 1613.2,2530.2 1613.5,2562.1 1614.1,2549.4 1615.0,2537.4 1616.2,2544.6 1617.3,2529.9 1618.0,2549.0 1619.2,2522.2 1619.5,2554.1 1620.1,2523.2 1620.9,2542.2 1621.6,2515.2 1622.7,2539.0 1623.9,2512.6 1625.2,2498.3 1625.5,2538.2 1626.1,2534.5 1626.8,2504.6 1628.4,2528.3 1629.4,2493.6 1631.2,2482.3 1631.5,2530.2 1632.1,2519.8 1633.5,2485.5 1634.3,2526.1 1635.3,2495.5 1636.4,2512.4 1637.1,2490.3 1637.4,2530.2 1638.0,2484.4 1639.6,2474.1 1641.1,2418.5 1641.4,2458.4 1642.0,2437.8 1643.0,2467.2 1645.1,2438.4 1645.4,2478.3 1646.0,2449.8 1647.2,2487.5 1649.1,2442.4 1649.4,2498.3 1650.0,2448.3 1651.3,2483.7 1652.8,2437.2 1653.8,2459.0 1655.1,2418.5 1655.4,2478.3 1656.0,2419.1 1657.1,2434.2 1657.9,2403.5 1659.1,2390.5 1659.4,2438.4 1660.0,2432.4 1661.1,2402.7 1662.4,2409.5 1663.1,2386.5 1663.4,2418.5 1664.0,2399.3 1665.0,2406.8 1666.1,2399.3 1667.1,2386.5 1667.4,2418.5 1668.0,2419.1 1668.8,2399.6 1669.5,2428.1 1671.1,2398.5 1671.4,2438.4 1672.0,2403.0 1673.4,2423.5 1675.1,2370.6 1675.4,2418.5 1676.0,2380.9 1676.7,2420.0 1678.3,2389.3 1679.0,2366.6 1679.3,2438.4 1679.9,2422.2 1681.4,2403.9 1683.0,2370.6 1683.3,2458.4 1683.9,2438.4 1685.4,2329.2 1686.3,2386.9 1687.0,2290.8 1687.3,2378.6 1687.9,2264.9 1689.0,2285.5 1689.9,2170.9 1691.0,2039.4 1691.3,2258.9 1691.9,2185.8 1693.4,2041.5 1695.0,1919.7 1695.3,2059.3 1695.9,1968.4 1696.7,1887.7 1697.8,1958.9 1699.0,1780.0 1699.3,1939.6 1699.9,1797.8 1700.7,1842.2 1702.2,1552.5 1702.5,1859.8 1703.1,1683.7 1704.2,1556.5 1704.5,1899.7 1705.4,2258.9 1705.7,2498.3 1706.3,2514.8 1707.0,2498.3 1707.3,2538.2 1707.9,2516.6 1709.3,2558.0 1710.2,2548.6 1711.0,2538.2 1711.3,2578.1 1711.9,2567.8 1712.6,2554.6 1713.7,2564.5 1714.6,2559.8 1715.5,2577.5 1716.3,2553.3 1717.0,2554.1 1717.3,2578.1 1717.9,2567.0 1718.9,2560.6 1719.6,2570.8 1720.8,2552.6 1722.0,2569.9 1722.9,2550.2 1723.2,2574.1 1723.8,2555.9 1725.2,2566.7 1726.0,2538.8 1726.9,2555.2 1728.9,2526.2 1729.2,2558.1 1729.8,2527.6 1731.3,2531.6 1732.9,2458.4 1733.2,2518.2 1733.8,2477.9 1734.9,2486.7 1736.2,2463.8 1736.9,2462.4 1737.2,2498.3 1737.8,2494.4 1739.1,2469.7 1740.9,2458.4 1741.2,2490.3 1741.8,2464.8 1742.5,2394.3 1743.4,2404.5 1744.9,2199.0 1745.2,2378.6 1745.8,2168.8 1747.7,2079.3 1748.0,2218.9 1748.6,2127.5 1749.8,2032.8 1750.9,1947.6 1751.2,2099.2 1751.8,2026.6 1753.0,1950.1 1753.7,1911.7 1754.0,1979.5 1754.6,2005.0 1756.1,1939.6 1756.4,2059.3 1757.0,2000.5 1757.7,2101.1 1758.9,2019.4 1759.2,2139.1 1759.8,2084.8 1760.9,2172.2 1762.0,2099.2 1762.3,2218.9 1762.9,2156.2 1763.9,2240.2 1764.8,2179.0 1765.1,2298.8 1765.7,2219.9 1766.8,2302.7 1768.8,2278.8 1769.1,2358.6 1769.7,2306.2 1770.6,2346.5 1771.6,2309.5 1772.8,2298.8 1773.1,2378.6 1773.7,2377.9 1774.9,2318.9 1776.1,2355.2 1776.8,2318.7 1777.1,2378.6 1777.7,2331.5 1778.7,2370.2 1780.0,2298.5 1780.3,2378.3 1780.9,2320.7 1781.8,2356.8 1782.9,2321.1 1783.8,2361.2 1786.0,2318.5 1786.3,2398.3 1786.9,2355.2 1787.8,2401.8 1789.0,2329.7 1790.5,2389.1 1791.9,2338.4 1792.2,2418.2 1792.8,2359.7 1794.2,2433.8 1795.2,2388.6 1795.9,2358.4 1796.2,2458.1 1796.8,2428.5 1797.6,2367.3 1798.5,2443.8 1799.9,2358.4 1800.2,2438.2 1800.8,2385.8 1802.4,2448.8 1803.9,2378.3 1804.2,2498.0 1804.8,2455.9 1805.9,2506.0 1806.2,2569.8 1806.8,2562.8 1807.9,2534.0 1809.1,2573.9 1810.1,2512.1 1811.9,2506.0 1812.2,2577.8 1812.8,2560.9 1813.9,2535.4 1815.3,2572.8 1816.0,2527.7 1817.3,2554.2 1817.9,2506.0 1818.2,2573.8 1818.8,2507.6 1819.9,2547.1 1821.1,2509.4 1821.9,2544.1 1823.1,2513.7 1823.8,2510.0 1824.1,2565.8 1824.7,2542.0 1826.2,2524.6 1827.7,2561.1 1828.8,2527.0 1829.8,2506.0 1830.1,2561.8 1830.7,2557.4 1832.2,2517.7 1832.9,2557.9 1834.1,2520.6 1835.8,2486.0 1836.1,2557.8 1836.7,2530.1 1837.5,2505.8 1838.4,2548.8 1839.2,2503.3 1839.9,2539.3 1841.8,2490.0 1842.1,2561.8 1842.7,2508.9 1844.1,2534.8 1845.6,2463.4 1847.1,2487.4 1847.8,2418.2 1848.1,2498.0 1848.7,2434.5 1849.5,2445.2 1850.7,2421.2 1851.8,2378.3 1852.1,2458.1 1852.7,2418.8 1854.6,2258.7 1854.9,2378.3 1855.5,2255.5 1856.6,2284.9 1857.8,2099.1 1858.1,2258.7 1858.7,2127.9 1859.6,2202.3 1860.9,2019.3 1861.2,2178.9 1861.8,2075.6 1862.6,2162.3 1863.7,2059.2 1864.0,2178.9 1864.6,2136.3 1866.5,2258.7 1866.8,2338.4 1867.4,2345.1 1868.2,2315.6 1869.7,2338.4 1870.0,2398.3 1870.6,2381.1 1871.4,2364.2 1872.6,2397.3 1874.5,2358.4 1874.8,2418.2 1875.4,2373.2 1876.3,2404.1 1877.1,2368.1 1878.5,2414.5 1879.7,2358.4 1880.0,2438.2 1880.6,2382.2 1881.7,2431.1 1882.9,2343.3 1883.7,2338.4 1884.0,2458.1 1884.6,2456.1 1886.2,2394.7 1887.7,2358.4 1888.0,2458.1 1888.6,2451.0 1890.0,2371.1 1891.7,2358.4 1892.0,2458.1 1892.6,2436.6 1893.8,2406.0 1894.7,2445.7 1895.6,2378.3 1895.9,2498.0 1896.5,2420.6 1898.0,2494.7 1899.6,2378.3 1899.9,2517.9 1900.5,2409.3 1901.3,2474.5 1902.6,2435.6 1903.6,2418.2 1903.9,2537.9 1904.5,2495.7 1905.3,2452.2 1906.6,2523.0 1907.6,2458.1 1907.9,2549.8 1908.5,2472.4 1909.4,2521.1 1910.4,2501.4 1911.6,2478.0 1911.9,2537.9 1912.5,2510.7 1913.4,2491.0 1914.2,2523.8 1915.6,2478.0 1915.9,2529.9 1916.5,2493.6 1918.1,2519.6 1919.6,2498.0 1919.9,2537.9 1920.5,2502.8 1922.0,2533.7 1923.5,2511.3 1924.2,2517.2 1925.6,2498.0 1925.9,2529.9 1926.5,2495.7 1927.5,2511.4 1928.7,2487.5 1929.6,2458.1 1929.9,2517.9 1930.5,2494.3 1931.2,2444.7 1932.4,2448.5 1933.5,2358.4 1933.8,2458.1 1934.4,2348.1 1936.0,2395.4 1937.5,2298.5 1937.8,2378.3 1938.4,2327.0 1939.3,2340.4 1940.0,2302.9 1941.5,2278.6 1941.8,2338.4 1942.4,2342.9 1943.8,2321.1 1945.5,2298.5 1945.8,2378.3 1946.4,2330.3 1948.0,2266.7 1949.5,2198.8 1949.8,2298.5 1950.4,2246.4 1951.8,2183.7 1953.5,2119.1 1953.8,2238.7 1954.4,2212.7 1955.4,2111.1 1956.7,2079.2 1957.0,2178.9 1957.6,2139.6 1958.5,2117.8 1959.5,2079.2 1959.8,2158.9 1960.4,2176.0 1961.4,2122.5 1962.3,2139.0 1962.6,2218.8 1963.2,2217.1 1964.2,2194.0 1965.5,2178.9 1965.8,2258.7 1966.4,2245.0 1967.4,2215.4 1969.4,2218.8 1969.7,2298.5 1970.3,2288.6 1971.5,2236.0 1972.3,2293.3 1973.4,2218.8 1973.7,2298.5 1974.3,2235.3 1975.4,2283.4 1976.6,2162.9 1976.9,2278.6 1977.5,2112.6 1979.4,1979.4 1979.7,2178.9 1980.3,2098.2 1981.6,1863.4 1982.2,1819.9 1982.5,1939.6 1983.1,1903.8 1984.6,1807.1 1984.9,1899.7 1985.5,1856.8 1986.6,1964.1 1987.4,1899.7 1987.7,2019.3 1988.3,1966.2 1990.2,2059.2 1990.5,2178.9 1991.1,2186.0 1991.9,2128.9 1993.4,2139.0 1993.7,2238.7 1994.3,2221.3 1995.0,2199.4 1996.0,2242.4 1997.4,2218.8 1997.7,2298.5 1998.3,2243.3 1999.2,2298.2 2000.2,2271.1 2001.4,2258.7 2001.7,2338.4 2002.3,2359.4 2003.2,2375.3 2004.4,2470.6 2005.3,2478.0 2005.6,2537.9 2006.2,2491.8 2007.0,2535.1 2007.8,2489.9 2008.7,2523.1 2009.3,2490.0 2009.6,2537.9 2010.2,2505.8 2011.1,2527.2 2012.0,2479.4 2013.3,2512.0 2014.2,2486.1 2015.3,2458.1 2015.6,2521.9 2016.2,2509.1 2017.5,2476.5 2018.6,2517.2 2019.6,2484.1 2020.6,2501.1 2021.3,2458.1 2021.6,2517.9 2022.2,2475.9 2023.7,2499.9 2024.7,2460.5 2025.6,2497.8 2026.4,2459.4 2027.3,2438.2 2027.6,2498.0 2028.2,2472.2 2029.8,2461.7 2031.3,2475.4 2032.0,2441.6 2033.3,2438.2 2033.6,2498.0 2034.2,2472.6 2035.4,2448.9 2036.5,2481.0 2037.3,2441.3 2038.3,2487.5 2039.2,2418.2 2039.5,2490.0 2040.1,2434.1 2041.6,2475.3 2042.9,2415.7 2044.3,2472.5 2045.2,2398.3 2045.5,2478.0 2046.1,2413.7 2047.1,2465.7 2048.3,2401.9 2049.2,2378.3 2049.5,2458.1 2050.1,2439.2 2051.0,2361.0 2052.4,2408.5 2054.0,2298.5 2054.3,2398.3 2054.9,2281.9 2055.7,2327.5 2056.8,2246.6 2058.0,2218.8 2058.3,2298.5 2058.9,2232.8 2059.9,2153.5 2061.2,2059.2 2061.5,2218.8 2062.1,2151.3 2062.8,2073.8 2064.4,1979.4 2064.7,2099.1 2065.3,2042.8 2066.2,1922.3 2067.2,1879.7 2067.5,1979.4 2068.1,1932.7 2069.1,1895.2 2070.0,1871.7 2070.3,1939.6 2070.9,1976.1 2071.6,1944.0 2072.4,2027.3 2073.2,1939.6 2073.5,2099.1 2074.1,1968.0 2074.9,2092.1 2076.1,2087.2 2077.1,2059.2 2077.4,2178.9 2078.0,2161.9 2078.7,2135.9 2079.9,2170.7 2081.1,2139.0 2081.4,2218.8 2082.0,2155.5 2083.2,2180.6 2084.2,2095.3 2085.1,2079.2 2085.4,2158.9 2086.0,2147.1 2087.4,2086.6 2089.1,2083.2 2089.4,2139.0 2090.0,2117.5 2091.4,2091.4 2092.3,2059.2 2092.6,2119.1 2093.2,2079.4 2094.3,2033.0 2095.1,1979.4 2095.4,2059.2 2096.0,2022.0 2097.2,1977.1 2097.9,1967.5 2098.2,2019.3 2098.8,2024.6 2100.3,2036.4 2101.1,2039.3 2101.4,2139.0 2102.0,2137.1 2103.4,2135.6 2104.3,2099.1 2104.6,2258.7 2105.2,2415.5 2105.9,2378.3 2106.2,2597.7 2106.8,2474.7 2107.9,2552.5 2109.1,2537.9 2109.4,2597.7 2110.0,2538.2 2111.1,2588.7 2112.5,2539.8 2114.0,2576.7 2115.0,2537.9 2115.3,2577.8 2115.9,2550.2 2117.2,2567.4 2118.5,2543.2 2120.0,2562.0 2121.0,2529.9 2121.3,2569.8 2121.9,2529.2 2123.0,2541.7 2123.8,2516.0 2125.8,2478.0 2126.1,2537.9 2126.7,2506.1 2127.9,2461.4 2129.0,2438.2 2129.3,2498.0 2129.9,2499.4 2131.1,2475.8 2132.6,2509.2 2133.8,2478.0 2134.1,2517.9 2134.7,2492.5 2135.8,2502.5 2136.7,2484.1 2137.8,2504.9 2139.0,2478.0 2139.3,2517.9 2139.9,2458.3 2141.4,2468.8 2143.0,2358.4 2143.3,2458.1 2143.9,2313.6 2145.0,2303.7 2146.0,2202.5 2146.9,2115.1 2147.2,2218.8 2147.8,2205.4 2149.7,2115.1 2150.0,2178.9 2150.6,2130.7 2151.8,2173.0 2152.9,2139.0 2153.2,2218.8 2153.8,2152.5 2154.7,2235.5 2156.1,2178.9 2156.4,2258.7 2157.0,2211.0 2157.7,2273.3 2158.9,2227.0 2160.1,2238.7 2160.4,2318.5 2161.0,2295.0 2162.1,2271.2 2163.3,2342.1 2164.9,2298.5 2165.2,2358.4 2165.8,2299.3 2166.6,2316.5 2167.5,2270.1 2168.9,2218.8 2169.2,2298.5 2169.8,2265.9 2171.0,2225.3 2171.9,2273.3 2172.9,2218.8 2173.2,2298.5 2173.8,2217.6 2174.8,2276.7 2176.1,2206.8 2176.4,2278.6 2177.0,2247.4 2178.2,2284.7 2180.1,2258.7 2180.4,2338.4 2181.0,2269.1 2182.2,2332.4 2183.3,2281.0 2184.8,2258.7 2185.1,2358.4 2185.7,2351.1 2187.2,2275.0 2188.2,2325.6 2189.6,2278.6 2189.9,2358.4 2190.5,2291.8 2192.1,2357.0 2193.6,2278.6 2193.9,2358.4 2194.5,2299.3 2195.2,2355.4 2196.1,2342.5 2196.8,2401.3 2197.6,2338.4 2197.9,2418.2 2198.5,2352.5 2199.6,2420.4 2200.8,2378.3 2201.1,2438.2 2201.7,2415.1 2203.3,2485.1 2204.1,2493.0 2204.8,2478.0 2205.1,2557.8 2205.7,2542.0 2206.9,2494.5 2207.8,2565.2 2208.8,2498.0 2209.1,2577.8 2209.7,2519.7 2210.7,2548.6 2211.9,2526.1 2212.6,2544.2 2213.8,2518.8 2214.8,2498.0 2215.1,2569.8 2215.7,2546.5 2216.7,2520.5 2217.9,2561.3 2218.9,2520.4 2219.6,2544.7 2220.7,2498.0 2221.0,2561.8 2221.6,2518.3 2222.6,2547.1 2223.8,2518.8 2224.5,2545.2 2225.4,2514.1 2226.7,2498.0 2227.0,2557.8 2227.6,2551.2 2228.5,2521.1 2229.5,2531.8 2230.9,2504.6 2232.7,2498.0 2233.0,2549.8 2233.6,2547.8 2235.2,2507.8 2235.9,2531.3 2237.1,2504.9 2238.0,2517.9 2238.7,2486.0 2239.0,2537.9 2239.6,2489.5 2241.0,2519.1 2242.0,2507.1 2243.5,2521.1 2244.7,2498.0 2245.0,2537.9 2245.6,2511.8 2246.5,2521.1 2247.8,2502.2 2249.3,2517.2 2250.7,2490.0 2251.0,2529.9 2251.6,2506.9 2252.8,2516.2 2254.1,2495.3 2255.2,2520.1 2256.6,2486.0 2256.9,2529.9 2257.5,2490.3 2259.0,2513.9 2260.3,2497.7 2261.5,2521.7 2262.6,2478.0 2262.9,2537.9 2263.5,2475.2 2264.6,2507.4 2265.5,2482.3 2266.3,2525.3 2267.7,2462.1 2268.6,2458.1 2268.9,2529.9 2269.5,2502.7 2271.0,2459.2 2272.5,2513.5 2273.6,2477.8 2274.6,2438.2 2274.9,2525.9 2275.5,2498.2 2276.3,2438.3 2277.2,2518.4 2278.7,2447.4 2280.6,2438.2 2280.9,2517.9 2281.5,2494.9 2282.3,2468.1 2283.3,2502.6 2284.1,2476.2 2285.5,2503.8 2286.6,2458.1 2286.9,2521.9 2287.5,2466.8 2288.3,2511.3 2289.6,2470.7 2290.4,2512.1 2291.6,2451.8 2292.5,2450.1 2292.8,2517.9 2293.4,2503.4 2294.3,2474.7 2295.1,2492.3 2296.5,2452.6 2297.7,2481.2 2298.5,2438.2 2298.8,2513.9 2299.4,2449.4 2301.0,2501.0 2302.6,2439.8" fill="none" stroke="#ff4040" stroke-width="3.6" stroke-linejoin="round"/>
<polyline points="306.0,2542.2 307.3,2542.2 308.6,2542.2 310.0,2542.2 311.3,2542.2 312.6,2542.2 314.0,2542.2 315.3,2542.2 316.6,2542.2 318.0,2542.2 319.3,2542.2 320.6,2542.2 321.9,2542.2 323.3,2542.2 324.6,2542.2 325.9,2542.2 327.3,2542.2 328.6,2542.2 329.9,2542.2 331.3,2542.2 332.6,2542.2 333.9,2542.2 335.2,2538.2 336.6,2534.2 337.9,2530.2 339.2,2528.9 340.6,2527.5 341.9,2526.2 343.6,2528.2 345.4,2530.2 347.1,2532.2 348.4,2532.9 349.7,2533.5 351.1,2534.2 352.5,2511.2 353.9,2488.3 355.3,2493.2 356.7,2498.3 358.3,2504.3 359.9,2510.2 361.5,2500.3 363.0,2490.3 364.4,2473.9 365.8,2458.4 367.2,2454.9 368.5,2450.0 369.8,2446.4 371.2,2439.5 372.6,2434.4 375.0,2458.4 376.4,2474.2 377.8,2490.3 379.1,2495.7 380.5,2500.9 381.8,2506.3 383.1,2510.2 384.5,2514.2 385.8,2518.2 387.1,2519.6 388.5,2520.9 389.8,2522.2 391.2,2522.2 392.6,2522.2 394.2,2346.6 396.6,2330.7 399.0,2199.0 400.6,2107.2 402.2,2139.1 403.8,2378.6 405.7,2458.4 407.7,2538.2 409.1,2538.2 410.4,2538.2 411.7,2538.2 413.1,2538.2 414.4,2538.2 415.7,2538.2 417.1,2538.2 418.4,2538.2 419.7,2538.2 421.0,2538.2 422.4,2538.2 423.7,2538.2 425.0,2537.5 426.4,2536.9 427.7,2536.2 429.0,2534.9 430.4,2533.5 431.7,2532.2 433.2,2532.2 434.7,2532.2 436.2,2532.2 437.7,2532.2 439.2,2531.7 440.7,2531.2 442.2,2530.7 443.7,2530.2 445.0,2527.5 446.3,2524.9 447.6,2522.2 449.1,2522.2 450.6,2522.2 452.1,2522.2 453.6,2522.2 455.0,2524.9 456.3,2527.5 457.6,2530.2 459.6,2498.3 460.9,2494.3 462.3,2490.2 463.6,2486.3 465.1,2486.5 466.6,2486.2 468.1,2486.5 469.6,2486.3 470.9,2485.2 472.3,2483.9 473.6,2482.3 474.9,2479.3 476.2,2477.5 477.6,2474.3 478.9,2474.6 480.2,2474.5 481.6,2474.3 483.0,2466.6 484.4,2458.4 486.0,2119.2 487.5,2298.8 489.5,2454.4 490.9,2457.5 492.2,2463.0 493.5,2466.4 494.9,2474.4 496.2,2482.3 497.5,2490.3 498.9,2496.9 500.2,2503.6 501.5,2510.2 502.8,2515.6 504.2,2520.9 505.5,2526.2 506.8,2530.2 508.2,2534.2 509.5,2538.2 510.9,2538.2 512.3,2538.2 513.6,2538.2 515.0,2538.2 516.4,2538.2 517.8,2538.2 519.2,2538.2 520.5,2538.2 521.9,2538.2 523.3,2538.2 524.7,2538.2 526.1,2538.2 527.5,2538.2 528.8,2536.9 530.1,2535.5 531.4,2534.2 532.8,2532.9 534.1,2531.5 535.4,2530.2 536.9,2529.2 538.4,2528.2 539.9,2527.2 541.4,2526.2 542.9,2527.2 544.4,2528.2 545.9,2529.2 547.4,2530.2 548.7,2530.9 550.1,2531.5 551.4,2532.2 552.7,2532.9 554.1,2533.5 555.4,2534.2 556.9,2535.2 558.4,2536.2 559.9,2537.2 561.4,2538.2 562.8,2538.2 564.2,2538.2 566.6,2434.4 568.0,2429.4 569.4,2426.4 570.7,2430.0 572.0,2434.0 573.3,2438.4 574.7,2446.3 576.0,2452.2 577.3,2458.4 578.7,2482.0 580.1,2506.3 580.5,2132.6 583.2,2278.8 584.9,2015.4 585.7,2155.3 587.6,2297.5 589.3,2258.9 590.7,2300.2 592.1,2350.6 593.3,2373.8 595.3,2458.7 598.1,2390.9 600.0,2443.9 602.4,2357.2 604.1,2453.9 607.3,2538.2 608.6,2538.2 609.9,2538.3 611.2,2538.4 612.5,2538.5 613.8,2538.5 615.1,2538.6 616.4,2538.7 617.7,2538.7 619.0,2538.8 620.3,2538.9 621.6,2538.9 622.9,2539.0 624.3,2539.1 625.6,2539.1 626.9,2539.2 628.2,2539.3 629.5,2539.3 630.8,2539.4 632.1,2539.5 633.4,2539.6 634.7,2539.6 636.0,2539.7 637.3,2539.8 638.6,2539.8 639.9,2539.9 641.2,2540.0 642.6,2540.0 643.9,2540.1 645.2,2540.2 646.6,2519.2 648.0,2498.3 649.6,2469.0 651.2,2438.4 652.5,2418.7 653.8,2399.8 655.1,2378.6 656.5,2374.2 657.1,2379.9 657.8,2364.3 659.1,2358.6 659.5,2424.1 661.4,2371.5 663.5,2419.5 666.4,2365.9 669.4,2421.8 672.2,2369.6 674.6,2419.2 676.3,2385.5 679.0,2421.3 681.7,2376.4 683.9,1932.8 685.5,1867.8 686.0,2421.6 687.1,1899.7 688.5,2108.2 691.3,2369.8 693.4,2113.5 695.2,2416.4 697.8,2026.4 701.4,2258.9 703.8,1995.5 705.4,2059.3 707.0,2538.2 709.0,2546.2 710.5,2546.2 712.0,2546.2 713.5,2546.2 715.0,2546.2 716.3,2536.9 717.7,2527.5 719.0,2484.3 721.2,2527.1 722.2,2482.3 722.8,2484.3 724.6,2524.9 726.8,2493.3 728.8,2520.1 731.1,2503.5 732.9,2522.9 735.2,2490.3 738.0,2527.2 740.9,2490.0 742.9,2521.4 745.1,2499.6 746.4,2489.2 747.7,2478.3 749.3,2447.6 750.9,2418.5 752.5,2367.2 754.1,2314.7 754.9,2333.1 756.6,2417.2 758.7,2322.1 761.3,2435.4 763.3,2335.9 766.1,2443.8 768.3,2376.6 770.4,2441.0 772.2,2357.5 773.3,2155.3 775.4,2359.1 776.1,2095.2 778.1,2156.7 778.9,2466.4 780.3,2467.3 781.8,2467.7 783.3,2468.7 784.8,2470.3 786.3,2471.7 787.8,2472.6 789.3,2472.9 790.8,2474.3 792.3,2477.3 793.8,2480.4 795.3,2483.7 796.8,2486.3 798.4,2492.2 800.0,2498.3 802.0,2506.3 803.6,2522.2 805.2,2538.2 806.0,2544.2 807.3,2544.3 808.6,2544.4 810.0,2544.5 811.3,2544.6 812.6,2544.7 813.9,2544.8 815.3,2544.9 816.6,2545.1 817.9,2545.2 819.3,2545.3 820.6,2545.4 821.9,2545.5 823.3,2545.6 824.6,2545.7 825.9,2545.8 827.2,2545.9 828.6,2546.1 829.9,2546.2 831.3,2546.2 832.7,2546.2 834.0,2546.2 835.4,2546.2 836.8,2546.2 838.2,2546.2 839.6,2546.2 841.0,2546.2 842.3,2546.2 843.7,2546.2 845.1,2546.2 846.5,2546.2 847.9,2546.2 849.2,2540.8 850.5,2535.5 851.9,2530.2 853.2,2529.5 854.5,2528.9 855.8,2528.2 857.6,2528.9 859.3,2529.5 861.0,2530.2 862.4,2504.3 863.8,2478.3 865.8,2398.5 867.4,2370.9 869.0,2239.4 871.0,2199.0 871.6,2436.4 873.5,2302.5 876.1,2389.9 877.8,2378.6 879.4,2407.8 881.0,2424.0 882.9,2512.0 885.4,2435.9 887.3,2495.1 889.1,2431.5 891.4,2434.2 893.0,2410.5 894.3,2417.7 895.6,2426.6 896.9,2434.4 898.3,2453.4 899.6,2472.0 900.9,2490.3 902.5,2503.6 904.1,2516.9 905.7,2530.2 907.2,2530.2 908.7,2530.2 910.2,2530.2 911.7,2530.2 913.2,2530.2 914.7,2530.2 916.2,2530.2 917.7,2530.2 919.0,2523.5 920.4,2516.9 921.7,2510.2 923.0,2504.9 924.3,2499.6 925.7,2494.3 927.0,2500.9 928.3,2507.6 929.7,2514.2 931.0,2516.9 932.3,2519.6 933.7,2522.2 935.2,2523.2 936.6,2524.2 938.1,2525.2 939.6,2526.2 941.0,2526.2 942.3,2526.2 943.6,2526.2 945.0,2526.2 946.3,2526.2 947.6,2526.2 949.1,2527.2 950.6,2528.2 952.1,2529.2 953.6,2530.2 955.6,2530.2 957.6,2326.3 959.6,2367.4 961.4,2325.5 961.6,2310.7 963.9,2375.8 966.2,2345.5 967.6,2358.6 968.9,2380.3 970.2,2397.3 971.6,2418.5 972.9,2431.3 974.2,2444.8 975.6,2458.4 977.3,2471.5 979.0,2485.3 980.7,2498.3 982.1,2500.9 983.4,2503.6 984.7,2506.3 986.1,2472.1 987.5,2438.4 989.5,2386.5 991.5,2370.6 992.9,2380.5 994.3,2386.5 995.9,2404.9 997.5,2426.4 998.8,2435.0 1000.2,2441.1 1001.5,2450.4 1002.8,2425.3 1004.2,2400.4 1005.5,2378.6 1007.5,2538.2 1009.5,2490.3 1011.1,2474.7 1012.7,2458.4 1014.1,2439.4 1015.5,2422.5 1016.9,2423.4 1018.3,2426.4 1019.8,2453.4 1021.4,2482.3 1022.9,2491.2 1024.4,2500.3 1025.9,2509.2 1027.4,2518.2 1028.9,2521.2 1030.4,2524.2 1031.9,2527.2 1033.4,2530.2 1034.9,2532.2 1036.4,2534.2 1037.9,2536.2 1039.4,2538.2 1040.7,2536.9 1042.1,2535.5 1043.4,2534.2 1045.1,2530.2 1046.9,2526.2 1048.6,2522.2 1050.2,2520.9 1051.8,2519.6 1053.4,2518.2 1054.7,2498.3 1056.0,2478.6 1057.4,2458.4 1058.7,2457.2 1060.0,2456.7 1061.3,2454.4 1062.7,2454.7 1064.0,2456.1 1065.3,2458.4 1066.7,2444.1 1068.0,2430.2 1069.3,2418.5 1070.9,2419.3 1072.5,2419.0 1074.1,2418.5 1075.7,2370.6 1076.9,2179.0 1077.7,2370.6 1078.5,2139.1 1079.3,2378.6 1080.1,2119.2 1080.9,2358.6 1081.7,2159.1 1082.5,2370.6 1083.3,2218.9 1084.1,2378.6 1085.3,2298.8 1086.5,2139.1 1087.7,1803.9 1089.3,1803.9 1090.5,1939.6 1091.7,2019.4 1092.9,2298.8 1094.1,2111.2 1094.9,2346.6 1095.7,2139.1 1096.5,2338.7 1097.3,2179.0 1098.1,2338.7 1099.3,2318.7 1101.3,2438.4 1102.6,2469.8 1103.9,2502.3 1105.2,2534.2 1106.6,2534.2 1107.9,2534.2 1109.2,2534.2 1110.6,2534.2 1111.9,2534.2 1113.2,2534.2 1114.6,2534.2 1115.9,2534.2 1117.2,2534.2 1118.5,2534.2 1119.9,2534.2 1121.2,2534.2 1122.8,2536.2 1124.4,2538.2 1125.8,2514.2 1127.2,2490.3 1128.5,2484.8 1129.9,2479.4 1131.2,2474.3 1132.5,2479.3 1133.8,2484.9 1135.2,2490.3 1136.5,2494.3 1137.8,2498.3 1139.2,2502.3 1140.7,2504.3 1142.2,2506.3 1143.7,2508.3 1145.1,2510.2 1146.6,2510.2 1148.1,2510.2 1149.6,2510.2 1151.1,2510.2 1152.6,2508.3 1154.1,2506.3 1155.6,2504.3 1157.1,2502.3 1158.6,2504.3 1160.1,2506.3 1161.6,2508.3 1163.1,2510.2 1164.6,2512.2 1166.1,2514.2 1167.6,2516.2 1169.1,2518.2 1170.6,2521.2 1172.1,2524.2 1173.6,2527.2 1175.1,2530.2 1176.6,2532.7 1178.1,2535.2 1179.6,2537.7 1181.1,2540.2 1182.4,2540.8 1183.7,2541.5 1185.1,2542.2 1186.4,2542.8 1187.7,2543.5 1189.0,2544.2 1190.4,2542.2 1191.7,2540.2 1193.0,2538.2 1194.4,2498.3 1195.7,2458.2 1197.0,2418.5 1199.0,2334.7 1201.0,2318.7 1202.6,2332.6 1204.2,2338.7 1205.6,2443.7 1207.0,2546.2 1208.5,2546.2 1210.0,2546.2 1211.5,2546.2 1213.0,2546.2 1214.3,2546.8 1215.6,2547.5 1217.0,2548.2 1218.3,2548.8 1219.6,2549.5 1221.0,2550.2 1222.3,2550.2 1223.6,2550.2 1225.0,2550.2 1226.3,2550.2 1227.6,2550.2 1228.9,2550.2 1230.5,2548.8 1232.1,2547.5 1233.7,2546.2 1235.3,2522.2 1236.9,2498.3 1238.5,2474.8 1240.1,2450.4 1241.5,2454.4 1242.9,2458.4 1244.3,2478.1 1245.7,2498.3 1247.3,2508.3 1248.9,2518.2 1250.2,2522.2 1251.6,2526.2 1252.9,2530.2 1254.2,2532.9 1255.5,2535.5 1256.9,2538.2 1258.2,2539.5 1259.5,2540.8 1260.9,2542.2 1262.2,2534.2 1263.5,2526.2 1264.9,2518.2 1266.5,2494.3 1268.1,2470.3 1269.4,2461.2 1270.8,2450.4 1272.2,2452.1 1273.5,2456.3 1274.8,2458.4 1276.2,2464.4 1277.5,2471.4 1278.8,2478.3 1280.2,2484.7 1281.5,2491.8 1282.8,2498.3 1284.8,2418.5 1286.8,2071.3 1288.8,1839.9 1287.2,2075.3 1288.0,1843.8 1289.2,2298.8 1290.4,1859.8 1291.6,2338.7 1292.8,2059.3 1294.0,2318.7 1295.2,1807.9 1296.4,2258.9 1297.6,1819.9 1298.8,2298.8 1300.0,2099.2 1301.1,2338.7 1302.3,2179.0 1303.1,2378.6 1303.9,2438.4 1305.9,2498.3 1307.3,2508.9 1308.6,2519.6 1309.9,2530.2 1311.4,2533.2 1312.9,2536.2 1314.4,2539.2 1315.9,2542.2 1317.4,2544.2 1318.9,2546.2 1320.4,2548.2 1321.9,2550.2 1323.6,2551.5 1325.4,2552.8 1327.1,2554.1 1328.7,2551.5 1330.3,2548.8 1331.9,2546.2 1333.4,2544.7 1334.9,2543.2 1336.4,2541.7 1337.9,2540.2 1339.6,2540.8 1341.3,2541.5 1343.0,2542.2 1344.6,2543.5 1346.2,2544.8 1347.8,2546.2 1349.3,2548.2 1350.8,2550.2 1352.3,2552.1 1353.8,2554.1 1355.3,2554.1 1356.8,2554.1 1358.3,2554.1 1359.8,2554.1 1361.3,2552.1 1362.8,2550.2 1364.3,2548.2 1365.8,2546.2 1367.1,2540.8 1368.5,2535.5 1369.8,2530.2 1371.2,2514.2 1372.6,2498.3 1375.0,2458.4 1376.4,2454.9 1377.8,2450.4 1379.2,2463.7 1380.6,2478.3 1383.0,2378.6 1384.5,2218.9 1386.1,1971.2 1386.9,1879.8 1388.5,2123.7 1388.5,1782.0 1390.9,1859.8 1391.2,1956.7 1392.3,1834.5 1393.1,2139.3 1393.7,1800.0 1395.9,1956.1 1398.5,2146.4 1399.1,1853.9 1400.5,1736.1 1402.1,1859.8 1404.5,2179.0 1406.1,2522.2 1407.5,2522.5 1408.8,2522.8 1410.2,2523.1 1411.6,2523.4 1412.9,2523.6 1414.3,2523.9 1415.7,2524.2 1417.0,2524.2 1418.3,2524.2 1419.7,2524.2 1421.0,2524.2 1422.3,2524.2 1423.7,2524.2 1425.0,2524.5 1426.3,2524.9 1427.6,2525.2 1429.0,2525.5 1430.3,2525.9 1431.6,2526.2 1433.0,2526.2 1434.3,2526.2 1435.6,2526.2 1437.0,2526.2 1438.3,2526.2 1439.6,2526.2 1440.9,2526.2 1442.3,2526.2 1443.6,2526.2 1444.9,2526.2 1446.3,2526.2 1447.6,2526.2 1449.1,2525.2 1450.6,2524.2 1452.1,2523.2 1453.6,2522.2 1454.9,2516.9 1456.2,2511.6 1457.6,2506.3 1459.1,2503.3 1460.6,2500.3 1462.1,2497.3 1463.6,2494.3 1465.1,2492.4 1466.6,2490.3 1468.0,2488.1 1469.5,2486.3 1470.9,2485.3 1472.2,2483.9 1473.5,2482.3 1474.9,2486.4 1476.2,2490.4 1477.5,2494.3 1478.9,2499.6 1480.2,2504.9 1481.5,2510.2 1482.8,2514.2 1484.2,2518.2 1485.5,2522.2 1486.9,2526.2 1488.3,2530.2 1489.9,2494.2 1491.5,2458.4 1493.1,2454.8 1494.7,2450.4 1496.1,2454.5 1497.5,2458.4 1498.9,2468.2 1500.3,2478.3 1501.9,2488.1 1503.5,2498.3 1505.5,2530.2 1507.0,2529.7 1508.5,2529.2 1509.9,2528.7 1511.4,2528.2 1512.8,2527.9 1514.1,2527.5 1515.4,2527.2 1516.8,2526.9 1518.1,2526.5 1519.4,2526.2 1520.8,2526.9 1522.1,2527.5 1523.4,2528.2 1524.7,2528.9 1526.1,2529.5 1527.4,2530.2 1528.7,2530.9 1530.1,2531.5 1531.4,2532.2 1532.7,2532.9 1534.1,2533.5 1535.4,2534.2 1536.7,2533.9 1538.0,2533.5 1539.4,2533.2 1540.7,2532.9 1542.0,2532.5 1543.4,2532.2 1544.7,2532.2 1546.0,2532.2 1547.4,2532.2 1548.7,2532.2 1550.0,2532.2 1551.3,2532.2 1552.7,2531.9 1554.0,2531.5 1555.3,2531.2 1556.7,2530.9 1558.0,2530.5 1559.3,2530.2 1560.7,2530.2 1562.0,2530.2 1563.3,2530.2 1564.7,2530.2 1566.0,2530.2 1567.3,2530.2 1568.6,2519.6 1570.0,2508.9 1571.3,2498.3 1572.6,2484.6 1574.0,2471.7 1575.3,2458.4 1576.6,2430.8 1578.0,2405.2 1579.3,2378.6 1580.9,2372.2 1582.5,2370.6 1583.9,2386.5 1585.3,2398.5 1586.7,2429.0 1588.1,2458.4 1590.5,2438.4 1592.5,2243.6 1595.2,2331.7 1596.0,2131.2 1597.0,2205.1 1598.6,2311.5 1601.6,2217.6 1603.5,2317.8 1606.4,2526.2 1607.9,2526.2 1609.3,2526.2 1610.8,2526.2 1612.3,2526.2 1613.7,2526.2 1615.2,2526.2 1616.7,2525.2 1618.2,2524.2 1619.7,2523.2 1621.2,2522.2 1622.7,2521.7 1624.2,2521.2 1625.7,2520.7 1627.2,2520.2 1628.7,2520.7 1630.2,2521.2 1631.7,2521.7 1633.2,2522.2 1634.6,2522.2 1636.1,2522.2 1637.6,2522.2 1639.1,2522.2 1640.6,2523.2 1642.1,2524.2 1643.6,2525.2 1645.1,2526.2 1646.6,2526.7 1648.1,2527.2 1649.6,2527.7 1651.1,2528.2 1652.6,2527.7 1654.1,2527.2 1655.6,2526.7 1657.1,2526.2 1658.4,2516.9 1659.8,2507.6 1661.1,2498.3 1662.4,2494.2 1663.7,2490.4 1665.1,2486.3 1666.4,2485.3 1667.7,2483.4 1669.1,2482.3 1670.4,2485.1 1671.7,2487.5 1673.1,2490.3 1675.1,2378.6 1676.6,2372.4 1678.2,2370.6 1679.6,2369.7 1681.0,2370.6 1682.4,2387.5 1683.8,2402.5 1685.4,2422.2 1687.0,2438.4 1688.4,2446.4 1689.7,2452.9 1691.0,2458.4 1691.8,2063.2 1694.1,2336.6 1697.0,1986.6 1699.0,1859.8 1699.7,2248.0 1700.6,1724.3 1702.2,1579.3 1704.2,1579.3 1705.4,2258.9 1707.0,2510.2 1708.3,2510.6 1709.6,2510.9 1711.0,2511.2 1712.3,2511.6 1713.6,2511.9 1715.0,2512.2 1716.5,2512.7 1717.9,2513.2 1719.4,2513.7 1720.9,2514.2 1722.4,2514.2 1723.9,2514.2 1725.4,2514.2 1726.9,2514.2 1728.3,2508.9 1729.6,2503.6 1730.9,2498.3 1732.5,2486.3 1734.1,2474.3 1735.4,2473.1 1736.8,2471.8 1738.1,2470.3 1739.7,2468.9 1741.3,2467.8 1742.9,2466.4 1744.5,2420.6 1746.1,2378.6 1746.9,2118.9 1748.8,2241.8 1750.8,1983.7 1752.9,1947.6 1752.9,2331.5 1754.6,2080.4 1756.4,2321.5 1758.4,2024.6 1761.3,2241.1 1764.8,2378.6 1766.8,2418.5 1768.2,2424.8 1769.5,2430.9 1770.8,2438.4 1772.2,2443.1 1773.5,2445.7 1774.8,2450.4 1776.5,2447.2 1778.3,2441.5 1780.0,2438.2 1781.3,2443.7 1782.6,2451.4 1784.0,2458.1 1785.3,2457.9 1786.6,2457.8 1787.9,2458.1 1789.3,2448.8 1790.7,2438.2 1793.1,2390.3 1794.5,2392.8 1795.9,2398.3 1797.3,2418.9 1798.7,2438.2 1800.3,2458.8 1801.9,2478.0 1803.5,2500.0 1805.1,2521.9 1806.4,2522.0 1807.7,2522.1 1809.0,2522.2 1810.3,2522.3 1811.6,2522.4 1812.9,2522.6 1814.2,2522.7 1815.5,2522.8 1816.8,2522.9 1818.1,2523.0 1819.4,2523.1 1820.7,2523.2 1822.0,2523.3 1823.3,2523.4 1824.6,2523.5 1825.9,2523.6 1827.2,2523.7 1828.5,2523.8 1829.8,2523.9 1831.4,2516.9 1833.0,2510.0 1834.4,2508.0 1835.8,2506.0 1837.1,2507.3 1838.5,2508.6 1839.8,2510.0 1841.1,2512.6 1842.5,2515.3 1843.8,2517.9 1845.1,2519.3 1846.5,2520.6 1847.8,2521.9 1849.1,2513.9 1850.4,2506.0 1851.8,2498.0 1853.2,2368.4 1854.6,2238.7 1857.0,2139.0 1858.4,1987.2 1859.7,1843.8 1861.7,1939.6 1863.7,2039.3 1865.7,2178.9 1867.7,2298.5 1869.1,2335.3 1870.5,2378.3 1872.1,2403.4 1873.7,2426.2 1875.3,2438.8 1876.9,2450.1 1878.3,2434.2 1879.7,2418.2 1881.0,2403.4 1882.4,2392.5 1883.7,2378.3 1885.1,2397.9 1886.5,2418.2 1888.1,2438.6 1889.7,2458.1 1891.0,2460.0 1892.3,2464.1 1893.7,2466.1 1895.0,2469.4 1896.3,2473.7 1897.6,2478.0 1899.0,2484.6 1900.3,2491.2 1901.6,2498.0 1903.0,2508.6 1904.3,2519.3 1905.6,2529.9 1907.2,2533.9 1908.8,2537.9 1910.2,2533.9 1911.6,2529.9 1913.0,2513.9 1914.4,2498.0 1916.0,2488.1 1917.6,2478.0 1919.2,2483.8 1920.8,2490.0 1922.2,2502.0 1923.6,2513.9 1924.9,2516.6 1926.2,2519.3 1927.6,2521.9 1928.9,2523.3 1930.2,2524.6 1931.5,2525.9 1932.9,2523.3 1934.2,2520.6 1935.5,2517.9 1936.9,2513.9 1938.2,2510.0 1939.5,2506.0 1940.9,2503.3 1942.2,2500.6 1943.5,2498.0 1944.8,2500.6 1946.2,2503.3 1947.5,2506.0 1948.8,2496.7 1950.2,2487.5 1951.5,2478.0 1952.9,2447.6 1954.3,2418.2 1956.7,2243.4 1958.9,2331.6 1959.5,2083.2 1960.9,2107.4 1960.9,2235.5 1962.3,2119.1 1963.6,2336.9 1965.5,2130.5 1968.4,2352.0 1970.9,2227.4 1972.7,2339.7 1974.9,2217.8 1977.2,2381.8 1978.2,2178.9 1980.6,1922.6 1982.6,1859.8 1983.3,2134.2 1985.2,1985.8 1987.4,2196.0 1990.0,2241.1 1991.4,2298.5 1992.8,2340.0 1994.2,2378.3 1995.8,2408.6 1997.4,2438.2 1999.0,2459.1 2000.6,2478.0 2002.0,2487.8 2003.3,2498.0 2004.7,2508.0 2006.1,2517.9 2007.7,2519.9 2009.3,2521.9 2010.8,2521.9 2012.3,2521.9 2013.8,2521.9 2015.3,2521.9 2016.8,2520.9 2018.3,2519.9 2019.8,2518.9 2021.3,2517.9 2022.8,2515.9 2024.3,2513.9 2025.8,2512.0 2027.3,2510.0 2028.8,2507.0 2030.3,2504.0 2031.8,2501.0 2033.3,2498.0 2034.9,2495.3 2036.5,2492.6 2038.0,2490.0 2039.6,2494.1 2041.2,2498.0 2042.6,2502.0 2043.9,2506.0 2045.2,2510.0 2046.6,2512.6 2047.9,2515.3 2049.2,2517.9 2050.5,2511.3 2051.9,2504.6 2053.2,2498.0 2054.5,2491.3 2055.9,2484.8 2057.2,2478.0 2058.8,2446.9 2060.4,2418.2 2061.8,2375.6 2063.2,2338.4 2064.4,2139.3 2066.5,2314.3 2068.8,1964.5 2069.2,1939.6 2071.4,2284.7 2074.7,2347.3 2076.3,2398.3 2077.7,2429.5 2079.1,2458.1 2080.5,2459.1 2081.9,2458.1 2084.3,2191.0 2086.2,2337.6 2087.1,2158.9 2088.8,2218.0 2091.0,2327.0 2092.8,2241.4 2095.1,2328.1 2095.1,2147.0 2097.8,2176.7 2100.4,2337.2 2105.1,2529.9 2106.4,2530.0 2107.7,2530.2 2109.1,2530.3 2110.4,2530.4 2111.7,2530.6 2113.0,2530.7 2114.4,2530.8 2115.7,2531.0 2117.0,2531.1 2118.4,2531.2 2119.7,2531.4 2121.0,2531.5 2122.3,2531.6 2123.7,2531.8 2125.0,2531.9 2127.0,2478.0 2129.0,2398.3 2130.6,2392.3 2132.2,2386.3 2133.6,2397.9 2135.0,2410.2 2136.4,2434.7 2137.8,2458.1 2139.4,2473.7 2141.0,2490.0 2142.3,2479.4 2143.6,2468.4 2145.0,2458.1 2146.3,2445.5 2147.6,2432.2 2148.9,2418.2 2150.3,2380.0 2151.6,2338.6 2152.9,2298.5 2153.7,2234.9 2155.7,2381.7 2156.1,2226.7 2158.0,2259.2 2160.4,2405.7 2162.6,2226.9 2165.3,2403.6 2168.1,2274.3 2170.1,2280.5 2171.9,2400.4 2172.1,2210.8 2173.7,2210.8 2176.1,2298.5 2177.5,2337.7 2178.9,2378.3 2180.2,2392.7 2181.5,2406.4 2182.8,2418.2 2184.2,2431.5 2185.5,2445.4 2186.8,2458.1 2188.3,2465.6 2189.8,2474.0 2191.3,2481.9 2192.8,2490.0 2194.3,2497.0 2195.8,2504.0 2197.3,2511.0 2198.8,2517.9 2200.1,2521.3 2201.5,2524.6 2202.8,2527.9 2204.1,2527.8 2205.4,2527.7 2206.7,2527.6 2208.0,2527.6 2209.3,2527.5 2210.6,2527.4 2211.9,2527.3 2213.2,2527.2 2214.5,2527.1 2215.8,2527.0 2217.1,2527.0 2218.4,2526.9 2219.7,2526.8 2221.0,2526.7 2222.3,2526.6 2223.6,2526.5 2224.9,2526.4 2226.2,2526.3 2227.5,2526.3 2228.8,2526.2 2230.1,2526.1 2231.4,2526.0 2232.7,2525.9 2234.0,2524.6 2235.4,2523.3 2236.7,2521.9 2238.3,2508.0 2239.9,2494.0 2241.3,2492.1 2242.7,2490.0 2244.1,2494.1 2245.5,2498.0 2247.1,2504.0 2248.7,2510.0 2250.0,2511.3 2251.3,2512.6 2252.6,2513.9 2254.0,2515.3 2255.3,2516.6 2256.6,2517.9 2258.0,2519.3 2259.3,2520.6 2260.6,2521.9 2262.1,2523.9 2263.6,2525.9 2265.1,2527.9 2266.6,2529.9 2268.3,2527.2 2270.1,2524.6 2271.8,2521.9 2273.2,2513.9 2274.6,2506.0 2275.9,2500.6 2277.2,2495.3 2278.6,2490.0 2279.9,2492.8 2281.2,2495.3 2282.6,2498.0 2283.9,2504.6 2285.2,2511.3 2286.6,2517.9 2287.9,2521.9 2289.2,2525.9 2290.5,2529.9 2291.9,2528.6 2293.2,2527.2 2294.5,2525.9 2295.9,2524.6 2297.2,2523.3 2298.5,2521.9 2299.8,2520.6 2301.2,2519.3 2302.5,2517.9" fill="none" stroke="#0000ff" stroke-width="4.3" stroke-linejoin="round"/>
</g>
<line x1="306.0" y1="1552.0" x2="306.0" y2="2699.0" stroke="#000" stroke-width="2.6"/>
<line x1="305.0" y1="1553.5" x2="2306.0" y2="1553.5" stroke="#000" stroke-width="5"/>
<line x1="2303.7" y1="1552.0" x2="2303.7" y2="2697.5" stroke="#000" stroke-width="5"/>
<line x1="286.0" y1="2697.5" x2="2306.0" y2="2697.5" stroke="#000" stroke-width="2.8"/>
<line x1="267.0" y1="2609.1" x2="306.0" y2="2609.1" stroke="#000" stroke-width="3.4"/>
<text x="239.4" y="2625.0" text-anchor="end" font-family="'Liberation Serif','Times New Roman',serif" font-size="58">0</text>
<line x1="267.0" y1="2433.1" x2="306.0" y2="2433.1" stroke="#000" stroke-width="3.4"/>
<text x="239.4" y="2449.0" text-anchor="end" font-family="'Liberation Serif','Times New Roman',serif" font-size="58">200</text>
<line x1="267.0" y1="2257.1" x2="306.0" y2="2257.1" stroke="#000" stroke-width="3.4"/>
<text x="239.4" y="2273.0" text-anchor="end" font-family="'Liberation Serif','Times New Roman',serif" font-size="58">400</text>
<line x1="267.0" y1="2081.1" x2="306.0" y2="2081.1" stroke="#000" stroke-width="3.4"/>
<text x="239.4" y="2097.0" text-anchor="end" font-family="'Liberation Serif','Times New Roman',serif" font-size="58">600</text>
<line x1="267.0" y1="1905.1" x2="306.0" y2="1905.1" stroke="#000" stroke-width="3.4"/>
<text x="239.4" y="1921.0" text-anchor="end" font-family="'Liberation Serif','Times New Roman',serif" font-size="58">800</text>
<line x1="267.0" y1="1729.1" x2="306.0" y2="1729.1" stroke="#000" stroke-width="3.4"/>
<text x="239.4" y="1745.0" text-anchor="end" font-family="'Liberation Serif','Times New Roman',serif" font-size="58">1000</text>
<line x1="267.0" y1="1553.1" x2="306.0" y2="1553.1" stroke="#000" stroke-width="3.4"/>
<text x="239.4" y="1569.0" text-anchor="end" font-family="'Liberation Serif','Times New Roman',serif" font-size="58">1200</text>
<line x1="286.0" y1="2697.1" x2="306.0" y2="2697.1" stroke="#000" stroke-width="3.4"/>
<line x1="286.0" y1="2521.1" x2="306.0" y2="2521.1" stroke="#000" stroke-width="3.4"/>
<line x1="286.0" y1="2345.1" x2="306.0" y2="2345.1" stroke="#000" stroke-width="3.4"/>
<line x1="286.0" y1="2169.1" x2="306.0" y2="2169.1" stroke="#000" stroke-width="3.4"/>
<line x1="286.0" y1="1993.1" x2="306.0" y2="1993.1" stroke="#000" stroke-width="3.4"/>
<line x1="286.0" y1="1817.1" x2="306.0" y2="1817.1" stroke="#000" stroke-width="3.4"/>
<line x1="286.0" y1="1641.1" x2="306.0" y2="1641.1" stroke="#000" stroke-width="3.4"/>
<line x1="306.0" y1="2697.5" x2="306.0" y2="2736.5" stroke="#000" stroke-width="2.8"/>
<line x1="406.5" y1="2697.5" x2="406.5" y2="2717.0" stroke="#000" stroke-width="3.2"/>
<line x1="506.3" y1="2697.5" x2="506.3" y2="2736.5" stroke="#000" stroke-width="5.4"/>
<line x1="606.2" y1="2697.5" x2="606.2" y2="2717.0" stroke="#000" stroke-width="3.2"/>
<line x1="706.1" y1="2697.5" x2="706.1" y2="2736.5" stroke="#000" stroke-width="5.4"/>
<line x1="806.0" y1="2697.5" x2="806.0" y2="2717.0" stroke="#000" stroke-width="3.2"/>
<line x1="905.8" y1="2697.5" x2="905.8" y2="2736.5" stroke="#000" stroke-width="5.4"/>
<line x1="1005.7" y1="2697.5" x2="1005.7" y2="2717.0" stroke="#000" stroke-width="3.2"/>
<line x1="1105.6" y1="2697.5" x2="1105.6" y2="2736.5" stroke="#000" stroke-width="5.4"/>
<line x1="1205.4" y1="2697.5" x2="1205.4" y2="2717.0" stroke="#000" stroke-width="3.2"/>
<line x1="1305.3" y1="2697.5" x2="1305.3" y2="2736.5" stroke="#000" stroke-width="5.4"/>
<line x1="1405.2" y1="2697.5" x2="1405.2" y2="2717.0" stroke="#000" stroke-width="3.2"/>
<line x1="1505.0" y1="2697.5" x2="1505.0" y2="2736.5" stroke="#000" stroke-width="5.4"/>
<line x1="1604.9" y1="2697.5" x2="1604.9" y2="2717.0" stroke="#000" stroke-width="3.2"/>
<line x1="1704.8" y1="2697.5" x2="1704.8" y2="2736.5" stroke="#000" stroke-width="5.4"/>
<line x1="1804.7" y1="2697.5" x2="1804.7" y2="2717.0" stroke="#000" stroke-width="3.2"/>
<line x1="1904.5" y1="2697.5" x2="1904.5" y2="2736.5" stroke="#000" stroke-width="5.4"/>
<line x1="2004.4" y1="2697.5" x2="2004.4" y2="2717.0" stroke="#000" stroke-width="3.2"/>
<line x1="2104.3" y1="2697.5" x2="2104.3" y2="2736.5" stroke="#000" stroke-width="5.4"/>
<line x1="2204.1" y1="2697.5" x2="2204.1" y2="2717.0" stroke="#000" stroke-width="3.2"/>
<line x1="2303.7" y1="2697.5" x2="2303.7" y2="2736.5" stroke="#000" stroke-width="5.4"/>
<text transform="translate(166.5,2967.1) rotate(-45)" font-family="'Liberation Serif','Times New Roman',serif" font-size="58" stroke="#fff" stroke-width="1.1">01/03/2000</text>
<text transform="translate(374.0,2967.1) rotate(-45)" font-family="'Liberation Serif','Times New Roman',serif" font-size="58" stroke="#fff" stroke-width="1.1">01/03/2002</text>
<text transform="translate(570.9,2967.1) rotate(-45)" font-family="'Liberation Serif','Times New Roman',serif" font-size="58" stroke="#fff" stroke-width="1.1">01/03/2004</text>
<text transform="translate(794.4,2967.1) rotate(-45)" font-family="'Liberation Serif','Times New Roman',serif" font-size="58" stroke="#fff" stroke-width="1.1">01/03/2006</text>
<text transform="translate(988.1,2967.1) rotate(-45)" font-family="'Liberation Serif','Times New Roman',serif" font-size="58" stroke="#fff" stroke-width="1.1">01/03/2008</text>
<text transform="translate(1176.7,2967.1) rotate(-45)" font-family="'Liberation Serif','Times New Roman',serif" font-size="58" stroke="#fff" stroke-width="1.1">01/03/2010</text>
<text transform="translate(1377.6,2967.1) rotate(-45)" font-family="'Liberation Serif','Times New Roman',serif" font-size="58" stroke="#fff" stroke-width="1.1">01/03/2012</text>
<text transform="translate(1587.3,2967.1) rotate(-45)" font-family="'Liberation Serif','Times New Roman',serif" font-size="58" stroke="#fff" stroke-width="1.1">01/03/2014</text>
<text transform="translate(1772.4,2967.1) rotate(-45)" font-family="'Liberation Serif','Times New Roman',serif" font-size="58" stroke="#fff" stroke-width="1.1">01/03/2016</text>
<text transform="translate(1959.2,2967.1) rotate(-45)" font-family="'Liberation Serif','Times New Roman',serif" font-size="58" stroke="#fff" stroke-width="1.1">01/03/2018</text>
<text transform="translate(2184.8,2967.1) rotate(-45)" font-family="'Liberation Serif','Times New Roman',serif" font-size="58" stroke="#fff" stroke-width="1.1">30/04/2019</text>
<text x="344" y="1628.5" font-family="'Liberation Serif','Times New Roman',serif" font-size="58">(B) Validation (2000–2019)</text>
<text transform="translate(81,2106.5) rotate(-90)" text-anchor="middle" font-family="'Liberation Serif','Times New Roman',serif" font-size="58">Snowmelt runoff (m<tspan font-size="36" dy="-22">3</tspan><tspan dy="22">/s)</tspan></text>
<rect x="393.5" y="229" width="381" height="226" fill="#fff" stroke="#222" stroke-width="2.2"/>
<line x1="400" y1="272.8" x2="534" y2="272.8" stroke="#55ff99" stroke-width="2.4"/>
<line x1="400" y1="269.7" x2="534" y2="269.7" stroke="#00ff00" stroke-width="4"/>
<line x1="400" y1="342" x2="534" y2="342" stroke="#ff4040" stroke-width="5.5"/>
<line x1="400" y1="414.5" x2="534" y2="414.5" stroke="#0000ff" stroke-width="3.3"/>
<text x="545.5" y="289" font-family="'Liberation Serif','Times New Roman',serif" font-size="58" letter-spacing="4.67">SWAT</text>
<text x="546" y="360.5" font-family="'Liberation Serif','Times New Roman',serif" font-size="58">Observed</text>
<text x="545.5" y="434" font-family="'Liberation Serif','Times New Roman',serif" font-size="58" letter-spacing="4.4">SWAT+</text>
</svg></body></html>
